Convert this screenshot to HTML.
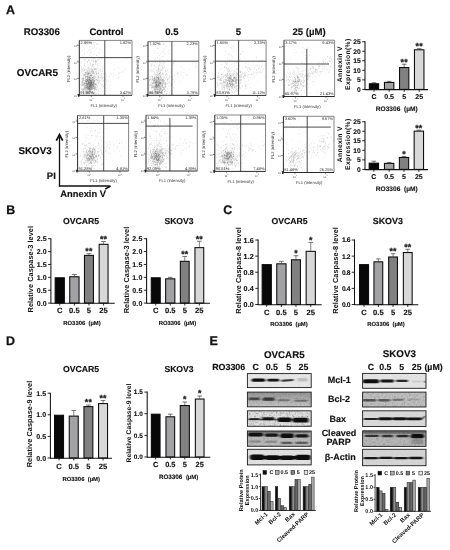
<!DOCTYPE html>
<html lang="en"><head><meta charset="utf-8"><title>Figure</title>
<style>html,body{margin:0;padding:0;background:#fff;}body{width:450px;height:550px;overflow:hidden;}svg{display:block;}</style></head>
<body>
<svg width="450" height="550" viewBox="0 0 450 550" font-family='"Liberation Sans", Arial, sans-serif' text-rendering="geometricPrecision">
<defs><filter id="bl" x="-20%" y="-50%" width="140%" height="200%"><feGaussianBlur stdDeviation="1.15 0.72"/></filter><filter id="nz" x="0" y="0" width="100%" height="100%"><feTurbulence type="fractalNoise" baseFrequency="0.55" numOctaves="2" seed="5"/><feColorMatrix type="matrix" values="2.2 0 0 0 -0.45  2.2 0 0 0 -0.45  2.2 0 0 0 -0.45  0 0 0 0 1"/></filter><linearGradient id="gd1" x1="0" y1="0" x2="0" y2="1"><stop offset="0" stop-color="#000" stop-opacity=".3"/><stop offset="1" stop-color="#000" stop-opacity="0"/></linearGradient></defs>
<rect x="0.00" y="0.00" width="450.00" height="550.00" fill="#ffffff" stroke="none" stroke-width="0.7" />
<text x="6.00" y="13.80" font-size="12.4" text-anchor="start" font-weight="bold" fill="#111" stroke="#111" stroke-width="0.25">A</text>
<text x="6.20" y="214.40" font-size="12.4" text-anchor="start" font-weight="bold" fill="#111" stroke="#111" stroke-width="0.25">B</text>
<text x="223.20" y="214.40" font-size="12.4" text-anchor="start" font-weight="bold" fill="#111" stroke="#111" stroke-width="0.25">C</text>
<text x="5.90" y="345.20" font-size="12.4" text-anchor="start" font-weight="bold" fill="#111" stroke="#111" stroke-width="0.25">D</text>
<text x="209.50" y="345.30" font-size="12.6" text-anchor="start" font-weight="bold" fill="#111" stroke="#111" stroke-width="0.25">E</text>
<text x="23.80" y="34.70" font-size="9.7" text-anchor="start" font-weight="bold" fill="#111"  stroke="#111" stroke-width="0.155">RO3306</text>
<text x="106.50" y="34.70" font-size="9.6" text-anchor="middle" font-weight="bold" fill="#111"  stroke="#111" stroke-width="0.154">Control</text>
<text x="171.80" y="34.70" font-size="9.6" text-anchor="middle" font-weight="bold" fill="#111"  stroke="#111" stroke-width="0.154">0.5</text>
<text x="238.50" y="34.70" font-size="9.6" text-anchor="middle" font-weight="bold" fill="#111"  stroke="#111" stroke-width="0.154">5</text>
<text x="309.00" y="34.70" font-size="9.6" text-anchor="middle" font-weight="bold" fill="#111"  stroke="#111" stroke-width="0.154">25 (µM)</text>
<text x="16.80" y="75.80" font-size="9.9" text-anchor="start" font-weight="bold" fill="#111"  stroke="#111" stroke-width="0.158">OVCAR5</text>
<text x="18.50" y="153.60" font-size="9.8" text-anchor="start" font-weight="bold" fill="#111"  stroke="#111" stroke-width="0.157">SKOV3</text>
<text x="46.80" y="179.00" font-size="9.5" text-anchor="start" font-weight="bold" fill="#111"  stroke="#111" stroke-width="0.152">PI</text>
<text x="60.30" y="197.40" font-size="9.35" text-anchor="start" font-weight="bold" fill="#111"  stroke="#111" stroke-width="0.150">Annexin V</text>
<line x1="59.50" y1="186.60" x2="59.50" y2="136.50" stroke="#111" stroke-width="1.3"/>
<path d="M56.3 140.6 L59.5 134.6 L62.7 140.6" fill="none" stroke="#111" stroke-width="1.75" stroke-linejoin="miter"/>
<line x1="58.85" y1="186.00" x2="109.60" y2="186.00" stroke="#111" stroke-width="1.3"/>
<path d="M105.2 189.2 L110.6 186.0" fill="none" stroke="#111" stroke-width="1.5"/>
<path d="M88.1 86.9h.6M88.2 82.2h.6M85.8 82.8h.6M92.8 86.4h.6M92.5 85.4h.6M90.3 85.0h.6M83.3 88.8h.6M90.7 86.8h.6M83.2 74.2h.6M86.0 81.4h.6M90.0 83.7h.6M90.8 80.4h.6M90.0 86.2h.6M86.8 93.6h.6M90.9 90.7h.6M86.9 79.9h.6M87.8 83.4h.6M91.1 85.4h.6M87.5 78.6h.6M87.2 90.8h.6M86.3 85.4h.6M90.5 75.7h.6M89.2 91.3h.6M82.2 82.2h.6M88.6 79.4h.6M90.7 83.7h.6M84.0 88.6h.6M91.3 89.3h.6M93.9 86.0h.6M89.4 76.7h.6M91.1 80.6h.6M87.5 76.9h.6M85.7 81.0h.6M93.4 72.6h.6M84.0 85.3h.6M93.9 87.2h.6M82.5 69.9h.6M90.2 79.9h.6M85.2 89.5h.6M92.7 84.9h.6M89.8 86.4h.6M94.4 87.5h.6M90.8 87.1h.6M83.7 91.2h.6M92.2 87.0h.6M82.3 80.5h.6M91.9 73.9h.6M88.4 89.7h.6M84.5 93.0h.6M90.9 83.2h.6M90.1 87.6h.6M89.4 90.4h.6M86.8 81.7h.6M92.5 84.2h.6M86.0 89.3h.6M94.0 81.5h.6M84.3 83.2h.6M88.5 82.3h.6M93.8 78.2h.6M93.3 76.9h.6M86.3 87.5h.6M92.8 88.8h.6M90.2 84.8h.6M89.5 87.2h.6M88.4 85.6h.6M90.9 84.0h.6M91.6 87.2h.6M95.8 85.8h.6M87.5 81.9h.6M89.0 89.2h.6M87.9 86.2h.6M95.2 69.6h.6M85.2 85.4h.6M90.4 85.3h.6M87.5 87.7h.6M90.0 81.1h.6M97.3 86.0h.6M87.1 83.4h.6M88.2 83.6h.6M92.4 77.5h.6M88.8 89.3h.6M91.9 92.3h.6M83.2 82.0h.6M87.8 87.5h.6M92.7 69.0h.6M92.7 75.9h.6M91.3 75.6h.6M89.6 90.7h.6M88.5 85.1h.6M91.7 84.8h.6M88.7 92.6h.6M92.6 82.4h.6M98.3 77.6h.6M92.1 82.5h.6M89.5 87.9h.6M89.8 87.6h.6M83.8 75.5h.6M91.1 78.6h.6M85.5 75.8h.6M93.3 88.2h.6M94.0 78.7h.6M89.0 77.6h.6M91.6 92.9h.6M86.0 92.7h.6M92.4 83.0h.6M82.3 91.9h.6M88.7 80.6h.6M90.4 86.3h.6M94.1 78.3h.6M92.9 92.3h.6M93.9 83.0h.6M86.5 89.7h.6M89.4 84.7h.6M93.8 82.5h.6M81.2 81.8h.6M82.7 88.6h.6M90.1 80.6h.6M89.0 88.7h.6M89.3 91.4h.6M88.8 89.8h.6M94.1 93.0h.6M86.7 88.9h.6M82.6 77.9h.6M82.3 90.0h.6M84.8 83.9h.6M88.3 83.8h.6M87.0 85.3h.6M95.1 84.2h.6M90.8 89.6h.6M88.3 76.9h.6M87.1 90.0h.6M83.4 80.7h.6M92.4 88.4h.6M89.0 88.5h.6M89.6 77.4h.6M83.7 80.4h.6M92.1 80.8h.6M85.9 79.7h.6M83.8 83.3h.6M85.0 86.0h.6M81.0 85.8h.6M86.8 73.1h.6M91.5 82.5h.6M81.4 79.1h.6M90.0 81.4h.6M91.7 88.2h.6M91.3 85.8h.6M93.5 87.7h.6M90.5 72.3h.6M92.0 91.3h.6M88.0 81.4h.6M95.6 74.2h.6M85.8 87.9h.6M95.4 83.3h.6M90.9 89.1h.6M85.9 83.5h.6M90.0 88.6h.6M88.9 82.9h.6M85.5 82.0h.6M92.0 84.6h.6M86.1 79.3h.6M98.1 90.4h.6M91.2 69.5h.6M91.1 86.7h.6M94.7 86.4h.6M88.8 86.9h.6M82.4 89.8h.6M90.1 80.1h.6M93.5 94.1h.6M84.2 80.3h.6M90.0 85.0h.6M87.6 78.5h.6M96.2 89.8h.6M84.9 76.5h.6M94.8 89.5h.6M95.2 88.5h.6M86.0 85.5h.6M81.7 79.8h.6M88.8 86.9h.6M86.5 83.3h.6M90.6 86.1h.6M91.2 85.2h.6M87.9 88.4h.6M89.2 79.4h.6M86.9 84.0h.6M88.6 84.9h.6M89.0 85.0h.6M88.5 77.0h.6M90.4 89.9h.6M90.5 82.9h.6M90.5 78.6h.6M82.6 84.3h.6M85.8 88.1h.6M85.3 69.3h.6M85.5 92.8h.6M87.7 76.3h.6M86.4 86.9h.6M90.7 85.0h.6M94.0 88.0h.6M88.9 87.3h.6M94.6 89.4h.6M92.5 77.9h.6M88.5 88.1h.6M88.0 90.0h.6M91.0 89.1h.6M93.2 82.8h.6M87.8 88.9h.6M92.3 84.0h.6M85.0 85.1h.6M90.2 90.3h.6M91.7 84.1h.6M91.9 87.0h.6M89.7 84.3h.6M88.2 87.8h.6M85.4 80.5h.6M89.0 75.8h.6M87.5 72.8h.6M86.7 87.2h.6M90.9 83.7h.6M88.2 76.1h.6M95.2 86.9h.6M92.7 79.1h.6M88.4 73.8h.6M91.7 89.2h.6M82.5 83.7h.6M91.1 74.1h.6M82.8 78.0h.6M86.9 76.1h.6M89.1 85.4h.6M91.2 87.9h.6M94.1 90.5h.6M84.5 81.2h.6M85.4 78.0h.6M88.7 84.0h.6M90.7 75.1h.6M84.8 83.9h.6M88.3 82.3h.6M88.8 79.7h.6M91.4 86.0h.6M88.7 80.2h.6M88.4 68.8h.6M85.7 84.2h.6M83.9 85.1h.6M89.5 76.3h.6M88.1 82.2h.6M90.6 87.4h.6M88.9 79.2h.6M88.5 83.6h.6M91.5 85.6h.6M86.5 76.4h.6M87.7 79.9h.6M85.2 83.4h.6M87.3 84.6h.6M90.8 81.7h.6M96.9 82.2h.6M92.7 84.7h.6M92.8 70.7h.6M86.4 85.4h.6M90.1 91.2h.6M91.6 89.3h.6M90.7 83.1h.6M90.7 78.0h.6M93.0 78.3h.6M88.2 84.1h.6M93.0 84.1h.6M86.3 85.4h.6M91.0 88.0h.6M86.4 93.8h.6M94.7 84.1h.6M89.9 81.6h.6M93.8 80.1h.6M91.3 81.3h.6M86.6 88.0h.6M93.5 83.9h.6M86.7 88.5h.6M88.8 85.7h.6M94.2 90.3h.6M89.0 88.4h.6M86.8 83.7h.6M83.1 94.0h.6M93.6 77.2h.6M83.9 74.9h.6M93.0 81.4h.6M88.8 82.2h.6M88.6 77.9h.6M89.1 75.9h.6M88.8 85.7h.6M90.6 82.7h.6M85.9 84.9h.6M87.4 92.8h.6M91.6 83.4h.6M87.4 80.1h.6M85.8 82.0h.6M90.0 86.9h.6M86.6 84.1h.6M98.5 73.5h.6M87.2 84.9h.6M89.5 86.3h.6M88.2 86.1h.6M89.2 88.3h.6M82.6 79.0h.6M89.0 78.2h.6M85.4 87.5h.6M86.8 87.6h.6M91.5 85.7h.6M90.7 83.4h.6M84.2 83.8h.6M90.5 81.0h.6M88.7 88.2h.6M86.0 87.6h.6M95.3 80.9h.6M89.5 83.2h.6M94.2 85.8h.6M92.1 80.1h.6M88.9 83.9h.6M83.0 92.1h.6M92.1 74.2h.6M91.5 83.3h.6M90.5 86.1h.6M83.9 82.8h.6M94.1 80.8h.6M85.5 76.4h.6M84.8 85.9h.6M94.8 86.4h.6M87.2 80.2h.6M90.8 87.1h.6M85.5 77.4h.6M90.0 85.4h.6M84.6 82.9h.6M87.2 86.6h.6M88.6 83.5h.6M87.8 89.9h.6M93.7 81.9h.6M91.9 79.8h.6M89.2 88.2h.6M94.1 81.9h.6M88.7 85.1h.6M83.9 84.1h.6M86.7 86.1h.6M85.2 72.9h.6M89.1 85.5h.6M87.1 89.0h.6M88.1 80.6h.6M90.6 75.2h.6M86.7 83.9h.6M91.9 83.1h.6M90.0 80.3h.6M90.0 93.3h.6M86.8 84.1h.6M89.6 89.7h.6M84.8 72.2h.6M91.1 88.5h.6M89.7 85.4h.6M92.2 86.1h.6M94.7 77.1h.6M87.7 64.7h.6M91.8 81.9h.6M89.0 82.6h.6M87.3 79.3h.6M86.9 87.6h.6M89.1 84.4h.6M88.4 89.1h.6M90.7 83.2h.6M91.3 83.2h.6M85.1 92.1h.6M90.6 78.6h.6M92.7 85.9h.6M83.7 93.0h.6M90.1 89.0h.6M89.7 83.2h.6M83.7 89.4h.6M89.1 82.4h.6M90.2 84.4h.6M91.3 81.9h.6M88.9 72.0h.6M87.6 87.8h.6M93.5 82.0h.6M88.6 92.9h.6M87.9 88.1h.6M94.7 84.2h.6M93.2 80.0h.6M89.7 83.6h.6M89.4 90.3h.6M97.1 80.3h.6M87.0 86.8h.6M85.4 86.8h.6M90.9 82.4h.6M90.8 75.3h.6M91.6 75.3h.6M86.6 80.9h.6M87.6 88.8h.6M89.3 81.8h.6M90.8 92.9h.6M89.0 86.0h.6M93.2 85.5h.6M96.5 72.9h.6M88.9 86.3h.6M92.3 87.7h.6M88.1 78.1h.6M89.4 89.8h.6M85.3 78.2h.6M88.9 73.2h.6M88.1 81.6h.6M90.5 80.1h.6M86.0 81.8h.6M88.8 80.3h.6M89.0 88.2h.6M93.0 93.5h.6M86.3 81.6h.6M86.5 83.8h.6M90.8 76.4h.6M90.6 83.9h.6M82.8 85.6h.6M93.1 73.5h.6M91.7 85.2h.6M90.6 86.5h.6M93.4 82.7h.6M92.0 81.7h.6M91.5 79.4h.6M88.6 93.7h.6M90.5 83.1h.6M85.1 79.6h.6M89.7 89.3h.6M90.4 86.9h.6M88.9 91.6h.6M87.7 80.9h.6M92.0 84.4h.6M88.1 80.8h.6M88.1 87.5h.6M90.2 77.2h.6M90.4 85.0h.6M85.6 88.3h.6M88.0 82.1h.6M91.7 91.4h.6M86.7 86.5h.6M87.3 90.7h.6M86.8 88.5h.6M96.5 69.8h.6M87.5 86.8h.6M88.7 80.3h.6M96.3 84.4h.6M83.4 88.8h.6M83.1 90.4h.6M87.0 84.8h.6M93.3 84.7h.6M84.3 74.5h.6M93.0 88.1h.6M86.2 88.8h.6M90.7 87.6h.6M81.3 82.3h.6M92.1 88.1h.6M92.0 70.2h.6M89.6 86.8h.6M97.7 78.7h.6M87.9 84.2h.6M92.0 81.5h.6M92.9 79.6h.6M89.9 81.0h.6M89.5 80.1h.6M83.6 90.1h.6M90.0 80.9h.6M89.7 89.5h.6M85.7 83.4h.6M90.8 86.9h.6M87.9 72.2h.6M93.2 85.8h.6M89.0 82.4h.6M89.9 81.6h.6M85.5 79.9h.6M87.0 80.6h.6M85.1 87.6h.6M84.5 87.7h.6M85.6 86.0h.6M93.7 85.1h.6M86.5 84.3h.6M89.5 74.3h.6M86.9 84.9h.6M87.4 84.4h.6M91.5 88.3h.6M92.1 87.3h.6M88.0 83.9h.6M88.1 82.2h.6M88.4 74.3h.6M87.9 83.9h.6M85.7 83.9h.6M90.8 83.1h.6M96.1 69.4h.6M88.3 73.8h.6M80.5 84.7h.6M90.8 82.3h.6M90.9 71.4h.6M91.9 86.1h.6M89.1 80.7h.6M91.2 81.3h.6M89.8 81.1h.6M81.4 83.8h.6M89.7 88.2h.6M86.0 83.8h.6M91.1 84.8h.6M85.9 73.2h.6M91.9 92.6h.6M92.1 88.6h.6M86.9 80.0h.6M92.0 78.9h.6M82.8 78.4h.6M86.7 79.9h.6M89.8 79.8h.6M93.5 83.6h.6M85.3 91.3h.6M87.0 85.2h.6M89.0 82.2h.6M90.1 80.1h.6M82.7 71.6h.6M84.7 79.8h.6M88.9 84.3h.6M90.9 84.7h.6M86.3 80.0h.6M81.8 83.1h.6M90.6 87.0h.6M88.6 83.0h.6M92.2 84.1h.6M91.5 87.3h.6M89.7 91.3h.6M87.1 82.0h.6M86.3 79.5h.6M94.3 93.9h.6M89.1 87.2h.6M93.0 88.5h.6M93.1 76.9h.6M86.8 86.5h.6M93.9 84.6h.6M86.1 82.0h.6M86.8 79.2h.6M94.1 80.5h.6M93.0 85.9h.6M86.9 86.3h.6M94.5 87.5h.6M93.3 84.5h.6M90.8 82.9h.6M90.5 91.3h.6M84.1 83.6h.6M89.8 80.8h.6M88.0 88.4h.6M95.8 87.5h.6M90.1 75.3h.6M95.6 84.4h.6M88.9 77.7h.6M88.8 77.9h.6M89.2 86.6h.6M89.1 85.6h.6M86.1 92.0h.6M86.8 73.8h.6M88.4 79.7h.6M85.6 82.0h.6M90.0 77.4h.6M88.5 92.0h.6M91.3 83.1h.6M89.4 83.3h.6M88.8 88.1h.6M88.7 70.5h.6M88.9 79.0h.6M91.2 80.6h.6M85.4 77.7h.6M84.2 70.6h.6M82.6 86.0h.6M86.8 73.5h.6M84.0 87.5h.6M86.4 81.9h.6M90.1 91.6h.6M95.6 89.8h.6M89.5 85.0h.6M95.1 92.0h.6M87.9 86.6h.6M90.0 84.3h.6M87.3 76.6h.6M87.2 75.4h.6M93.2 87.0h.6M84.9 91.8h.6M92.0 73.3h.6M95.3 88.5h.6M96.0 77.1h.6M90.8 86.4h.6M89.7 85.0h.6M92.6 75.6h.6M84.8 76.2h.6M87.1 80.6h.6M90.2 85.5h.6M89.1 80.2h.6M87.5 89.3h.6M91.6 84.6h.6M87.9 92.7h.6M87.0 87.6h.6M92.9 82.5h.6M91.8 77.8h.6M92.4 85.1h.6M83.6 87.7h.6M86.0 91.2h.6M86.7 83.1h.6M90.0 82.1h.6M89.9 80.9h.6M91.3 84.0h.6M89.7 68.6h.6M92.9 84.2h.6M82.9 84.5h.6M90.6 90.0h.6M85.3 92.7h.6M88.5 87.8h.6M87.8 77.8h.6M92.7 89.1h.6M94.2 88.8h.6M87.1 74.7h.6M86.8 80.2h.6M86.2 87.3h.6M90.1 82.5h.6M89.6 83.2h.6M89.7 88.2h.6M92.3 80.2h.6M83.9 92.0h.6M89.4 90.2h.6M90.7 65.8h.6M87.2 86.4h.6M84.9 66.2h.6M93.9 88.5h.6M91.7 67.1h.6M95.6 87.0h.6M94.1 74.9h.6M92.5 87.0h.6M86.9 61.9h.6M92.6 84.1h.6M90.6 88.0h.6M86.7 78.7h.6M88.5 84.9h.6M100.8 77.1h.6M103.8 94.1h.6M95.6 85.1h.6M101.9 77.8h.6M89.8 69.4h.6M93.6 92.3h.6M93.9 83.5h.6M89.2 81.1h.6M81.3 89.5h.6M87.9 69.0h.6M85.6 71.7h.6M96.0 89.6h.6M81.7 88.3h.6M96.2 74.0h.6M80.9 72.4h.6M86.4 82.8h.6M88.2 60.2h.6M92.0 64.9h.6M96.3 68.0h.6M86.0 71.4h.6M87.0 91.9h.6M96.0 85.2h.6M92.6 64.8h.6M87.1 74.2h.6M84.2 84.3h.6M85.7 72.7h.6M83.8 59.9h.6M94.3 92.2h.6M91.6 70.2h.6M98.4 82.3h.6M96.5 93.6h.6M97.8 75.3h.6M97.3 86.9h.6M80.6 75.6h.6M81.3 78.5h.6M94.2 69.3h.6M92.9 93.5h.6M81.9 89.6h.6M89.1 82.1h.6M89.5 89.0h.6M97.2 80.3h.6M81.7 86.6h.6M87.5 85.5h.6M97.8 75.2h.6M87.0 83.6h.6M98.2 91.5h.6M93.9 66.9h.6M82.4 81.9h.6M84.9 90.3h.6M95.5 63.6h.6M85.2 81.1h.6M87.3 78.0h.6M93.5 71.8h.6M93.5 73.4h.6M87.0 84.6h.6M86.8 82.2h.6M100.8 79.8h.6M89.6 86.5h.6M88.1 89.8h.6M82.2 85.4h.6M87.2 71.9h.6M101.9 71.4h.6M101.8 85.8h.6M99.9 70.2h.6M98.2 93.4h.6M89.7 78.3h.6M106.4 81.2h.6M87.8 73.5h.6M93.4 82.6h.6M88.4 84.0h.6M99.9 69.9h.6M81.7 69.1h.6M83.8 61.9h.6M93.4 61.8h.6M93.7 93.3h.6M85.7 77.0h.6M90.9 84.7h.6M88.3 79.6h.6M87.0 80.6h.6M82.9 80.1h.6M102.9 80.3h.6M82.4 81.9h.6M84.2 63.8h.6M85.7 86.5h.6M93.0 78.6h.6M84.5 69.2h.6M99.2 81.8h.6M84.4 59.4h.6M83.1 78.8h.6M91.9 78.0h.6M88.7 66.4h.6M85.6 87.5h.6M92.2 89.4h.6M83.2 85.2h.6M93.0 72.5h.6M93.6 71.0h.6M85.4 79.3h.6M84.0 65.6h.6M87.8 86.8h.6M87.9 91.6h.6M83.0 67.0h.6M100.5 83.3h.6M96.6 71.6h.6M95.7 82.0h.6M94.7 79.7h.6M98.3 73.3h.6M84.3 65.4h.6M98.0 72.5h.6M83.8 70.6h.6M87.6 67.4h.6M88.6 73.5h.6M86.9 70.4h.6M90.7 75.1h.6M91.2 81.9h.6M92.7 58.7h.6M87.0 71.9h.6M95.5 64.5h.6M85.9 76.7h.6M88.3 88.9h.6M87.6 88.7h.6M81.0 62.2h.6M98.4 83.6h.6M93.7 80.7h.6M93.6 67.9h.6M96.6 74.4h.6M96.9 80.3h.6M97.8 78.2h.6M87.9 81.8h.6M87.8 74.3h.6M91.2 80.9h.6M100.3 79.9h.6M101.6 89.6h.6M91.3 80.8h.6M89.6 72.5h.6M90.1 73.4h.6M101.1 84.6h.6M87.6 61.3h.6M90.2 75.5h.6M83.5 68.7h.6M90.3 78.1h.6M99.8 80.8h.6M91.6 76.0h.6M86.6 93.8h.6M88.2 79.8h.6M84.8 88.7h.6M81.5 84.9h.6M97.6 92.9h.6M84.4 89.9h.6M85.9 72.3h.6M82.0 90.5h.6M101.1 73.8h.6M85.6 76.3h.6M106.7 89.1h.6M87.0 62.4h.6M86.2 90.8h.6M102.6 77.0h.6M86.0 74.6h.6M83.5 89.6h.6M92.4 72.2h.6M95.5 79.6h.6M82.9 85.4h.6M95.9 61.3h.6M102.3 84.2h.6M95.4 61.8h.6M85.9 76.2h.6M97.5 65.6h.6M84.8 60.2h.6M88.9 82.8h.6M94.8 76.6h.6M82.9 70.6h.6M86.2 80.9h.6M92.4 69.3h.6M100.5 88.5h.6M91.2 72.6h.6M96.4 71.9h.6M82.0 81.4h.6M92.1 85.3h.6M94.7 92.9h.6M85.1 88.8h.6M84.1 86.1h.6M91.7 81.8h.6M96.8 79.3h.6M97.7 87.8h.6M91.4 74.1h.6M85.6 74.5h.6M89.2 79.3h.6M109.8 85.6h.6M95.5 71.3h.6M85.9 76.5h.6M91.7 69.6h.6M100.9 74.1h.6M97.5 57.3h.6M90.5 82.1h.6M91.7 85.2h.6M92.3 81.0h.6M92.5 77.6h.6M85.2 74.0h.6M90.1 91.8h.6M87.4 71.2h.6M86.9 81.3h.6M110.0 73.2h.6M90.8 82.1h.6M90.3 88.4h.6M102.0 67.7h.6M91.5 77.0h.6M92.8 64.9h.6M93.9 81.3h.6M91.0 57.0h.6M88.1 72.3h.6M81.4 70.8h.6M95.0 84.7h.6M90.4 84.4h.6M86.6 80.2h.6M90.8 84.8h.6M90.0 78.1h.6M89.6 73.4h.6M104.9 84.4h.6M99.6 64.7h.6M95.0 87.5h.6M102.7 92.0h.6M95.5 68.3h.6M84.9 82.1h.6M93.8 69.8h.6M88.0 75.7h.6M90.9 82.7h.6M88.6 67.7h.6M89.8 89.3h.6M93.4 85.8h.6M93.6 72.2h.6M94.2 89.1h.6M103.4 86.6h.6M88.3 73.8h.6M85.2 80.6h.6M90.3 85.9h.6M105.2 79.2h.6M94.9 84.0h.6M92.3 77.5h.6M89.7 71.7h.6M91.7 79.3h.6M92.6 71.4h.6M90.8 80.0h.6M94.4 69.4h.6M93.2 88.9h.6M94.4 76.0h.6M87.3 77.3h.6M95.2 94.3h.6M89.5 73.4h.6M92.9 81.4h.6M84.6 72.5h.6M89.8 85.9h.6M82.8 69.8h.6M93.7 67.8h.6M91.2 82.9h.6M89.8 69.8h.6M90.1 76.3h.6M92.7 71.5h.6M97.6 63.6h.6M89.4 79.6h.6M96.7 73.7h.6M94.0 74.1h.6M87.9 83.7h.6M84.5 88.8h.6M98.3 79.8h.6M83.2 83.3h.6M97.9 89.9h.6M95.8 62.1h.6M86.1 93.0h.6M82.6 90.3h.6M102.7 86.8h.6M97.7 76.3h.6M82.6 78.5h.6M89.2 79.0h.6M95.0 78.1h.6M91.7 83.5h.6M93.4 80.3h.6M89.2 73.5h.6M99.2 80.9h.6M83.5 74.1h.6M89.6 75.3h.6M97.5 68.4h.6M93.7 80.9h.6M82.9 80.0h.6M89.9 84.3h.6M87.6 82.4h.6M95.6 89.4h.6M90.4 73.8h.6M97.5 59.6h.6M85.3 85.9h.6M94.7 69.7h.6M91.5 71.0h.6M90.9 88.1h.6M95.3 59.7h.6M95.5 62.6h.6M97.9 83.3h.6M105.1 73.7h.6M90.5 89.5h.6M86.4 72.8h.6M88.1 78.8h.6M83.5 84.1h.6M94.0 80.2h.6M101.5 76.4h.6M98.9 74.3h.6M95.4 61.1h.6M91.8 77.8h.6M87.3 73.7h.6M88.3 72.6h.6M86.9 74.5h.6M83.7 78.2h.6M95.6 77.1h.6M87.3 92.4h.6M96.8 88.3h.6M98.0 76.4h.6M89.7 90.1h.6M86.9 78.4h.6M92.9 83.0h.6M88.7 88.9h.6M89.3 86.4h.6M97.4 85.8h.6M95.2 68.5h.6M82.0 73.6h.6M93.6 93.8h.6M82.6 82.4h.6M85.0 72.5h.6M88.7 86.1h.6M91.9 90.7h.6M84.1 88.0h.6M96.5 80.2h.6M93.6 74.1h.6M83.5 75.6h.6M91.8 82.5h.6M95.3 72.1h.6M96.4 83.1h.6M80.7 85.2h.6M94.1 83.8h.6M100.7 75.6h.6M93.8 86.6h.6M84.7 90.9h.6M81.1 67.1h.6M93.9 69.1h.6M89.7 63.8h.6M90.9 68.7h.6M92.7 64.9h.6M93.4 77.0h.6M90.9 78.9h.6M91.3 66.9h.6M84.5 75.2h.6M93.3 60.6h.6M85.6 73.7h.6M83.7 82.6h.6M89.6 71.7h.6M84.1 87.2h.6M86.2 85.1h.6M93.4 61.5h.6M83.5 79.5h.6M92.7 86.9h.6M95.7 89.3h.6M88.1 77.5h.6M95.5 75.4h.6M97.3 64.4h.6M94.7 77.9h.6M92.5 79.7h.6M83.5 75.1h.6M100.3 71.6h.6M82.8 78.2h.6M88.0 70.8h.6M85.1 89.5h.6M87.0 69.1h.6M95.6 84.9h.6M83.8 86.6h.6M97.8 77.1h.6M82.1 84.4h.6M96.4 79.3h.6M93.2 86.8h.6M102.5 77.1h.6M87.4 79.1h.6M98.3 70.5h.6M98.9 53.3h.6M95.7 73.1h.6M93.5 86.1h.6M82.9 78.7h.6M92.1 85.1h.6M84.5 70.1h.6M89.3 77.4h.6M80.8 88.4h.6M87.0 93.2h.6M96.0 79.7h.6M95.2 68.9h.6M88.4 74.0h.6M82.3 79.7h.6M89.6 93.2h.6M84.6 75.1h.6M93.2 83.3h.6M90.7 75.0h.6M93.7 82.9h.6M81.6 68.3h.6M91.4 80.1h.6M91.2 71.2h.6M89.2 70.8h.6M93.0 86.1h.6M101.8 91.6h.6M85.3 75.1h.6M84.4 82.4h.6M103.3 86.2h.6M82.1 84.4h.6M90.5 82.4h.6M102.0 71.6h.6M92.7 72.1h.6M90.8 89.0h.6M119.4 72.8h.6M118.4 67.8h.6M103.0 81.1h.6M101.8 78.5h.6M116.5 75.3h.6M106.2 76.0h.6M97.7 77.3h.6M102.6 80.8h.6M105.9 79.3h.6M108.3 81.0h.6M94.1 88.4h.6M90.8 82.9h.6M123.4 71.2h.6M113.3 76.2h.6M103.7 77.3h.6M99.3 78.8h.6M118.1 77.9h.6M112.9 73.8h.6M116.7 78.9h.6M92.3 80.1h.6M103.1 73.7h.6M114.4 69.2h.6M109.1 76.4h.6M121.2 72.5h.6M92.8 79.4h.6M111.1 74.5h.6M104.6 78.6h.6M118.2 73.4h.6M126.2 58.8h.6M125.3 69.6h.6M89.3 77.8h.6M101.9 78.8h.6M118.4 77.2h.6M104.5 74.1h.6M100.4 77.4h.6M91.6 44.1h.6M90.5 49.1h.6M93.5 58.2h.6M96.4 44.0h.6M89.1 49.9h.6M99.2 77.3h.6M84.2 53.0h.6M88.3 60.5h.6M90.0 42.4h.6M87.4 77.1h.6M92.7 44.2h.6M87.6 77.9h.6M90.7 52.6h.6M90.9 47.0h.6M93.0 80.4h.6M88.4 73.6h.6M99.2 58.8h.6M96.3 73.5h.6M94.1 46.1h.6M88.1 81.8h.6M80.9 71.2h.6M97.8 73.1h.6M95.7 61.2h.6M85.3 44.7h.6M90.2 63.7h.6M86.5 81.0h.6M98.4 44.2h.6M98.6 71.6h.6M93.5 65.1h.6M88.0 82.7h.6M87.6 52.8h.6M86.8 44.9h.6M88.5 50.8h.6M96.4 55.3h.6M97.6 70.3h.6M98.4 52.3h.6M92.3 60.9h.6M98.5 81.3h.6M89.3 79.2h.6M95.7 48.3h.6M87.5 76.3h.6M90.1 65.2h.6M92.2 70.1h.6M88.7 67.3h.6M83.0 77.0h.6M94.2 47.2h.6M90.7 51.0h.6M97.0 44.9h.6M91.3 71.6h.6M95.5 61.0h.6M95.7 61.9h.6M95.1 57.5h.6M93.0 42.8h.6M93.8 83.7h.6M92.0 72.2h.6M89.7 83.2h.6M89.6 62.7h.6M91.0 60.5h.6M94.5 42.7h.6M98.3 80.7h.6M87.3 81.3h.6M86.0 69.5h.6M92.0 48.2h.6M96.1 43.6h.6M93.6 54.7h.6M81.7 50.1h.6M85.2 81.0h.6M84.0 49.4h.6M94.2 73.3h.6M82.0 56.0h.6M96.1 55.7h.6M101.3 57.7h.6M87.0 77.0h.6M90.4 52.4h.6M98.8 68.5h.6M93.8 76.5h.6M88.7 81.7h.6M80.6 63.0h.6M88.8 54.9h.6M92.0 66.6h.6M99.3 49.2h.6M96.0 60.8h.6M94.3 44.1h.6M91.6 60.7h.6M95.2 42.5h.6M100.1 77.4h.6M97.9 60.1h.6M84.5 54.2h.6M88.6 59.9h.6" stroke="#333" stroke-width=".6" stroke-opacity=".34" fill="none"/>
<path d="M79.30 40.40H132.00V95.30" fill="none" stroke="#444" stroke-width=".65"/>
<path d="M79.30 40.40V95.30H132.00" fill="none" stroke="#1e1e1e" stroke-width=".95"/>
<line x1="104.80" y1="40.40" x2="104.80" y2="95.30" stroke="#2c2c2c" stroke-width="0.85"/>
<line x1="79.30" y1="57.60" x2="132.00" y2="57.60" stroke="#2c2c2c" stroke-width="0.85"/>
<line x1="77.50" y1="94.90" x2="79.30" y2="94.90" stroke="#333" stroke-width="0.5"/>
<text x="76.90" y="96.50" font-size="2.6" text-anchor="end" font-weight="normal" fill="#444" >10</text>
<text x="78.10" y="95.10" font-size="1.8" text-anchor="end" font-weight="normal" fill="#444" >0</text>
<line x1="77.50" y1="78.40" x2="79.30" y2="78.40" stroke="#333" stroke-width="0.5"/>
<text x="76.90" y="80.00" font-size="2.6" text-anchor="end" font-weight="normal" fill="#444" >10</text>
<text x="78.10" y="78.60" font-size="1.8" text-anchor="end" font-weight="normal" fill="#444" >1</text>
<line x1="77.50" y1="61.90" x2="79.30" y2="61.90" stroke="#333" stroke-width="0.5"/>
<text x="76.90" y="63.50" font-size="2.6" text-anchor="end" font-weight="normal" fill="#444" >10</text>
<text x="78.10" y="62.10" font-size="1.8" text-anchor="end" font-weight="normal" fill="#444" >2</text>
<line x1="77.50" y1="45.40" x2="79.30" y2="45.40" stroke="#333" stroke-width="0.5"/>
<text x="76.90" y="47.00" font-size="2.6" text-anchor="end" font-weight="normal" fill="#444" >10</text>
<text x="78.10" y="45.60" font-size="1.8" text-anchor="end" font-weight="normal" fill="#444" >3</text>
<line x1="91.42" y1="95.30" x2="91.42" y2="97.10" stroke="#333" stroke-width="0.5"/>
<text x="90.82" y="100.50" font-size="2.6" text-anchor="middle" font-weight="normal" fill="#444" >10</text>
<text x="92.92" y="99.10" font-size="1.8" text-anchor="middle" font-weight="normal" fill="#444" >1</text>
<line x1="123.04" y1="95.30" x2="123.04" y2="97.10" stroke="#333" stroke-width="0.5"/>
<text x="122.44" y="100.50" font-size="2.6" text-anchor="middle" font-weight="normal" fill="#444" >10</text>
<text x="124.54" y="99.10" font-size="1.8" text-anchor="middle" font-weight="normal" fill="#444" >2</text>
<rect x="77.90" y="94.10" width="1.60" height="2.60" fill="#222" stroke="none" stroke-width="0.7" />
<text x="80.60" y="44.40" font-size="4.0" text-anchor="start" font-weight="normal" fill="#333" >2.86%</text>
<text x="131.10" y="44.40" font-size="4.0" text-anchor="end" font-weight="normal" fill="#333" >1.82%</text>
<text x="80.20" y="93.80" font-size="4.0" text-anchor="start" font-weight="normal" fill="#333" >91.90%</text>
<text x="131.10" y="93.80" font-size="4.0" text-anchor="end" font-weight="normal" fill="#333" >3.42%</text>
<text x="103.65" y="106.70" font-size="4.2" text-anchor="middle" font-weight="normal" fill="#333" >FL1 (intensity)</text>
<text transform="translate(69.90 68.85) rotate(-90)" font-size="4.2" text-anchor="middle" font-weight="normal" fill="#333" letter-spacing="0">FL2 (intensity)</text>
<path d="M153.8 81.2h.6M160.8 79.0h.6M151.7 87.4h.6M156.3 82.7h.6M161.2 79.6h.6M156.2 85.3h.6M158.9 81.6h.6M150.2 92.3h.6M156.3 85.3h.6M156.3 81.0h.6M153.1 82.3h.6M162.0 90.9h.6M156.3 81.6h.6M155.1 77.8h.6M163.7 88.2h.6M157.9 81.8h.6M154.0 91.8h.6M160.2 79.2h.6M160.9 78.3h.6M159.7 79.1h.6M156.1 87.3h.6M159.0 90.1h.6M154.6 93.3h.6M162.1 84.4h.6M159.1 80.2h.6M157.0 77.1h.6M157.8 85.6h.6M162.1 89.8h.6M160.3 82.5h.6M156.7 82.6h.6M158.3 73.8h.6M160.2 75.8h.6M155.7 84.6h.6M155.7 93.8h.6M157.2 93.3h.6M161.6 81.7h.6M158.9 91.7h.6M156.3 85.0h.6M155.6 84.8h.6M156.3 85.0h.6M161.0 92.3h.6M158.0 85.6h.6M160.5 82.9h.6M153.8 90.7h.6M154.3 89.7h.6M153.9 89.2h.6M162.7 79.1h.6M162.6 79.9h.6M151.4 88.5h.6M159.9 83.4h.6M156.4 82.4h.6M156.5 74.5h.6M162.8 82.5h.6M155.0 86.7h.6M161.2 88.5h.6M153.5 85.4h.6M158.0 92.5h.6M161.6 87.4h.6M161.7 82.3h.6M162.8 82.1h.6M158.9 89.6h.6M154.3 80.6h.6M151.4 85.4h.6M157.3 82.7h.6M159.2 72.7h.6M157.4 85.0h.6M156.6 88.9h.6M163.6 82.0h.6M154.3 81.1h.6M157.8 87.8h.6M154.5 90.1h.6M154.0 89.1h.6M159.0 87.1h.6M165.0 83.0h.6M156.9 87.2h.6M160.5 77.0h.6M158.5 80.4h.6M159.7 92.1h.6M157.7 83.9h.6M158.1 68.0h.6M160.2 87.6h.6M158.1 82.3h.6M155.0 83.5h.6M161.7 83.9h.6M162.2 70.2h.6M155.9 86.0h.6M157.5 75.3h.6M155.2 91.5h.6M153.0 79.0h.6M153.7 81.4h.6M159.7 87.8h.6M150.5 92.6h.6M155.5 81.2h.6M163.3 84.0h.6M153.2 80.9h.6M155.0 78.9h.6M156.3 89.4h.6M158.7 76.8h.6M167.1 79.0h.6M157.9 84.7h.6M160.1 82.7h.6M157.8 78.5h.6M158.6 80.0h.6M156.2 85.5h.6M158.7 82.9h.6M160.4 83.4h.6M153.0 89.4h.6M156.2 91.3h.6M155.2 87.7h.6M158.6 69.5h.6M152.3 78.3h.6M162.4 74.0h.6M160.7 90.6h.6M159.2 88.3h.6M155.8 84.4h.6M158.3 86.8h.6M159.9 83.3h.6M155.1 81.4h.6M158.9 75.3h.6M153.2 82.2h.6M155.6 83.0h.6M156.6 88.8h.6M150.7 82.8h.6M159.1 87.2h.6M161.6 90.4h.6M153.9 88.0h.6M156.3 80.0h.6M162.8 81.0h.6M154.5 82.2h.6M154.6 90.1h.6M158.8 92.3h.6M158.9 81.1h.6M161.1 80.8h.6M155.9 83.6h.6M157.6 91.2h.6M155.4 86.5h.6M157.4 77.5h.6M153.7 83.3h.6M158.9 86.3h.6M159.2 84.8h.6M155.9 86.9h.6M154.0 77.0h.6M156.3 76.5h.6M155.7 80.3h.6M155.6 84.2h.6M154.7 82.1h.6M151.6 85.3h.6M154.4 86.8h.6M158.3 70.9h.6M156.2 85.0h.6M157.9 76.1h.6M158.3 85.3h.6M154.1 88.7h.6M157.3 84.6h.6M155.9 87.6h.6M157.8 90.9h.6M159.1 81.0h.6M156.7 89.6h.6M156.2 86.6h.6M159.3 83.5h.6M149.4 85.2h.6M158.2 85.3h.6M154.9 91.3h.6M157.0 81.0h.6M155.0 86.5h.6M153.7 78.9h.6M164.5 91.8h.6M161.2 92.2h.6M159.6 75.0h.6M161.7 91.5h.6M159.2 73.5h.6M161.8 92.2h.6M155.8 85.2h.6M160.2 84.0h.6M161.3 85.0h.6M159.9 85.0h.6M152.3 78.9h.6M168.5 86.1h.6M162.1 90.9h.6M163.5 87.6h.6M155.4 84.6h.6M150.8 83.4h.6M160.7 72.3h.6M158.2 89.1h.6M162.1 79.3h.6M155.2 73.9h.6M153.9 87.5h.6M164.7 78.1h.6M162.3 86.9h.6M158.0 90.0h.6M162.3 87.4h.6M158.8 83.5h.6M156.1 77.6h.6M164.3 82.0h.6M150.2 86.0h.6M157.4 85.5h.6M163.9 83.9h.6M156.6 80.3h.6M157.4 82.0h.6M158.9 79.7h.6M164.3 89.4h.6M160.4 88.5h.6M160.4 88.3h.6M162.4 90.2h.6M162.2 81.7h.6M157.5 80.4h.6M160.9 89.2h.6M155.9 87.8h.6M166.7 91.5h.6M153.6 84.0h.6M159.7 84.3h.6M158.9 91.2h.6M158.7 78.3h.6M160.0 83.9h.6M157.9 81.3h.6M152.7 77.5h.6M156.3 78.5h.6M153.4 80.4h.6M159.4 70.9h.6M162.2 80.2h.6M159.8 81.8h.6M158.6 85.1h.6M157.5 74.2h.6M152.3 84.3h.6M162.4 81.4h.6M159.4 85.4h.6M159.2 90.1h.6M152.2 86.1h.6M156.9 82.7h.6M154.5 80.1h.6M153.9 78.3h.6M166.3 94.1h.6M157.5 88.7h.6M154.1 68.8h.6M151.1 85.3h.6M162.5 84.3h.6M154.0 83.1h.6M154.0 76.6h.6M156.7 82.2h.6M154.7 79.5h.6M154.2 85.8h.6M162.4 83.3h.6M165.3 75.4h.6M158.5 78.0h.6M156.9 85.1h.6M159.5 90.9h.6M155.6 77.5h.6M156.8 86.2h.6M155.0 89.6h.6M163.4 76.5h.6M158.8 90.2h.6M150.8 85.7h.6M156.7 76.5h.6M162.1 85.7h.6M155.8 87.0h.6M159.8 88.8h.6M159.5 86.8h.6M153.4 82.1h.6M158.0 68.9h.6M165.0 82.4h.6M153.8 74.2h.6M158.4 84.7h.6M155.5 82.1h.6M154.4 80.3h.6M157.2 80.9h.6M159.9 83.7h.6M158.0 86.8h.6M162.0 87.9h.6M158.3 83.6h.6M154.7 82.6h.6M159.9 85.8h.6M156.1 77.0h.6M152.1 86.3h.6M161.1 86.6h.6M152.7 83.3h.6M158.3 79.3h.6M158.7 83.4h.6M154.6 77.5h.6M160.3 86.5h.6M154.4 78.8h.6M160.6 87.9h.6M156.4 93.5h.6M156.5 78.5h.6M161.3 83.4h.6M158.7 84.7h.6M154.0 77.8h.6M156.8 92.4h.6M154.0 92.2h.6M158.3 78.2h.6M158.4 87.7h.6M154.3 72.5h.6M158.7 78.2h.6M159.0 73.7h.6M157.0 79.9h.6M152.3 83.1h.6M158.1 81.4h.6M153.4 85.7h.6M151.4 87.5h.6M159.2 94.0h.6M160.6 86.5h.6M158.4 84.7h.6M152.9 92.7h.6M159.3 82.9h.6M153.5 92.9h.6M159.4 77.8h.6M157.4 86.8h.6M156.0 81.0h.6M157.9 83.8h.6M160.3 82.8h.6M160.0 89.2h.6M153.9 78.5h.6M157.2 89.2h.6M158.5 91.5h.6M152.7 87.3h.6M155.3 85.1h.6M158.6 79.0h.6M156.7 77.9h.6M158.4 79.7h.6M155.8 85.7h.6M155.2 91.0h.6M155.3 89.3h.6M158.5 78.7h.6M156.7 79.8h.6M156.2 83.0h.6M163.8 82.1h.6M163.0 87.0h.6M152.9 71.5h.6M159.9 73.3h.6M160.0 90.3h.6M158.9 83.3h.6M156.6 86.0h.6M156.4 81.5h.6M156.2 91.1h.6M155.3 86.6h.6M153.5 80.5h.6M152.7 83.4h.6M159.9 86.2h.6M155.8 87.9h.6M156.3 86.6h.6M158.5 87.5h.6M160.2 83.9h.6M165.3 83.2h.6M155.6 92.9h.6M159.3 83.4h.6M160.0 80.1h.6M155.9 81.4h.6M156.7 88.9h.6M155.8 86.3h.6M155.8 89.5h.6M158.1 78.5h.6M161.0 85.7h.6M162.0 89.9h.6M159.7 83.7h.6M153.7 83.3h.6M155.9 85.9h.6M151.9 91.1h.6M155.9 83.1h.6M160.7 84.5h.6M153.3 86.8h.6M156.8 73.0h.6M158.2 78.6h.6M154.9 87.2h.6M158.5 82.9h.6M165.0 86.8h.6M155.4 85.8h.6M157.1 72.2h.6M152.0 76.7h.6M164.7 83.5h.6M156.5 81.3h.6M160.9 84.7h.6M163.4 88.9h.6M163.2 83.8h.6M158.8 82.1h.6M156.9 74.8h.6M155.5 79.2h.6M155.2 91.3h.6M158.4 91.4h.6M160.5 89.6h.6M161.0 81.1h.6M160.3 82.7h.6M155.7 91.2h.6M165.0 79.0h.6M163.5 89.1h.6M154.6 86.0h.6M158.8 86.6h.6M156.3 77.3h.6M157.6 89.3h.6M160.2 88.2h.6M161.3 79.0h.6M157.4 86.4h.6M161.0 85.4h.6M159.3 85.2h.6M164.8 72.3h.6M158.3 74.3h.6M158.0 76.5h.6M155.1 85.8h.6M163.4 87.1h.6M159.8 90.2h.6M158.2 79.7h.6M157.2 86.4h.6M156.5 80.8h.6M156.3 76.1h.6M153.9 84.0h.6M156.2 84.7h.6M162.4 86.2h.6M157.4 77.9h.6M153.8 86.6h.6M154.5 86.9h.6M153.8 85.2h.6M157.2 90.1h.6M156.1 82.4h.6M158.4 84.8h.6M163.4 83.1h.6M155.6 82.7h.6M159.1 85.8h.6M159.9 76.8h.6M157.4 77.8h.6M158.0 86.8h.6M149.8 84.6h.6M152.4 87.1h.6M162.3 90.3h.6M152.3 92.2h.6M160.6 82.5h.6M159.2 93.0h.6M156.4 84.4h.6M155.6 91.0h.6M150.0 92.4h.6M154.1 89.7h.6M151.9 79.3h.6M155.4 89.1h.6M151.9 87.9h.6M155.3 91.4h.6M156.4 87.2h.6M156.3 84.4h.6M164.4 84.9h.6M159.9 80.4h.6M158.2 71.8h.6M157.9 80.9h.6M152.3 76.6h.6M161.5 86.9h.6M155.1 82.4h.6M158.4 78.2h.6M151.9 80.3h.6M161.6 89.8h.6M152.0 91.2h.6M157.6 87.3h.6M157.7 86.8h.6M154.0 79.4h.6M155.1 82.4h.6M159.6 77.7h.6M163.0 81.0h.6M155.5 88.4h.6M159.0 82.6h.6M153.8 78.9h.6M152.0 90.9h.6M162.3 83.2h.6M164.0 89.0h.6M157.3 83.3h.6M173.2 63.9h.6M149.7 70.9h.6M164.0 91.3h.6M156.8 86.4h.6M158.7 82.8h.6M155.4 79.7h.6M159.0 90.7h.6M173.7 62.8h.6M162.5 80.0h.6M165.4 90.1h.6M164.1 87.7h.6M152.7 63.8h.6M170.0 91.5h.6M152.7 92.3h.6M163.4 56.7h.6M164.9 70.6h.6M166.7 73.5h.6M154.1 65.3h.6M157.6 89.7h.6M154.6 62.3h.6M163.5 74.9h.6M151.0 64.4h.6M162.7 92.3h.6M152.0 80.0h.6M157.2 77.6h.6M154.8 88.1h.6M166.2 77.3h.6M158.0 67.3h.6M166.1 75.0h.6M154.7 80.6h.6M153.3 70.1h.6M157.0 94.1h.6M157.6 85.0h.6M149.3 61.5h.6M171.0 76.2h.6M163.0 63.6h.6M153.2 82.5h.6M152.9 87.6h.6M165.3 84.2h.6M156.2 79.6h.6M154.8 78.8h.6M161.1 77.1h.6M155.4 83.3h.6M164.4 86.1h.6M157.4 75.4h.6M165.6 85.9h.6M162.3 72.3h.6M163.2 87.6h.6M157.8 86.2h.6M173.3 62.1h.6M163.0 68.8h.6M150.0 77.8h.6M162.6 80.5h.6M151.3 66.3h.6M155.3 80.1h.6M153.5 65.7h.6M170.6 72.0h.6M158.0 74.8h.6M155.1 80.4h.6M157.0 85.9h.6M151.2 65.8h.6M171.9 79.3h.6M164.1 91.3h.6M162.7 80.3h.6M165.5 86.5h.6M162.8 64.2h.6M151.2 81.5h.6M154.9 74.6h.6M164.7 83.1h.6M153.0 87.8h.6M171.7 68.3h.6M157.4 69.7h.6M163.6 89.3h.6M161.8 60.7h.6M158.8 73.6h.6M151.2 69.4h.6M164.1 77.2h.6M172.1 84.5h.6M167.3 80.3h.6M150.3 79.2h.6M166.8 76.1h.6M150.0 79.4h.6M161.5 65.4h.6M151.3 79.0h.6M163.7 80.7h.6M162.0 68.0h.6M152.9 78.8h.6M156.5 84.6h.6M153.8 93.9h.6M159.2 85.1h.6M163.2 90.0h.6M161.7 63.2h.6M162.2 85.4h.6M162.1 73.8h.6M154.5 73.8h.6M166.7 83.5h.6M170.9 84.8h.6M171.6 84.4h.6M161.3 91.5h.6M160.4 76.8h.6M160.1 69.2h.6M151.0 71.4h.6M155.5 66.9h.6M158.3 82.9h.6M158.7 88.6h.6M157.5 83.8h.6M158.8 74.8h.6M159.5 65.7h.6M162.0 77.2h.6M151.7 76.5h.6M162.7 73.4h.6M162.2 85.5h.6M169.5 69.5h.6M158.3 85.0h.6M169.1 82.5h.6M164.1 65.8h.6M154.1 77.3h.6M160.1 77.6h.6M149.5 79.2h.6M165.4 87.2h.6M167.3 88.4h.6M158.7 85.9h.6M160.2 67.0h.6M170.6 83.6h.6M151.9 83.8h.6M160.9 89.7h.6M168.8 50.4h.6M152.6 61.9h.6M160.9 83.3h.6M161.4 69.2h.6M155.8 81.9h.6M161.0 74.1h.6M158.1 78.9h.6M152.3 87.2h.6M159.8 82.9h.6M167.8 79.0h.6M159.6 88.4h.6M159.5 89.3h.6M153.6 87.9h.6M161.6 65.5h.6M159.9 82.0h.6M163.9 88.0h.6M155.3 90.5h.6M164.6 84.6h.6M162.3 67.4h.6M161.5 69.9h.6M150.9 76.6h.6M159.9 79.5h.6M156.8 70.2h.6M160.3 72.7h.6M149.4 80.9h.6M168.9 76.0h.6M151.8 93.6h.6M170.6 77.1h.6M157.6 82.1h.6M179.1 81.3h.6M165.8 84.4h.6M150.6 84.3h.6M157.2 83.0h.6M159.5 81.4h.6M174.8 82.8h.6M169.0 92.7h.6M154.9 86.7h.6M156.4 81.1h.6M160.1 80.2h.6M157.2 86.9h.6M170.4 86.2h.6M166.0 93.6h.6M159.2 62.8h.6M154.6 66.3h.6M158.9 65.4h.6M152.1 82.9h.6M160.1 72.2h.6M157.4 79.0h.6M159.5 79.9h.6M157.5 88.6h.6M159.9 76.1h.6M155.2 75.7h.6M160.4 92.3h.6M157.7 77.4h.6M161.4 77.6h.6M156.4 74.4h.6M163.3 80.4h.6M155.1 58.6h.6M158.2 84.3h.6M160.5 75.3h.6M150.4 69.2h.6M158.0 68.7h.6M164.2 66.9h.6M152.2 79.5h.6M157.3 71.9h.6M164.9 90.1h.6M173.8 65.6h.6M162.8 79.9h.6M164.8 74.9h.6M163.9 88.8h.6M163.1 94.3h.6M153.5 80.0h.6M166.1 87.1h.6M169.3 83.2h.6M166.8 74.6h.6M167.8 71.8h.6M165.3 85.7h.6M158.1 66.0h.6M157.1 57.4h.6M155.1 61.8h.6M167.3 70.5h.6M161.5 75.0h.6M173.5 87.6h.6M159.5 73.6h.6M165.6 74.2h.6M149.3 79.6h.6M160.8 81.9h.6M196.1 63.3h.6M180.8 66.5h.6M169.0 78.6h.6M159.2 82.5h.6M165.4 71.2h.6M185.5 69.8h.6M172.3 82.5h.6M177.3 73.9h.6M183.2 77.4h.6M177.5 77.1h.6M188.9 69.6h.6M195.0 67.5h.6M156.2 87.1h.6M172.5 77.5h.6M180.7 72.1h.6M164.9 85.3h.6M183.7 68.9h.6M160.7 89.8h.6M165.4 84.4h.6M185.6 74.5h.6M174.2 75.3h.6M166.8 81.4h.6M176.9 73.0h.6M172.5 79.8h.6M177.0 72.3h.6M181.4 75.2h.6M183.6 72.6h.6M157.7 81.7h.6M178.1 74.1h.6M162.9 78.8h.6M169.3 77.0h.6M162.4 79.6h.6M195.7 65.5h.6M168.3 78.7h.6M186.8 75.2h.6M162.4 85.7h.6M168.0 82.2h.6M173.9 81.7h.6M193.8 61.1h.6M163.4 79.0h.6M162.0 51.8h.6M157.7 48.3h.6M155.8 83.8h.6M156.9 43.8h.6M160.9 70.2h.6M159.2 62.7h.6M160.4 73.8h.6M156.4 63.9h.6M159.5 68.3h.6M158.6 76.4h.6M157.9 82.3h.6M159.8 58.5h.6M149.2 80.5h.6M162.2 68.0h.6M164.3 80.5h.6M164.0 44.9h.6M162.5 61.4h.6M162.9 74.2h.6M163.4 67.4h.6M165.9 71.3h.6M158.3 43.9h.6M164.5 63.0h.6M159.2 64.4h.6M166.9 84.2h.6M158.4 68.9h.6M162.8 51.7h.6M171.2 84.5h.6M156.5 82.9h.6M161.6 56.6h.6M156.1 70.9h.6M163.4 44.3h.6M158.1 77.4h.6M162.9 43.4h.6M157.0 62.1h.6M157.7 66.5h.6M159.8 53.3h.6M157.5 48.4h.6M163.7 49.0h.6M159.7 64.9h.6M150.0 45.7h.6M154.6 53.0h.6M164.3 62.0h.6M167.1 60.2h.6M167.0 78.8h.6M155.0 82.7h.6M158.9 60.2h.6M174.1 45.5h.6M162.8 44.1h.6M159.1 55.3h.6M156.9 79.2h.6M175.1 60.7h.6M149.5 76.6h.6M158.4 70.3h.6M157.6 53.4h.6M160.3 70.4h.6M151.6 80.3h.6M155.2 83.0h.6M161.3 80.3h.6M162.6 66.8h.6M164.2 53.9h.6M168.5 53.1h.6M155.8 71.2h.6M165.7 46.4h.6M160.1 62.8h.6M152.5 71.0h.6M160.7 62.9h.6M159.7 71.3h.6" stroke="#333" stroke-width=".6" stroke-opacity=".34" fill="none"/>
<path d="M148.00 41.40H198.80V95.30" fill="none" stroke="#444" stroke-width=".65"/>
<path d="M148.00 41.40V95.30H198.80" fill="none" stroke="#1e1e1e" stroke-width=".95"/>
<line x1="171.90" y1="41.40" x2="171.90" y2="95.30" stroke="#2c2c2c" stroke-width="0.85"/>
<line x1="148.00" y1="61.20" x2="198.80" y2="61.20" stroke="#2c2c2c" stroke-width="0.85"/>
<line x1="146.20" y1="94.90" x2="148.00" y2="94.90" stroke="#333" stroke-width="0.5"/>
<text x="145.60" y="96.50" font-size="2.6" text-anchor="end" font-weight="normal" fill="#444" >10</text>
<text x="146.80" y="95.10" font-size="1.8" text-anchor="end" font-weight="normal" fill="#444" >0</text>
<line x1="146.20" y1="78.40" x2="148.00" y2="78.40" stroke="#333" stroke-width="0.5"/>
<text x="145.60" y="80.00" font-size="2.6" text-anchor="end" font-weight="normal" fill="#444" >10</text>
<text x="146.80" y="78.60" font-size="1.8" text-anchor="end" font-weight="normal" fill="#444" >1</text>
<line x1="146.20" y1="61.90" x2="148.00" y2="61.90" stroke="#333" stroke-width="0.5"/>
<text x="145.60" y="63.50" font-size="2.6" text-anchor="end" font-weight="normal" fill="#444" >10</text>
<text x="146.80" y="62.10" font-size="1.8" text-anchor="end" font-weight="normal" fill="#444" >2</text>
<line x1="146.20" y1="45.40" x2="148.00" y2="45.40" stroke="#333" stroke-width="0.5"/>
<text x="145.60" y="47.00" font-size="2.6" text-anchor="end" font-weight="normal" fill="#444" >10</text>
<text x="146.80" y="45.60" font-size="1.8" text-anchor="end" font-weight="normal" fill="#444" >3</text>
<line x1="159.68" y1="95.30" x2="159.68" y2="97.10" stroke="#333" stroke-width="0.5"/>
<text x="159.08" y="100.50" font-size="2.6" text-anchor="middle" font-weight="normal" fill="#444" >10</text>
<text x="161.18" y="99.10" font-size="1.8" text-anchor="middle" font-weight="normal" fill="#444" >1</text>
<line x1="190.16" y1="95.30" x2="190.16" y2="97.10" stroke="#333" stroke-width="0.5"/>
<text x="189.56" y="100.50" font-size="2.6" text-anchor="middle" font-weight="normal" fill="#444" >10</text>
<text x="191.66" y="99.10" font-size="1.8" text-anchor="middle" font-weight="normal" fill="#444" >2</text>
<rect x="146.60" y="94.10" width="1.60" height="2.60" fill="#222" stroke="none" stroke-width="0.7" />
<text x="149.30" y="45.40" font-size="4.0" text-anchor="start" font-weight="normal" fill="#333" >7.02%</text>
<text x="197.90" y="45.40" font-size="4.0" text-anchor="end" font-weight="normal" fill="#333" >2.23%</text>
<text x="148.90" y="93.80" font-size="4.0" text-anchor="start" font-weight="normal" fill="#333" >86.96%</text>
<text x="197.90" y="93.80" font-size="4.0" text-anchor="end" font-weight="normal" fill="#333" >3.79%</text>
<text x="171.40" y="106.70" font-size="4.2" text-anchor="middle" font-weight="normal" fill="#333" >FL1 (intensity)</text>
<text transform="translate(138.60 69.35) rotate(-90)" font-size="4.2" text-anchor="middle" font-weight="normal" fill="#333" letter-spacing="0">FL2 (intensity)</text>
<path d="M227.4 75.3h.6M235.5 93.0h.6M230.4 78.6h.6M216.7 87.1h.6M231.0 86.7h.6M241.2 79.5h.6M230.5 89.8h.6M224.2 87.5h.6M229.8 79.5h.6M230.2 85.3h.6M229.3 83.3h.6M233.3 85.7h.6M227.5 82.9h.6M217.9 76.3h.6M224.9 79.9h.6M227.8 77.1h.6M232.4 86.9h.6M237.9 82.8h.6M232.4 85.9h.6M238.8 80.1h.6M233.6 76.1h.6M223.7 76.4h.6M233.1 81.3h.6M230.0 78.0h.6M229.1 90.9h.6M220.7 76.5h.6M234.8 77.5h.6M229.8 82.8h.6M220.7 80.3h.6M229.2 83.8h.6M233.0 82.1h.6M229.3 81.6h.6M230.1 85.7h.6M225.5 68.2h.6M232.2 82.3h.6M243.1 76.9h.6M232.5 85.5h.6M224.6 81.4h.6M223.9 84.7h.6M229.4 83.6h.6M232.4 83.4h.6M236.1 85.6h.6M228.1 78.5h.6M231.8 74.5h.6M226.0 86.7h.6M234.4 92.2h.6M227.8 81.4h.6M234.4 88.1h.6M222.8 87.0h.6M230.8 90.5h.6M230.3 80.0h.6M226.4 80.4h.6M226.8 73.6h.6M230.5 78.6h.6M236.4 85.9h.6M226.7 81.0h.6M232.1 87.9h.6M235.7 86.3h.6M229.7 85.7h.6M223.4 84.7h.6M229.3 80.8h.6M228.9 78.7h.6M227.5 88.6h.6M226.7 75.8h.6M232.6 80.1h.6M226.4 88.6h.6M229.3 84.8h.6M230.9 90.2h.6M233.6 75.3h.6M239.1 79.8h.6M227.7 85.9h.6M229.2 80.4h.6M227.6 80.7h.6M235.9 83.7h.6M237.0 91.0h.6M234.0 78.3h.6M230.4 84.3h.6M222.7 81.8h.6M223.7 87.8h.6M220.0 80.5h.6M231.2 83.1h.6M224.6 85.6h.6M229.4 89.1h.6M230.4 86.1h.6M220.8 83.1h.6M230.2 77.4h.6M217.4 85.6h.6M236.6 79.3h.6M234.4 85.2h.6M226.5 79.1h.6M244.8 85.1h.6M232.0 80.6h.6M221.9 83.4h.6M228.8 83.7h.6M229.5 73.8h.6M227.3 82.8h.6M227.5 83.3h.6M231.3 81.6h.6M227.2 90.0h.6M231.3 83.7h.6M232.5 83.2h.6M219.1 80.2h.6M231.2 84.6h.6M230.1 77.0h.6M228.0 84.1h.6M232.7 84.5h.6M228.8 71.9h.6M234.7 78.9h.6M236.8 80.2h.6M228.0 87.2h.6M227.6 74.4h.6M232.0 84.3h.6M232.1 81.4h.6M231.5 78.0h.6M229.6 85.7h.6M236.0 89.6h.6M228.0 84.7h.6M229.3 77.6h.6M231.7 86.6h.6M234.4 73.4h.6M228.8 81.7h.6M230.1 75.5h.6M240.6 75.0h.6M224.4 90.3h.6M231.3 78.6h.6M225.9 85.5h.6M226.2 85.7h.6M232.6 84.2h.6M234.4 79.3h.6M221.8 74.4h.6M229.6 78.4h.6M238.3 77.8h.6M238.5 81.5h.6M229.8 73.2h.6M229.3 89.0h.6M221.7 88.3h.6M234.2 86.4h.6M224.1 89.6h.6M223.4 89.6h.6M236.1 73.9h.6M238.0 90.7h.6M229.2 74.8h.6M228.5 80.8h.6M234.3 77.6h.6M224.6 83.2h.6M231.5 73.8h.6M232.2 79.6h.6M227.2 85.1h.6M233.5 84.5h.6M239.4 83.4h.6M229.8 83.8h.6M237.9 85.3h.6M231.5 87.1h.6M221.3 87.0h.6M234.1 80.8h.6M221.5 74.5h.6M217.7 83.9h.6M229.0 77.9h.6M234.6 77.5h.6M235.4 85.9h.6M232.7 76.9h.6M223.7 82.5h.6M235.6 77.2h.6M230.9 86.4h.6M220.3 91.2h.6M228.5 79.7h.6M230.8 81.3h.6M224.5 79.2h.6M228.3 77.0h.6M235.2 85.2h.6M233.7 74.3h.6M227.0 84.7h.6M229.2 73.4h.6M231.7 91.8h.6M235.5 81.8h.6M223.1 87.1h.6M232.9 80.6h.6M227.9 86.1h.6M229.1 78.9h.6M223.2 80.4h.6M228.0 79.7h.6M253.8 76.2h.6M220.3 78.8h.6M234.5 91.6h.6M220.5 79.4h.6M233.1 78.7h.6M232.9 80.5h.6M236.0 82.8h.6M239.2 75.9h.6M235.9 80.4h.6M236.0 79.5h.6M234.4 87.3h.6M231.4 77.2h.6M226.0 79.8h.6M228.5 86.9h.6M223.2 81.6h.6M230.0 82.3h.6M224.7 88.4h.6M229.5 78.5h.6M229.3 87.8h.6M232.9 87.8h.6M232.6 80.2h.6M221.8 78.1h.6M229.5 74.4h.6M228.4 78.3h.6M236.2 72.7h.6M242.2 85.7h.6M227.3 82.7h.6M238.6 85.6h.6M228.1 79.6h.6M221.8 83.7h.6M234.6 81.9h.6M229.9 78.4h.6M230.5 84.7h.6M222.9 85.6h.6M228.4 84.7h.6M230.0 84.0h.6M231.2 85.9h.6M225.9 81.9h.6M223.5 82.7h.6M235.9 81.1h.6M235.4 80.2h.6M231.9 88.1h.6M231.6 84.3h.6M237.3 85.3h.6M235.1 81.0h.6M225.9 86.0h.6M224.4 87.9h.6M227.0 83.7h.6M234.3 77.3h.6M240.4 82.4h.6M228.8 77.6h.6M220.9 74.1h.6M224.6 85.0h.6M227.4 87.8h.6M224.7 75.3h.6M232.5 81.2h.6M222.2 89.0h.6M231.4 75.8h.6M227.2 78.1h.6M236.2 79.9h.6M226.6 83.8h.6M238.4 88.8h.6M229.9 80.9h.6M226.7 86.9h.6M224.2 82.1h.6M233.6 79.3h.6M216.9 79.8h.6M225.4 77.8h.6M226.8 86.1h.6M221.9 76.7h.6M229.1 86.6h.6M225.5 85.0h.6M235.5 78.9h.6M228.7 86.3h.6M230.9 79.4h.6M229.1 81.1h.6M230.2 83.6h.6M230.6 79.5h.6M229.8 83.6h.6M228.7 89.8h.6M227.2 71.6h.6M236.2 80.0h.6M231.6 81.0h.6M234.8 79.7h.6M232.8 89.5h.6M233.0 78.3h.6M239.0 87.4h.6M229.7 75.5h.6M231.0 81.8h.6M232.2 82.9h.6M238.2 83.0h.6M227.6 80.3h.6M231.4 84.6h.6M223.0 77.5h.6M234.7 81.1h.6M235.4 81.3h.6M226.2 84.3h.6M238.3 81.8h.6M231.1 84.7h.6M232.5 85.6h.6M229.3 80.3h.6M221.2 80.6h.6M235.4 83.1h.6M231.4 75.9h.6M218.5 85.0h.6M225.4 79.4h.6M218.8 89.0h.6M237.4 73.8h.6M226.6 81.0h.6M232.0 86.2h.6M229.3 81.6h.6M232.7 74.0h.6M228.9 82.0h.6M231.2 77.3h.6M226.0 76.5h.6M228.7 77.1h.6M243.0 79.0h.6M236.5 79.1h.6M227.3 86.3h.6M228.1 92.3h.6M232.1 73.8h.6M236.9 68.8h.6M227.6 78.1h.6M229.7 78.3h.6M227.0 80.2h.6M233.6 77.7h.6M227.5 92.7h.6M240.7 87.5h.6M229.6 79.3h.6M230.0 75.8h.6M235.7 78.5h.6M217.8 86.9h.6M237.8 86.3h.6M233.1 84.3h.6M238.1 88.4h.6M221.1 84.8h.6M229.1 89.8h.6M228.0 80.3h.6M220.5 82.3h.6M231.3 88.8h.6M228.6 86.5h.6M241.2 76.5h.6M235.4 81.9h.6M220.3 78.2h.6M229.8 76.7h.6M233.2 78.3h.6M235.5 80.3h.6M236.3 87.4h.6M234.7 87.7h.6M245.3 86.7h.6M220.6 80.0h.6M234.9 87.0h.6M226.5 84.5h.6M230.1 80.9h.6M227.1 82.3h.6M236.5 73.8h.6M235.6 83.2h.6M220.7 83.5h.6M228.8 77.6h.6M232.8 80.7h.6M236.2 88.7h.6M232.1 84.1h.6M224.4 82.0h.6M236.2 91.5h.6M219.8 83.4h.6M229.5 92.6h.6M231.7 92.3h.6M218.2 73.7h.6M230.5 75.3h.6M218.7 80.1h.6M227.1 82.8h.6M238.2 77.5h.6M225.7 74.8h.6M230.2 87.3h.6M235.8 71.0h.6M232.4 80.7h.6M226.6 76.4h.6M226.7 83.6h.6M233.6 86.1h.6M225.1 82.2h.6M224.7 86.5h.6M230.1 75.6h.6M235.6 90.5h.6M219.9 91.0h.6M232.6 81.7h.6M216.8 75.8h.6M224.2 86.0h.6M229.0 83.1h.6M230.3 84.4h.6M227.8 88.6h.6M216.9 77.5h.6M227.4 77.8h.6M237.0 79.9h.6M218.8 79.4h.6M226.9 78.0h.6M225.8 79.5h.6M233.6 81.3h.6M231.5 81.7h.6M236.6 82.4h.6M231.3 87.5h.6M237.4 88.2h.6M225.4 75.6h.6M245.1 75.4h.6M225.6 75.2h.6M231.3 82.0h.6M226.7 87.7h.6M235.3 82.3h.6M235.6 78.3h.6M229.9 81.3h.6M230.5 84.9h.6M230.8 80.1h.6M233.5 80.4h.6M234.4 78.1h.6M223.0 93.2h.6M222.3 86.2h.6M249.3 83.8h.6M236.1 77.0h.6M230.8 71.0h.6M237.1 83.7h.6M217.1 60.3h.6M264.8 76.5h.6M219.9 69.2h.6M240.1 88.6h.6M221.5 75.1h.6M237.6 73.8h.6M234.9 81.2h.6M239.4 86.3h.6M233.0 72.9h.6M217.1 77.3h.6M220.8 74.4h.6M229.2 77.1h.6M241.4 80.6h.6M232.5 91.2h.6M232.0 92.7h.6M231.3 81.1h.6M220.6 78.6h.6M221.7 89.4h.6M233.7 89.5h.6M236.9 69.8h.6M225.7 74.4h.6M235.0 78.9h.6M228.7 80.6h.6M224.4 70.6h.6M226.4 86.6h.6M238.3 75.1h.6M236.1 83.3h.6M220.5 93.5h.6M227.9 69.2h.6M232.6 79.6h.6M245.8 88.5h.6M227.3 73.7h.6M228.4 75.5h.6M221.4 77.2h.6M245.0 85.6h.6M228.4 68.0h.6M238.8 88.1h.6M216.7 82.4h.6M250.3 87.1h.6M238.6 77.6h.6M225.3 80.7h.6M244.8 84.0h.6M240.6 77.2h.6M229.4 89.6h.6M232.8 85.6h.6M226.7 69.5h.6M233.3 80.1h.6M235.3 75.7h.6M218.7 77.4h.6M236.5 88.9h.6M235.8 69.0h.6M238.7 84.8h.6M242.3 86.4h.6M226.5 67.4h.6M234.2 77.1h.6M226.9 63.2h.6M238.1 82.2h.6M244.3 81.1h.6M229.3 70.1h.6M227.6 70.2h.6M229.0 71.1h.6M242.3 76.3h.6M235.7 77.6h.6M227.8 61.4h.6M227.0 73.9h.6M242.7 68.2h.6M238.8 82.8h.6M230.6 76.9h.6M240.6 79.5h.6M256.2 58.1h.6M221.3 93.7h.6M235.8 61.6h.6M224.6 75.3h.6M218.9 76.4h.6M225.6 84.2h.6M216.9 76.8h.6M232.5 84.0h.6M218.4 77.3h.6M217.3 83.4h.6M236.2 86.7h.6M228.1 91.3h.6M225.7 63.9h.6M223.0 76.8h.6M242.4 73.1h.6M224.8 82.3h.6M217.4 84.9h.6M236.1 69.0h.6M230.1 71.9h.6M221.4 79.8h.6M227.5 84.7h.6M231.5 64.2h.6M233.1 83.2h.6M234.3 65.9h.6M224.2 67.1h.6M228.0 71.4h.6M240.3 80.4h.6M257.6 81.7h.6M249.8 74.4h.6M232.3 84.8h.6M245.7 86.7h.6M230.0 68.1h.6M225.3 82.2h.6M247.4 67.8h.6M238.7 71.0h.6M222.9 80.9h.6M237.7 76.7h.6M235.7 83.0h.6M249.4 70.0h.6M220.8 91.4h.6M239.7 72.0h.6M237.5 90.6h.6M227.2 80.4h.6M240.4 72.5h.6M219.6 84.1h.6M230.9 79.1h.6M223.0 82.6h.6M241.2 78.0h.6M231.7 70.2h.6M224.6 67.2h.6M231.8 79.0h.6M224.3 67.5h.6M229.1 82.7h.6M245.3 63.4h.6M232.5 88.3h.6M222.6 74.2h.6M240.2 79.1h.6M222.1 68.8h.6M225.6 77.2h.6M237.7 80.5h.6M245.3 73.0h.6M262.1 71.8h.6M237.4 74.3h.6M233.6 74.1h.6M241.5 71.5h.6M264.7 65.6h.6M235.6 71.9h.6M254.9 65.3h.6M258.7 68.9h.6M246.1 72.2h.6M232.1 80.0h.6M230.9 82.8h.6M240.7 75.8h.6M240.4 71.0h.6M263.5 68.4h.6M243.6 77.3h.6M241.0 74.4h.6M240.0 71.3h.6M248.3 80.3h.6M247.7 77.6h.6M247.8 74.2h.6M256.2 69.8h.6M258.9 67.7h.6M234.6 73.0h.6M244.7 74.2h.6M250.7 69.1h.6M244.3 72.9h.6M243.9 75.3h.6M249.7 69.0h.6M240.5 82.0h.6M253.6 74.1h.6M234.6 76.9h.6M246.9 76.0h.6M231.6 79.0h.6M234.3 83.7h.6M245.5 66.6h.6M250.9 74.6h.6M252.7 64.0h.6M236.0 77.2h.6M256.5 65.3h.6M258.8 71.8h.6M261.0 61.6h.6M260.7 72.8h.6M255.5 72.2h.6M248.8 67.7h.6M250.6 69.3h.6M259.0 66.4h.6M244.3 75.1h.6M253.2 71.3h.6M240.4 83.7h.6M247.1 69.8h.6M262.1 59.5h.6M245.6 81.2h.6M244.9 66.0h.6M235.3 74.2h.6M254.4 68.0h.6M259.9 70.9h.6M257.7 72.5h.6M245.4 76.1h.6M258.3 68.2h.6M253.5 72.8h.6M257.4 65.4h.6M235.9 81.9h.6M249.6 71.8h.6M240.0 75.9h.6M248.9 69.2h.6M251.1 73.8h.6M233.7 84.6h.6M244.7 75.5h.6M238.9 76.8h.6M256.6 74.2h.6M246.2 67.7h.6M236.1 75.5h.6M259.6 60.6h.6M252.8 69.0h.6M261.4 66.5h.6M243.7 73.1h.6M241.4 73.9h.6M238.3 82.7h.6M234.2 78.0h.6M240.3 72.6h.6M232.7 80.2h.6M232.4 75.8h.6M250.5 77.6h.6M241.8 72.4h.6M248.5 67.6h.6M251.8 74.3h.6M256.1 72.7h.6M259.9 72.4h.6M261.0 66.9h.6M234.0 81.2h.6M247.9 75.1h.6M243.2 77.2h.6M256.4 70.0h.6M229.5 83.2h.6M255.9 56.3h.6M244.1 78.4h.6M248.4 71.6h.6M231.2 79.9h.6M235.7 62.6h.6M223.6 72.8h.6M236.0 75.3h.6M227.0 58.4h.6M233.3 77.7h.6M221.5 64.5h.6M239.7 60.6h.6M226.5 64.4h.6M229.5 76.6h.6M240.0 77.3h.6M236.6 81.1h.6M245.0 67.4h.6M233.5 75.8h.6M227.8 54.2h.6M233.4 70.6h.6M231.7 67.8h.6M226.5 68.4h.6M231.5 59.8h.6M230.9 55.2h.6M225.8 47.4h.6M227.8 68.9h.6M228.9 54.4h.6M247.9 64.0h.6M234.1 71.3h.6M228.4 45.0h.6M234.4 71.0h.6M231.7 56.9h.6M236.3 62.2h.6M240.6 58.8h.6M240.3 54.2h.6M240.1 80.7h.6M225.4 51.4h.6M238.9 80.8h.6M226.9 75.4h.6M244.1 57.9h.6M232.7 46.6h.6M225.3 44.0h.6M238.2 59.8h.6M233.1 48.4h.6M225.3 62.9h.6M242.1 51.8h.6M223.9 43.6h.6M229.0 59.9h.6M239.1 65.6h.6M228.7 70.5h.6M251.3 46.6h.6M240.4 54.3h.6M232.1 57.2h.6M230.8 47.3h.6M230.9 48.3h.6M232.8 51.1h.6M235.9 50.0h.6M234.4 62.9h.6" stroke="#333" stroke-width=".6" stroke-opacity=".34" fill="none"/>
<path d="M215.30 40.30H266.10V95.40" fill="none" stroke="#444" stroke-width=".65"/>
<path d="M215.30 40.30V95.40H266.10" fill="none" stroke="#1e1e1e" stroke-width=".95"/>
<line x1="238.60" y1="40.30" x2="238.60" y2="95.40" stroke="#2c2c2c" stroke-width="0.85"/>
<line x1="215.30" y1="61.20" x2="266.10" y2="61.20" stroke="#2c2c2c" stroke-width="0.85"/>
<line x1="213.50" y1="95.00" x2="215.30" y2="95.00" stroke="#333" stroke-width="0.5"/>
<text x="212.90" y="96.60" font-size="2.6" text-anchor="end" font-weight="normal" fill="#444" >10</text>
<text x="214.10" y="95.20" font-size="1.8" text-anchor="end" font-weight="normal" fill="#444" >0</text>
<line x1="213.50" y1="78.50" x2="215.30" y2="78.50" stroke="#333" stroke-width="0.5"/>
<text x="212.90" y="80.10" font-size="2.6" text-anchor="end" font-weight="normal" fill="#444" >10</text>
<text x="214.10" y="78.70" font-size="1.8" text-anchor="end" font-weight="normal" fill="#444" >1</text>
<line x1="213.50" y1="62.00" x2="215.30" y2="62.00" stroke="#333" stroke-width="0.5"/>
<text x="212.90" y="63.60" font-size="2.6" text-anchor="end" font-weight="normal" fill="#444" >10</text>
<text x="214.10" y="62.20" font-size="1.8" text-anchor="end" font-weight="normal" fill="#444" >2</text>
<line x1="213.50" y1="45.50" x2="215.30" y2="45.50" stroke="#333" stroke-width="0.5"/>
<text x="212.90" y="47.10" font-size="2.6" text-anchor="end" font-weight="normal" fill="#444" >10</text>
<text x="214.10" y="45.70" font-size="1.8" text-anchor="end" font-weight="normal" fill="#444" >3</text>
<line x1="226.98" y1="95.40" x2="226.98" y2="97.20" stroke="#333" stroke-width="0.5"/>
<text x="226.38" y="100.60" font-size="2.6" text-anchor="middle" font-weight="normal" fill="#444" >10</text>
<text x="228.48" y="99.20" font-size="1.8" text-anchor="middle" font-weight="normal" fill="#444" >1</text>
<line x1="257.46" y1="95.40" x2="257.46" y2="97.20" stroke="#333" stroke-width="0.5"/>
<text x="256.86" y="100.60" font-size="2.6" text-anchor="middle" font-weight="normal" fill="#444" >10</text>
<text x="258.96" y="99.20" font-size="1.8" text-anchor="middle" font-weight="normal" fill="#444" >2</text>
<rect x="213.90" y="94.20" width="1.60" height="2.60" fill="#222" stroke="none" stroke-width="0.7" />
<text x="216.60" y="44.30" font-size="4.0" text-anchor="start" font-weight="normal" fill="#333" >1.65%</text>
<text x="265.20" y="44.30" font-size="4.0" text-anchor="end" font-weight="normal" fill="#333" >3.33%</text>
<text x="216.20" y="93.90" font-size="4.0" text-anchor="start" font-weight="normal" fill="#333" >83.91%</text>
<text x="265.20" y="93.90" font-size="4.0" text-anchor="end" font-weight="normal" fill="#333" >11.12%</text>
<text x="238.70" y="106.80" font-size="4.2" text-anchor="middle" font-weight="normal" fill="#333" >FL1 (intensity)</text>
<text transform="translate(205.90 68.85) rotate(-90)" font-size="4.2" text-anchor="middle" font-weight="normal" fill="#333" letter-spacing="0">FL2 (intensity)</text>
<path d="M301.3 90.3h.6M293.1 85.3h.6M296.5 92.7h.6M302.9 85.8h.6M304.7 90.1h.6M291.0 87.0h.6M297.3 81.8h.6M302.2 86.4h.6M290.0 79.5h.6M295.1 89.0h.6M297.8 88.2h.6M294.8 89.7h.6M294.9 87.2h.6M294.8 81.9h.6M297.6 78.2h.6M296.3 85.9h.6M290.8 83.2h.6M295.2 78.9h.6M288.1 88.8h.6M306.4 74.4h.6M299.2 82.2h.6M298.4 77.4h.6M291.2 76.5h.6M294.3 82.8h.6M297.8 81.2h.6M295.7 90.1h.6M297.7 88.5h.6M295.6 81.4h.6M294.9 81.6h.6M289.7 84.6h.6M295.5 82.2h.6M300.0 94.9h.6M292.4 86.7h.6M291.2 88.8h.6M295.6 76.6h.6M291.3 87.1h.6M293.2 83.2h.6M306.8 79.6h.6M298.4 68.7h.6M287.8 85.5h.6M296.4 91.4h.6M293.7 72.4h.6M300.5 75.0h.6M295.1 91.9h.6M292.2 84.1h.6M290.7 89.8h.6M300.7 75.8h.6M294.7 80.9h.6M299.2 88.7h.6M296.9 87.7h.6M298.0 85.2h.6M295.4 80.2h.6M298.3 80.0h.6M298.2 80.2h.6M295.5 88.3h.6M300.7 83.9h.6M295.5 84.0h.6M298.8 79.9h.6M307.2 83.5h.6M296.5 87.1h.6M298.0 83.8h.6M294.5 77.4h.6M292.7 83.4h.6M286.8 93.9h.6M297.7 81.9h.6M296.5 82.7h.6M294.1 75.0h.6M294.1 77.8h.6M297.0 80.9h.6M292.6 82.6h.6M293.7 85.4h.6M294.5 77.5h.6M297.1 76.9h.6M287.9 77.2h.6M298.2 77.8h.6M291.4 93.3h.6M294.6 85.1h.6M292.6 90.0h.6M301.8 80.6h.6M290.6 73.9h.6M296.8 78.4h.6M288.8 85.4h.6M295.1 85.6h.6M290.2 77.5h.6M296.1 90.8h.6M297.8 81.9h.6M299.4 87.7h.6M290.6 93.6h.6M300.8 83.4h.6M297.7 77.0h.6M301.4 94.9h.6M296.8 85.2h.6M295.2 83.8h.6M291.5 84.1h.6M300.4 82.1h.6M300.5 76.7h.6M293.2 81.7h.6M294.3 88.8h.6M291.0 87.7h.6M292.1 83.4h.6M297.2 87.6h.6M297.9 83.7h.6M300.3 85.2h.6M299.5 77.1h.6M304.2 81.6h.6M291.0 80.3h.6M300.3 83.9h.6M295.6 90.2h.6M301.0 85.9h.6M292.4 87.4h.6M294.3 84.8h.6M295.1 74.9h.6M294.2 82.1h.6M288.8 77.8h.6M303.4 82.8h.6M304.7 86.3h.6M294.2 80.2h.6M303.2 79.2h.6M298.6 81.3h.6M292.2 81.3h.6M293.9 91.3h.6M293.1 80.6h.6M286.3 80.6h.6M287.1 79.2h.6M300.8 84.5h.6M289.3 81.0h.6M302.0 82.2h.6M289.8 84.4h.6M289.3 81.9h.6M296.7 83.2h.6M292.1 92.4h.6M303.2 86.6h.6M302.2 84.8h.6M297.0 80.1h.6M293.7 85.8h.6M294.5 77.8h.6M292.9 80.9h.6M286.6 77.3h.6M298.0 71.9h.6M296.1 89.3h.6M292.9 86.4h.6M296.9 80.7h.6M288.9 80.5h.6M296.8 83.1h.6M295.3 89.0h.6M298.4 82.4h.6M298.4 79.4h.6M286.4 80.2h.6M299.6 85.2h.6M297.3 85.6h.6M293.7 90.5h.6M294.0 82.3h.6M297.7 78.1h.6M301.1 90.5h.6M297.3 80.5h.6M303.5 80.3h.6M296.0 83.7h.6M301.5 76.9h.6M302.1 88.2h.6M296.9 76.8h.6M302.3 71.4h.6M292.1 91.5h.6M299.4 81.5h.6M293.3 76.8h.6M299.3 78.4h.6M295.5 87.1h.6M293.7 82.8h.6M301.9 75.7h.6M296.3 90.9h.6M295.0 81.3h.6M297.3 75.4h.6M295.3 85.5h.6M294.5 91.6h.6M288.1 85.3h.6M297.1 85.4h.6M290.7 91.5h.6M296.9 85.1h.6M296.0 81.4h.6M295.1 81.8h.6M296.1 90.6h.6M299.2 80.0h.6M294.9 83.9h.6M294.2 86.5h.6M297.7 76.1h.6M297.2 77.7h.6M295.3 81.1h.6M293.3 86.1h.6M294.6 91.2h.6M296.9 87.7h.6M294.2 92.9h.6M292.8 79.3h.6M288.8 90.9h.6M300.5 81.6h.6M288.0 79.6h.6M295.9 87.2h.6M305.4 84.8h.6M298.1 74.3h.6M289.4 79.9h.6M306.9 64.4h.6M294.4 81.9h.6M288.5 68.9h.6M308.4 73.4h.6M293.9 88.2h.6M295.4 87.6h.6M313.4 68.6h.6M309.6 93.1h.6M286.7 66.2h.6M313.5 81.5h.6M300.9 71.8h.6M300.3 74.0h.6M297.6 69.8h.6M292.8 81.9h.6M301.7 66.4h.6M317.1 91.0h.6M299.0 86.8h.6M288.1 84.5h.6M313.0 66.5h.6M292.2 73.2h.6M300.0 80.9h.6M286.5 77.7h.6M290.8 82.9h.6M293.0 81.5h.6M307.9 74.9h.6M289.0 76.7h.6M297.5 86.1h.6M288.4 79.4h.6M308.2 77.6h.6M298.2 81.6h.6M301.7 85.3h.6M301.1 62.2h.6M298.7 93.2h.6M287.8 82.6h.6M295.1 78.5h.6M308.8 83.9h.6M294.4 71.6h.6M311.0 71.6h.6M296.5 81.9h.6M286.0 75.1h.6M297.9 81.4h.6M295.3 79.2h.6M296.5 67.6h.6M295.8 87.7h.6M298.1 84.2h.6M303.9 92.6h.6M288.8 91.1h.6M287.5 72.3h.6M289.1 85.5h.6M292.7 70.1h.6M322.5 69.4h.6M307.0 75.8h.6M317.9 66.5h.6M321.8 68.4h.6M320.6 71.8h.6M311.2 68.6h.6M328.5 63.5h.6M295.0 81.1h.6M323.2 67.1h.6M319.4 62.5h.6M320.9 71.9h.6M306.1 76.7h.6M305.0 70.1h.6M315.2 69.5h.6M322.2 71.3h.6M318.6 65.7h.6M308.8 75.8h.6M310.3 68.6h.6M304.3 75.9h.6M324.4 66.5h.6M304.9 75.5h.6M329.8 61.4h.6M322.1 60.5h.6M315.2 72.8h.6M295.7 85.7h.6M299.3 80.6h.6M299.2 79.5h.6M299.2 81.0h.6M308.3 79.2h.6M303.4 81.9h.6M315.8 69.7h.6M317.5 63.6h.6M315.6 70.3h.6M315.0 69.4h.6M306.2 75.4h.6M307.4 76.3h.6M297.6 79.3h.6M318.5 66.4h.6M314.8 68.1h.6M311.7 72.5h.6M304.8 76.4h.6M309.6 76.7h.6M319.4 75.6h.6M296.8 74.7h.6M303.7 85.4h.6M317.6 69.4h.6M315.4 71.5h.6M331.3 59.4h.6M318.8 68.6h.6M327.2 57.0h.6M325.5 73.7h.6M302.7 73.8h.6M308.5 70.7h.6M330.7 67.5h.6M313.3 68.7h.6M324.0 68.4h.6M296.5 82.4h.6M325.2 59.4h.6M299.2 74.5h.6M326.4 68.9h.6M309.0 67.6h.6M315.5 76.8h.6M309.8 75.9h.6M330.3 57.9h.6M307.2 75.2h.6M320.7 71.4h.6M332.4 61.5h.6M301.0 81.1h.6M332.1 56.1h.6M297.5 77.5h.6M317.9 74.0h.6M329.4 69.8h.6M313.0 74.7h.6M312.1 67.1h.6M323.7 62.1h.6M330.4 61.3h.6M309.6 75.8h.6M320.3 73.8h.6M319.0 66.5h.6M323.0 62.3h.6M324.0 70.2h.6M319.2 66.0h.6M313.3 67.5h.6M331.6 62.5h.6M300.9 73.4h.6M321.2 62.7h.6M321.9 66.3h.6M317.5 64.6h.6M322.2 64.1h.6M310.5 73.7h.6M315.7 71.8h.6M307.6 79.1h.6M306.1 80.8h.6M308.4 74.1h.6M311.6 73.8h.6M329.5 61.6h.6M314.3 72.1h.6M328.8 60.0h.6M305.8 69.3h.6M313.1 72.7h.6M329.0 58.5h.6M294.4 73.3h.6M320.7 66.4h.6M299.5 79.6h.6M323.4 60.3h.6M331.6 60.2h.6M298.6 77.7h.6M312.1 73.2h.6M302.8 82.7h.6M316.6 72.3h.6M327.5 69.4h.6M317.7 70.8h.6M308.9 72.9h.6M309.7 68.4h.6M312.3 74.1h.6M319.1 71.8h.6M322.7 65.1h.6M305.4 74.2h.6M325.8 67.0h.6M315.5 70.3h.6M306.8 79.3h.6M306.1 77.9h.6M309.6 72.9h.6M327.0 62.4h.6M328.4 72.3h.6M315.4 66.3h.6M312.6 81.3h.6M310.1 69.3h.6M317.3 71.9h.6M308.8 69.5h.6M295.4 79.4h.6M299.9 83.4h.6M322.9 62.7h.6M306.7 78.9h.6M312.2 67.1h.6M325.4 62.5h.6M303.9 80.1h.6M301.9 74.4h.6M316.4 69.6h.6M330.2 57.2h.6M301.4 81.2h.6M329.8 67.0h.6M313.2 71.3h.6M303.3 86.3h.6M327.0 56.3h.6M308.4 76.7h.6M312.3 77.3h.6M303.8 49.0h.6M296.8 68.2h.6M294.4 49.6h.6M292.0 78.3h.6M302.3 52.2h.6M301.8 63.4h.6M290.2 72.2h.6M300.3 79.1h.6M297.0 76.5h.6M299.4 43.0h.6M297.4 67.1h.6M302.6 74.5h.6M303.1 77.3h.6M303.3 70.7h.6M307.3 75.0h.6M305.8 59.1h.6M304.8 55.4h.6M307.6 47.7h.6M302.6 47.4h.6M305.1 58.1h.6M290.5 58.9h.6M296.2 75.2h.6M304.4 80.7h.6M302.3 77.9h.6M309.5 64.3h.6M293.3 74.7h.6M295.8 52.7h.6M297.5 46.2h.6" stroke="#333" stroke-width=".6" stroke-opacity=".34" fill="none"/>
<path d="M284.00 40.20H334.60V96.50" fill="none" stroke="#444" stroke-width=".65"/>
<path d="M284.00 40.20V96.50H334.60" fill="none" stroke="#1e1e1e" stroke-width=".95"/>
<line x1="306.80" y1="48.80" x2="306.80" y2="96.50" stroke="#2c2c2c" stroke-width="0.85"/>
<line x1="284.00" y1="64.00" x2="329.00" y2="64.00" stroke="#2c2c2c" stroke-width="0.85"/>
<line x1="282.20" y1="96.10" x2="284.00" y2="96.10" stroke="#333" stroke-width="0.5"/>
<text x="281.60" y="97.70" font-size="2.6" text-anchor="end" font-weight="normal" fill="#444" >10</text>
<text x="282.80" y="96.30" font-size="1.8" text-anchor="end" font-weight="normal" fill="#444" >0</text>
<line x1="282.20" y1="79.60" x2="284.00" y2="79.60" stroke="#333" stroke-width="0.5"/>
<text x="281.60" y="81.20" font-size="2.6" text-anchor="end" font-weight="normal" fill="#444" >10</text>
<text x="282.80" y="79.80" font-size="1.8" text-anchor="end" font-weight="normal" fill="#444" >1</text>
<line x1="282.20" y1="63.10" x2="284.00" y2="63.10" stroke="#333" stroke-width="0.5"/>
<text x="281.60" y="64.70" font-size="2.6" text-anchor="end" font-weight="normal" fill="#444" >10</text>
<text x="282.80" y="63.30" font-size="1.8" text-anchor="end" font-weight="normal" fill="#444" >2</text>
<line x1="282.20" y1="46.60" x2="284.00" y2="46.60" stroke="#333" stroke-width="0.5"/>
<text x="281.60" y="48.20" font-size="2.6" text-anchor="end" font-weight="normal" fill="#444" >10</text>
<text x="282.80" y="46.80" font-size="1.8" text-anchor="end" font-weight="normal" fill="#444" >3</text>
<line x1="295.64" y1="96.50" x2="295.64" y2="98.30" stroke="#333" stroke-width="0.5"/>
<text x="295.04" y="101.70" font-size="2.6" text-anchor="middle" font-weight="normal" fill="#444" >10</text>
<text x="297.14" y="100.30" font-size="1.8" text-anchor="middle" font-weight="normal" fill="#444" >1</text>
<line x1="326.00" y1="96.50" x2="326.00" y2="98.30" stroke="#333" stroke-width="0.5"/>
<text x="325.40" y="101.70" font-size="2.6" text-anchor="middle" font-weight="normal" fill="#444" >10</text>
<text x="327.50" y="100.30" font-size="1.8" text-anchor="middle" font-weight="normal" fill="#444" >2</text>
<rect x="282.60" y="95.30" width="1.60" height="2.60" fill="#222" stroke="none" stroke-width="0.7" />
<text x="285.30" y="44.20" font-size="4.0" text-anchor="start" font-weight="normal" fill="#333" >3.17%</text>
<text x="333.70" y="44.20" font-size="4.0" text-anchor="end" font-weight="normal" fill="#333" >9.43%</text>
<text x="284.90" y="95.00" font-size="4.0" text-anchor="start" font-weight="normal" fill="#333" >65.97%</text>
<text x="333.70" y="95.00" font-size="4.0" text-anchor="end" font-weight="normal" fill="#333" >21.43%</text>
<text x="307.30" y="107.90" font-size="4.2" text-anchor="middle" font-weight="normal" fill="#333" >FL1 (intensity)</text>
<text transform="translate(274.60 69.35) rotate(-90)" font-size="4.2" text-anchor="middle" font-weight="normal" fill="#333" letter-spacing="0">FL2 (intensity)</text>
<path d="M92.7 154.1h.6M86.9 160.1h.6M94.9 161.3h.6M92.3 149.1h.6M92.7 154.3h.6M94.1 163.2h.6M89.3 152.8h.6M89.4 159.2h.6M92.4 152.6h.6M91.7 153.1h.6M88.7 162.0h.6M90.3 147.5h.6M87.2 162.6h.6M84.8 162.2h.6M90.8 151.2h.6M88.7 159.8h.6M95.2 151.5h.6M90.0 158.8h.6M93.6 168.2h.6M96.7 159.0h.6M86.1 155.9h.6M87.0 155.8h.6M89.1 156.3h.6M91.9 156.0h.6M93.9 162.3h.6M86.5 150.5h.6M87.6 147.1h.6M91.0 157.2h.6M91.0 165.0h.6M93.0 161.6h.6M90.8 154.3h.6M83.1 155.3h.6M90.4 152.4h.6M87.7 157.5h.6M96.4 155.0h.6M89.2 153.5h.6M90.0 151.7h.6M91.5 152.8h.6M94.4 152.3h.6M86.2 158.8h.6M92.0 151.7h.6M90.9 156.9h.6M94.9 152.6h.6M83.7 157.6h.6M92.4 160.4h.6M89.0 148.7h.6M82.7 167.6h.6M89.9 155.9h.6M91.5 158.3h.6M87.7 155.3h.6M90.2 162.0h.6M97.3 161.7h.6M92.9 152.0h.6M87.7 158.4h.6M87.9 154.4h.6M99.1 155.2h.6M89.5 148.5h.6M92.1 158.1h.6M89.5 159.0h.6M81.5 163.3h.6M95.0 147.0h.6M90.9 160.2h.6M93.3 157.5h.6M94.5 159.0h.6M88.9 163.5h.6M86.1 154.7h.6M88.7 164.1h.6M88.4 150.2h.6M86.7 157.9h.6M90.3 158.3h.6M85.8 158.3h.6M93.2 165.4h.6M95.5 150.8h.6M92.1 152.1h.6M91.8 160.3h.6M89.7 143.7h.6M90.8 157.3h.6M88.5 160.4h.6M89.1 155.7h.6M92.3 153.5h.6M93.1 154.8h.6M89.8 159.7h.6M95.1 155.7h.6M91.1 155.5h.6M85.0 155.0h.6M98.7 155.9h.6M93.2 159.7h.6M94.8 157.0h.6M93.1 156.1h.6M98.9 158.8h.6M90.1 162.9h.6M87.6 161.6h.6M98.3 152.5h.6M92.4 154.5h.6M90.8 156.2h.6M83.2 162.5h.6M90.4 161.4h.6M88.3 155.3h.6M89.2 150.5h.6M97.0 162.8h.6M95.4 160.1h.6M89.4 159.1h.6M101.3 164.6h.6M91.7 152.1h.6M93.1 145.3h.6M94.4 154.5h.6M89.8 162.5h.6M96.1 156.1h.6M87.2 149.3h.6M86.7 160.2h.6M91.9 154.5h.6M91.0 156.2h.6M86.0 155.6h.6M95.3 165.3h.6M88.4 158.1h.6M86.5 160.2h.6M90.3 157.2h.6M95.1 161.0h.6M92.3 159.6h.6M93.0 148.4h.6M92.1 155.1h.6M96.4 157.3h.6M87.8 154.4h.6M94.2 157.6h.6M90.9 163.1h.6M92.9 156.6h.6M95.3 160.2h.6M92.4 159.0h.6M81.0 162.0h.6M89.1 160.6h.6M88.4 157.4h.6M86.1 161.1h.6M87.7 164.3h.6M91.1 159.0h.6M87.8 153.4h.6M91.9 155.9h.6M90.4 150.2h.6M89.2 158.8h.6M86.0 152.0h.6M86.6 157.9h.6M88.6 151.2h.6M88.5 158.4h.6M86.2 158.3h.6M99.5 148.0h.6M87.6 155.6h.6M91.3 163.4h.6M90.3 153.5h.6M85.7 140.8h.6M84.1 163.9h.6M85.8 159.6h.6M92.1 154.7h.6M84.8 167.9h.6M93.2 158.6h.6M84.8 158.1h.6M85.0 149.2h.6M90.4 156.8h.6M91.4 157.5h.6M89.8 157.4h.6M85.6 155.9h.6M92.5 165.7h.6M82.9 163.0h.6M87.4 162.0h.6M87.9 156.1h.6M90.6 156.6h.6M90.5 161.0h.6M93.5 153.3h.6M93.4 157.9h.6M85.6 151.7h.6M95.2 162.1h.6M87.2 160.6h.6M87.2 159.3h.6M98.3 156.4h.6M95.5 153.3h.6M89.9 154.6h.6M96.9 158.9h.6M88.2 151.3h.6M89.4 160.3h.6M94.3 154.3h.6M93.7 157.5h.6M89.7 158.4h.6M98.0 155.6h.6M90.6 156.6h.6M89.0 158.1h.6M89.5 148.7h.6M92.0 149.1h.6M90.9 157.5h.6M96.1 161.9h.6M92.5 152.1h.6M91.2 166.0h.6M92.8 159.8h.6M100.5 157.2h.6M85.3 161.0h.6M92.0 151.2h.6M96.5 156.3h.6M98.6 151.8h.6M95.6 160.8h.6M91.0 161.0h.6M84.8 168.5h.6M94.0 158.8h.6M98.9 168.5h.6M85.1 157.2h.6M84.6 156.0h.6M88.6 161.1h.6M90.3 149.8h.6M92.8 154.4h.6M93.8 150.9h.6M87.3 154.9h.6M89.2 156.2h.6M93.0 159.3h.6M91.3 158.0h.6M89.3 149.7h.6M88.7 154.9h.6M89.4 148.5h.6M88.7 154.8h.6M87.3 155.2h.6M90.3 159.6h.6M93.8 152.1h.6M92.5 155.8h.6M90.1 162.5h.6M93.3 158.4h.6M86.6 155.7h.6M94.4 153.8h.6M87.5 152.4h.6M91.2 152.7h.6M100.3 157.0h.6M91.0 154.7h.6M92.4 159.1h.6M89.5 155.0h.6M94.6 157.7h.6M93.2 157.1h.6M88.7 159.1h.6M93.2 157.1h.6M90.6 161.1h.6M87.7 159.2h.6M90.2 157.8h.6M93.5 150.6h.6M90.2 157.0h.6M91.3 166.8h.6M88.2 157.8h.6M93.6 148.2h.6M93.5 160.8h.6M88.9 156.1h.6M88.4 162.8h.6M88.2 151.3h.6M88.0 153.9h.6M91.1 157.3h.6M94.2 149.2h.6M91.7 156.0h.6M90.8 154.2h.6M89.2 159.5h.6M94.6 150.4h.6M92.2 153.1h.6M93.0 155.6h.6M85.8 153.9h.6M90.9 161.5h.6M95.5 161.8h.6M91.3 159.3h.6M89.6 163.5h.6M87.7 152.7h.6M94.0 150.9h.6M91.6 162.5h.6M91.8 160.0h.6M91.3 158.5h.6M86.2 164.8h.6M89.7 155.4h.6M91.4 163.0h.6M89.7 156.8h.6M94.3 160.3h.6M89.3 155.9h.6M90.9 153.6h.6M86.9 154.0h.6M86.0 166.4h.6M87.6 159.9h.6M84.0 154.8h.6M96.5 156.4h.6M85.1 155.2h.6M84.8 148.1h.6M96.3 155.6h.6M91.5 162.8h.6M88.1 158.2h.6M91.0 153.8h.6M89.5 151.8h.6M85.6 160.2h.6M88.8 143.3h.6M96.8 156.9h.6M90.0 163.8h.6M82.2 157.3h.6M87.4 158.4h.6M94.4 157.8h.6M87.6 156.2h.6M93.7 160.2h.6M92.4 158.2h.6M87.5 158.5h.6M86.2 157.0h.6M89.1 158.6h.6M95.0 157.7h.6M93.3 156.3h.6M88.7 160.2h.6M90.3 151.6h.6M90.6 156.5h.6M95.0 156.4h.6M87.4 158.3h.6M79.0 165.9h.6M83.9 156.3h.6M101.3 149.9h.6M81.7 144.3h.6M91.1 154.3h.6M99.9 150.0h.6M89.9 151.1h.6M91.8 144.9h.6M88.6 147.5h.6M97.6 148.8h.6M89.7 168.9h.6M92.9 158.6h.6M95.4 156.1h.6M92.7 149.5h.6M82.0 159.5h.6M89.3 139.0h.6M102.3 163.5h.6M84.4 163.7h.6M86.9 153.3h.6M96.6 159.9h.6M95.8 153.9h.6M98.1 145.3h.6M94.5 149.1h.6M84.6 153.6h.6M96.1 156.3h.6M101.4 146.6h.6M82.9 151.9h.6M102.6 137.6h.6M90.2 151.1h.6M94.8 149.1h.6M92.2 156.7h.6M83.2 151.7h.6M84.7 154.7h.6M98.7 162.1h.6M86.4 150.9h.6M99.9 136.5h.6M109.0 141.9h.6M98.0 155.8h.6M87.1 154.4h.6M91.4 135.5h.6M97.1 159.6h.6M105.6 149.2h.6M89.0 153.6h.6M84.3 155.1h.6M92.9 147.6h.6M101.1 153.3h.6M101.2 159.8h.6M94.3 168.3h.6M92.3 154.9h.6M94.3 154.1h.6M85.5 162.3h.6M99.8 154.5h.6M89.1 151.6h.6M85.7 148.4h.6M86.1 165.5h.6M90.8 148.8h.6M93.7 154.1h.6M91.2 163.6h.6M109.2 148.4h.6M94.3 149.5h.6M94.9 139.7h.6M89.3 150.2h.6M92.7 156.5h.6M84.8 145.5h.6M92.6 151.6h.6M109.8 153.8h.6M91.6 158.6h.6M94.2 149.7h.6M95.8 136.4h.6M83.6 148.4h.6M101.1 152.9h.6M83.4 143.7h.6M88.7 152.1h.6M93.7 163.7h.6M94.8 154.3h.6M91.9 166.5h.6M86.0 150.4h.6M100.5 150.2h.6M92.6 162.6h.6M95.9 146.6h.6M84.0 156.6h.6M101.5 151.6h.6M95.7 161.9h.6M88.7 160.5h.6M91.7 151.0h.6M86.2 152.2h.6M82.0 144.0h.6M82.8 154.8h.6M90.8 158.3h.6M83.8 151.9h.6M93.9 165.6h.6M85.8 152.5h.6M91.7 167.4h.6M104.8 141.8h.6M92.0 155.5h.6M91.0 151.2h.6M98.2 143.2h.6M88.3 159.7h.6M90.4 148.3h.6M84.3 162.8h.6M88.3 143.1h.6M95.7 155.8h.6M91.9 154.5h.6M86.5 144.6h.6M99.5 147.9h.6M98.5 148.2h.6M86.6 151.8h.6M91.6 152.5h.6M89.3 156.6h.6M86.3 146.0h.6M92.2 149.2h.6M102.1 154.8h.6M84.1 146.0h.6M90.2 152.5h.6M79.9 156.9h.6M90.4 151.1h.6M102.2 164.4h.6M88.2 151.2h.6M87.9 135.4h.6M98.3 144.1h.6M93.0 149.4h.6M80.2 155.7h.6M90.0 156.2h.6M98.9 143.4h.6M94.4 152.6h.6M116.1 146.6h.6M124.5 147.2h.6M98.3 155.2h.6M113.4 150.9h.6M119.1 143.3h.6M97.5 151.7h.6M121.5 143.6h.6M120.5 155.9h.6M114.4 145.8h.6M101.8 146.1h.6M108.3 153.3h.6M116.8 148.3h.6M108.9 147.8h.6M105.0 151.5h.6M117.8 146.9h.6M113.4 144.2h.6M92.2 150.7h.6M107.5 145.1h.6M98.7 151.5h.6M106.3 147.5h.6M109.5 144.4h.6M105.7 150.1h.6M115.5 153.9h.6M121.0 142.0h.6M119.4 151.2h.6M110.5 143.1h.6M104.4 147.9h.6M119.1 143.1h.6M106.4 151.2h.6M119.7 140.1h.6M82.4 120.2h.6M90.3 131.6h.6M90.8 137.1h.6M87.1 127.6h.6M94.9 130.9h.6M101.7 154.5h.6M105.6 128.4h.6M84.9 137.8h.6M97.7 120.4h.6M96.7 137.3h.6M102.6 131.8h.6M91.0 128.3h.6M95.2 150.9h.6M92.7 151.3h.6M106.0 143.0h.6M99.3 132.8h.6M86.7 138.3h.6M97.0 151.8h.6M97.4 117.7h.6M90.5 148.2h.6M88.6 120.3h.6M87.0 120.4h.6M97.8 136.1h.6M90.3 155.9h.6M96.2 119.8h.6M101.0 139.6h.6M93.3 147.5h.6M90.2 155.8h.6M98.1 154.9h.6M84.7 145.8h.6M83.5 149.3h.6M90.4 142.3h.6M91.8 130.8h.6M90.4 130.3h.6M99.7 128.9h.6M85.9 156.8h.6M95.4 130.4h.6M94.2 120.5h.6M98.5 132.8h.6M91.9 151.3h.6M85.8 134.8h.6M91.9 135.6h.6" stroke="#333" stroke-width=".6" stroke-opacity=".34" fill="none"/>
<path d="M77.60 115.40H128.60V171.00" fill="none" stroke="#444" stroke-width=".65"/>
<path d="M77.60 115.40V171.00H128.60" fill="none" stroke="#1e1e1e" stroke-width=".95"/>
<line x1="103.70" y1="115.40" x2="103.70" y2="171.00" stroke="#2c2c2c" stroke-width="0.85"/>
<line x1="77.60" y1="123.40" x2="128.60" y2="123.40" stroke="#2c2c2c" stroke-width="0.85"/>
<line x1="75.80" y1="170.60" x2="77.60" y2="170.60" stroke="#333" stroke-width="0.5"/>
<text x="75.20" y="172.20" font-size="2.6" text-anchor="end" font-weight="normal" fill="#444" >10</text>
<text x="76.40" y="170.80" font-size="1.8" text-anchor="end" font-weight="normal" fill="#444" >0</text>
<line x1="75.80" y1="154.10" x2="77.60" y2="154.10" stroke="#333" stroke-width="0.5"/>
<text x="75.20" y="155.70" font-size="2.6" text-anchor="end" font-weight="normal" fill="#444" >10</text>
<text x="76.40" y="154.30" font-size="1.8" text-anchor="end" font-weight="normal" fill="#444" >1</text>
<line x1="75.80" y1="137.60" x2="77.60" y2="137.60" stroke="#333" stroke-width="0.5"/>
<text x="75.20" y="139.20" font-size="2.6" text-anchor="end" font-weight="normal" fill="#444" >10</text>
<text x="76.40" y="137.80" font-size="1.8" text-anchor="end" font-weight="normal" fill="#444" >2</text>
<line x1="75.80" y1="121.10" x2="77.60" y2="121.10" stroke="#333" stroke-width="0.5"/>
<text x="75.20" y="122.70" font-size="2.6" text-anchor="end" font-weight="normal" fill="#444" >10</text>
<text x="76.40" y="121.30" font-size="1.8" text-anchor="end" font-weight="normal" fill="#444" >3</text>
<line x1="89.33" y1="171.00" x2="89.33" y2="172.80" stroke="#333" stroke-width="0.5"/>
<text x="88.73" y="176.20" font-size="2.6" text-anchor="middle" font-weight="normal" fill="#444" >10</text>
<text x="90.83" y="174.80" font-size="1.8" text-anchor="middle" font-weight="normal" fill="#444" >1</text>
<line x1="119.93" y1="171.00" x2="119.93" y2="172.80" stroke="#333" stroke-width="0.5"/>
<text x="119.33" y="176.20" font-size="2.6" text-anchor="middle" font-weight="normal" fill="#444" >10</text>
<text x="121.43" y="174.80" font-size="1.8" text-anchor="middle" font-weight="normal" fill="#444" >2</text>
<rect x="76.20" y="169.80" width="1.60" height="2.60" fill="#222" stroke="none" stroke-width="0.7" />
<text x="78.90" y="119.40" font-size="4.0" text-anchor="start" font-weight="normal" fill="#333" >2.61%</text>
<text x="127.70" y="119.40" font-size="4.0" text-anchor="end" font-weight="normal" fill="#333" >1.30%</text>
<text x="78.50" y="169.50" font-size="4.0" text-anchor="start" font-weight="normal" fill="#333" >91.28%</text>
<text x="127.70" y="169.50" font-size="4.0" text-anchor="end" font-weight="normal" fill="#333" >4.81%</text>
<text x="103.60" y="182.40" font-size="4.2" text-anchor="middle" font-weight="normal" fill="#333" >FL1 (intensity)</text>
<text transform="translate(68.20 144.20) rotate(-90)" font-size="4.2" text-anchor="middle" font-weight="normal" fill="#333" letter-spacing="0">FL2 (intensity)</text>
<path d="M159.9 156.5h.6M152.8 156.7h.6M158.3 159.5h.6M150.4 157.2h.6M155.8 158.2h.6M158.8 156.5h.6M157.8 156.6h.6M155.8 155.4h.6M156.7 162.3h.6M157.1 152.6h.6M153.7 159.8h.6M154.0 157.0h.6M159.3 156.6h.6M160.1 161.8h.6M153.5 163.4h.6M162.4 159.2h.6M151.4 165.4h.6M155.8 162.2h.6M155.1 162.7h.6M155.9 164.2h.6M152.1 161.3h.6M155.9 162.4h.6M151.5 154.9h.6M154.7 153.5h.6M158.5 158.7h.6M158.4 159.8h.6M159.2 163.7h.6M152.6 166.0h.6M157.3 160.9h.6M157.8 159.8h.6M155.0 152.0h.6M156.9 165.9h.6M155.2 153.2h.6M152.8 153.3h.6M155.5 158.2h.6M151.1 165.9h.6M153.3 162.2h.6M162.4 161.7h.6M159.4 154.2h.6M153.9 161.5h.6M157.0 160.7h.6M160.9 162.6h.6M147.8 156.8h.6M164.3 155.3h.6M163.6 154.5h.6M158.9 157.9h.6M164.4 156.1h.6M153.2 153.2h.6M153.4 159.4h.6M159.8 162.1h.6M156.7 159.8h.6M160.3 153.1h.6M159.2 154.8h.6M154.4 155.8h.6M158.2 154.7h.6M154.2 152.8h.6M156.3 159.2h.6M152.5 158.0h.6M158.0 154.7h.6M158.2 161.1h.6M157.9 154.3h.6M156.4 156.6h.6M162.1 161.1h.6M155.2 157.5h.6M148.3 159.3h.6M153.3 161.2h.6M153.1 160.1h.6M164.4 160.1h.6M154.0 155.5h.6M156.5 160.4h.6M163.5 153.9h.6M153.4 161.8h.6M154.7 156.5h.6M162.9 159.1h.6M159.5 162.6h.6M157.8 157.6h.6M159.8 163.2h.6M148.4 148.3h.6M154.6 152.8h.6M166.3 158.5h.6M149.7 158.1h.6M163.8 159.8h.6M154.4 158.0h.6M155.8 158.5h.6M154.7 155.9h.6M156.3 154.8h.6M155.1 151.6h.6M154.8 146.5h.6M155.4 164.2h.6M150.7 163.4h.6M159.9 150.5h.6M154.7 155.4h.6M165.2 150.9h.6M160.2 156.2h.6M159.4 151.3h.6M160.6 150.5h.6M153.4 158.8h.6M158.5 151.1h.6M149.7 155.2h.6M157.6 157.6h.6M155.4 158.0h.6M157.9 155.8h.6M158.9 155.3h.6M161.1 163.2h.6M155.3 153.3h.6M153.1 154.2h.6M161.2 155.8h.6M153.0 156.2h.6M152.2 161.2h.6M161.3 162.1h.6M162.6 154.1h.6M153.7 156.4h.6M158.3 158.7h.6M149.6 155.2h.6M158.6 155.3h.6M157.0 149.2h.6M149.7 158.6h.6M158.3 161.3h.6M151.1 156.8h.6M154.0 158.7h.6M159.5 154.1h.6M154.7 159.1h.6M151.2 158.3h.6M153.5 162.7h.6M156.4 157.5h.6M160.0 156.6h.6M148.0 154.2h.6M157.4 159.1h.6M157.6 160.0h.6M159.7 153.0h.6M159.8 158.5h.6M154.7 157.3h.6M154.2 166.9h.6M154.5 158.6h.6M155.5 156.2h.6M151.7 156.7h.6M161.0 160.6h.6M154.8 164.6h.6M150.9 150.8h.6M155.2 155.7h.6M159.3 164.1h.6M157.5 156.0h.6M154.4 159.4h.6M149.6 159.4h.6M151.3 154.7h.6M157.3 153.8h.6M154.4 154.5h.6M152.5 158.4h.6M155.9 155.1h.6M158.2 155.2h.6M154.2 165.8h.6M160.5 157.1h.6M158.0 157.1h.6M159.4 156.6h.6M163.1 159.2h.6M160.3 164.0h.6M158.9 157.6h.6M156.0 159.0h.6M153.6 158.3h.6M156.7 152.2h.6M164.0 155.6h.6M160.9 166.5h.6M160.8 153.9h.6M154.8 157.0h.6M155.9 160.4h.6M158.7 163.5h.6M154.1 164.5h.6M150.8 153.7h.6M163.1 162.2h.6M151.8 157.2h.6M157.4 164.6h.6M152.1 161.6h.6M155.2 156.2h.6M155.1 164.8h.6M162.2 158.2h.6M151.4 155.4h.6M155.0 162.1h.6M150.9 158.6h.6M161.0 159.9h.6M156.7 163.6h.6M156.9 160.6h.6M157.9 167.2h.6M152.0 164.7h.6M156.7 153.9h.6M156.5 157.3h.6M161.8 154.8h.6M160.4 161.1h.6M151.5 157.7h.6M155.0 167.3h.6M156.0 156.3h.6M160.2 148.8h.6M155.0 164.3h.6M161.9 150.2h.6M163.4 161.2h.6M157.1 165.8h.6M155.4 152.8h.6M162.4 152.7h.6M166.3 157.1h.6M151.6 154.2h.6M155.2 153.4h.6M152.6 157.5h.6M157.6 161.0h.6M161.0 150.1h.6M155.2 150.9h.6M152.2 157.1h.6M156.8 157.0h.6M147.8 161.7h.6M158.1 162.5h.6M159.5 159.2h.6M157.4 156.4h.6M159.0 149.7h.6M158.9 154.9h.6M160.2 155.7h.6M148.4 161.0h.6M151.6 155.6h.6M157.3 157.8h.6M156.8 159.7h.6M158.3 154.4h.6M162.4 155.7h.6M159.1 164.3h.6M155.1 162.6h.6M163.2 161.5h.6M158.1 151.6h.6M155.8 153.6h.6M159.3 160.4h.6M156.7 151.6h.6M158.8 160.1h.6M156.4 157.6h.6M160.9 158.9h.6M162.2 164.7h.6M161.2 163.0h.6M157.9 153.7h.6M154.3 154.4h.6M159.8 157.0h.6M160.1 156.4h.6M154.2 159.4h.6M152.6 149.7h.6M156.1 154.8h.6M162.9 157.1h.6M149.8 157.1h.6M160.9 161.4h.6M158.4 149.7h.6M156.4 156.0h.6M154.1 158.0h.6M154.1 154.6h.6M152.6 159.1h.6M150.4 152.4h.6M156.4 161.1h.6M157.7 159.6h.6M161.9 149.1h.6M159.5 160.6h.6M163.1 152.3h.6M168.5 155.6h.6M156.5 159.1h.6M157.0 162.9h.6M159.8 157.8h.6M151.5 158.7h.6M158.1 159.4h.6M156.2 159.3h.6M158.2 159.0h.6M159.3 148.5h.6M163.4 159.7h.6M160.0 151.9h.6M154.9 165.6h.6M158.0 158.2h.6M159.5 156.6h.6M162.3 153.6h.6M158.6 158.1h.6M155.7 155.4h.6M154.2 151.6h.6M157.5 162.7h.6M158.8 166.6h.6M153.1 152.3h.6M156.1 156.4h.6M161.9 152.3h.6M152.1 156.9h.6M150.8 157.9h.6M154.1 156.7h.6M154.4 157.2h.6M161.5 157.7h.6M161.1 152.2h.6M158.1 162.8h.6M152.8 154.5h.6M152.7 158.9h.6M154.1 148.7h.6M150.6 156.7h.6M156.2 155.4h.6M156.8 161.5h.6M154.4 161.7h.6M156.6 153.1h.6M154.4 147.6h.6M159.8 163.0h.6M160.5 156.4h.6M161.8 151.7h.6M156.1 159.8h.6M158.3 153.0h.6M154.6 161.6h.6M155.9 147.8h.6M162.5 153.6h.6M158.6 161.4h.6M159.5 157.6h.6M155.8 159.9h.6M155.1 157.9h.6M154.8 153.6h.6M157.1 164.5h.6M156.6 158.4h.6M160.3 151.0h.6M159.2 154.8h.6M156.5 164.6h.6M162.8 167.0h.6M154.3 152.7h.6M159.9 158.7h.6M147.8 163.5h.6M160.0 162.4h.6M165.7 163.3h.6M156.9 149.1h.6M157.0 154.6h.6M157.1 158.8h.6M155.6 156.9h.6M157.9 160.1h.6M162.7 153.6h.6M154.8 169.4h.6M158.1 159.6h.6M152.1 163.2h.6M162.3 162.2h.6M150.6 155.2h.6M156.4 158.7h.6M161.8 161.8h.6M150.7 157.2h.6M157.9 161.0h.6M158.7 166.2h.6M156.4 154.9h.6M156.8 156.2h.6M154.2 158.2h.6M157.5 150.2h.6M156.0 154.7h.6M162.1 159.3h.6M156.8 156.9h.6M161.2 149.2h.6M154.1 161.8h.6M152.1 149.0h.6M154.4 153.0h.6M157.5 152.2h.6M161.6 158.7h.6M154.1 159.6h.6M154.9 159.5h.6M154.7 164.6h.6M160.1 154.2h.6M158.1 155.5h.6M150.9 156.7h.6M157.7 153.0h.6M161.6 167.7h.6M152.8 153.3h.6M156.0 159.4h.6M153.6 155.5h.6M161.2 153.2h.6M157.2 151.5h.6M157.0 155.0h.6M161.9 157.4h.6M155.0 155.8h.6M161.9 161.4h.6M156.2 150.8h.6M156.9 162.8h.6M157.6 151.0h.6M158.3 156.4h.6M157.1 156.8h.6M153.8 153.5h.6M160.4 159.7h.6M153.3 149.5h.6M160.9 160.1h.6M157.5 155.3h.6M163.8 150.7h.6M155.6 160.1h.6M158.6 160.1h.6M151.9 161.0h.6M161.4 155.2h.6M160.7 156.1h.6M157.0 157.4h.6M156.3 158.0h.6M161.5 163.7h.6M159.3 160.1h.6M152.5 156.6h.6M158.8 157.9h.6M155.3 153.3h.6M160.5 160.4h.6M159.2 158.4h.6M161.2 160.1h.6M163.2 155.5h.6M160.5 161.2h.6M150.6 167.4h.6M155.7 151.5h.6M156.8 162.4h.6M153.4 156.8h.6M155.5 156.7h.6M147.4 164.0h.6M153.5 160.7h.6M157.2 149.1h.6M156.7 153.0h.6M156.4 154.5h.6M156.5 156.9h.6M157.8 160.2h.6M153.4 163.5h.6M164.5 158.7h.6M164.6 163.6h.6M161.8 155.5h.6M161.7 148.3h.6M150.1 160.4h.6M163.3 159.2h.6M153.2 151.1h.6M157.9 159.0h.6M152.0 156.6h.6M156.1 154.8h.6M148.1 152.5h.6M156.9 166.0h.6M162.4 155.8h.6M153.4 159.3h.6M155.1 158.0h.6M163.6 155.9h.6M165.5 167.9h.6M149.2 165.2h.6M167.3 145.5h.6M153.5 154.9h.6M152.9 150.3h.6M159.5 151.0h.6M154.3 147.6h.6M150.8 157.7h.6M180.7 150.3h.6M147.5 168.4h.6M166.8 150.4h.6M154.2 151.0h.6M160.5 144.3h.6M159.7 135.4h.6M150.8 144.6h.6M154.9 151.7h.6M156.1 153.7h.6M155.7 155.9h.6M156.2 154.1h.6M154.5 149.5h.6M160.5 163.9h.6M159.5 152.4h.6M156.5 142.9h.6M151.2 153.7h.6M165.0 153.5h.6M152.2 152.0h.6M164.9 152.7h.6M165.8 141.2h.6M160.8 144.3h.6M162.2 156.8h.6M166.6 153.7h.6M165.0 149.6h.6M155.2 153.1h.6M158.7 143.5h.6M165.6 166.9h.6M162.9 154.4h.6M162.1 157.7h.6M160.1 146.2h.6M159.7 152.3h.6M159.0 159.7h.6M160.4 150.0h.6M151.7 138.5h.6M171.1 150.7h.6M166.2 155.8h.6M159.2 156.9h.6M159.0 165.7h.6M155.2 151.1h.6M157.9 155.8h.6M169.0 147.1h.6M163.2 152.3h.6M158.4 158.1h.6M152.0 145.4h.6M152.5 151.7h.6M150.1 136.4h.6M166.2 155.8h.6M166.0 163.0h.6M149.9 135.7h.6M150.2 148.0h.6M171.0 150.7h.6M156.8 156.1h.6M160.7 151.7h.6M173.0 144.6h.6M149.5 136.8h.6M149.4 144.9h.6M154.4 149.9h.6M168.7 159.1h.6M155.0 154.2h.6M153.4 150.8h.6M157.4 168.9h.6M149.9 144.2h.6M161.6 145.4h.6M151.4 155.5h.6M150.9 163.6h.6M162.9 148.6h.6M157.3 147.7h.6M169.2 153.6h.6M159.5 146.1h.6M169.7 152.6h.6M153.4 164.9h.6M160.6 149.4h.6M164.9 148.6h.6M157.5 160.5h.6M150.0 151.3h.6M157.8 155.6h.6M150.9 143.9h.6M156.1 145.6h.6M159.3 151.9h.6M159.4 154.1h.6M150.4 149.8h.6M159.7 162.5h.6M160.4 153.0h.6M172.7 149.2h.6M167.8 157.8h.6M149.8 152.5h.6M163.9 143.6h.6M168.4 148.7h.6M161.5 151.0h.6M161.2 146.8h.6M169.4 146.4h.6M170.0 150.2h.6M151.9 159.0h.6M159.0 150.4h.6M149.7 150.5h.6M157.2 146.0h.6M149.5 145.1h.6M150.7 161.0h.6M164.0 148.7h.6M150.5 151.5h.6M161.4 147.7h.6M156.9 160.6h.6M156.2 149.3h.6M166.7 151.8h.6M157.6 145.0h.6M165.3 154.3h.6M155.7 151.5h.6M167.8 151.7h.6M156.9 153.5h.6M158.6 160.1h.6M155.9 149.1h.6M152.9 153.6h.6M148.6 148.3h.6M156.4 150.7h.6M154.0 145.5h.6M159.4 134.6h.6M150.3 165.2h.6M159.8 164.2h.6M171.6 153.5h.6M151.2 155.9h.6M151.7 153.1h.6M159.9 164.9h.6M156.9 151.1h.6M157.3 159.4h.6M152.5 149.4h.6M177.4 145.8h.6M162.0 157.0h.6M162.1 160.5h.6M156.3 164.4h.6M160.5 151.0h.6M161.9 153.6h.6M157.1 156.9h.6M152.4 156.1h.6M155.9 132.8h.6M165.8 151.9h.6M156.2 149.7h.6M147.3 142.6h.6M161.4 150.2h.6M166.1 167.6h.6M154.6 140.5h.6M167.4 157.5h.6M169.9 154.8h.6M160.2 146.4h.6M169.9 153.2h.6M168.3 152.9h.6M154.3 158.2h.6M165.5 134.0h.6M155.2 157.1h.6M165.9 152.8h.6M152.8 155.4h.6M155.3 131.0h.6M152.5 157.8h.6M164.5 133.3h.6M158.9 140.8h.6M165.9 137.5h.6M166.8 150.2h.6M157.9 153.6h.6M152.0 151.8h.6M180.7 153.1h.6M152.7 170.0h.6M165.1 153.7h.6M160.7 141.6h.6M154.7 145.0h.6M169.6 161.0h.6M159.1 144.1h.6M150.5 153.3h.6M147.1 154.2h.6M157.9 146.0h.6M183.2 149.6h.6M179.8 145.5h.6M184.5 148.0h.6M174.9 149.5h.6M180.4 148.0h.6M180.1 138.5h.6M184.0 140.1h.6M179.8 155.3h.6M189.3 141.8h.6M174.8 148.8h.6M168.8 152.1h.6M188.9 146.3h.6M166.5 150.2h.6M176.2 145.5h.6M169.5 148.7h.6M182.2 145.8h.6M193.1 143.4h.6M185.7 143.4h.6M190.7 142.6h.6M188.9 147.0h.6M186.2 148.0h.6M171.5 154.3h.6M182.8 143.5h.6M171.4 144.3h.6M171.6 150.8h.6M171.7 148.3h.6M174.8 148.0h.6M154.8 161.2h.6M163.7 152.9h.6M169.3 148.9h.6M185.6 142.4h.6M161.5 152.6h.6M178.9 143.7h.6M155.5 153.8h.6M156.0 153.3h.6M159.3 142.3h.6M159.5 133.8h.6M150.0 122.5h.6M155.0 151.2h.6M158.3 118.7h.6M164.2 121.5h.6M159.2 155.1h.6M167.2 124.1h.6M158.6 143.0h.6M165.5 131.5h.6M158.4 119.0h.6M157.0 140.6h.6M159.5 119.1h.6M156.9 144.2h.6M172.4 145.0h.6M165.4 123.7h.6M158.3 120.7h.6M161.1 131.4h.6M169.3 147.6h.6M151.0 142.9h.6M153.9 143.6h.6M156.4 137.2h.6M151.0 129.3h.6M166.8 133.6h.6M153.4 131.1h.6M156.7 131.5h.6M162.3 149.0h.6M162.6 128.6h.6M166.2 140.5h.6M160.4 136.8h.6M157.1 124.8h.6M154.6 126.1h.6M152.9 126.5h.6M158.3 153.2h.6M165.0 152.4h.6M161.5 135.6h.6M154.3 125.3h.6M163.6 133.1h.6M163.8 129.3h.6M170.8 136.8h.6M168.6 137.9h.6M162.9 149.5h.6M158.3 127.8h.6M150.4 127.3h.6M158.5 155.0h.6M158.9 146.2h.6M154.4 120.3h.6M160.2 139.5h.6M160.4 121.2h.6M157.1 144.8h.6M149.7 133.8h.6M162.0 156.8h.6M163.6 138.8h.6M156.3 140.9h.6" stroke="#333" stroke-width=".6" stroke-opacity=".34" fill="none"/>
<path d="M146.00 115.20H197.30V171.00" fill="none" stroke="#444" stroke-width=".65"/>
<path d="M146.00 115.20V171.00H197.30" fill="none" stroke="#1e1e1e" stroke-width=".95"/>
<line x1="169.90" y1="118.00" x2="169.90" y2="171.00" stroke="#2c2c2c" stroke-width="0.85"/>
<line x1="146.00" y1="126.10" x2="192.60" y2="126.10" stroke="#2c2c2c" stroke-width="0.85"/>
<line x1="144.20" y1="170.60" x2="146.00" y2="170.60" stroke="#333" stroke-width="0.5"/>
<text x="143.60" y="172.20" font-size="2.6" text-anchor="end" font-weight="normal" fill="#444" >10</text>
<text x="144.80" y="170.80" font-size="1.8" text-anchor="end" font-weight="normal" fill="#444" >0</text>
<line x1="144.20" y1="154.10" x2="146.00" y2="154.10" stroke="#333" stroke-width="0.5"/>
<text x="143.60" y="155.70" font-size="2.6" text-anchor="end" font-weight="normal" fill="#444" >10</text>
<text x="144.80" y="154.30" font-size="1.8" text-anchor="end" font-weight="normal" fill="#444" >1</text>
<line x1="144.20" y1="137.60" x2="146.00" y2="137.60" stroke="#333" stroke-width="0.5"/>
<text x="143.60" y="139.20" font-size="2.6" text-anchor="end" font-weight="normal" fill="#444" >10</text>
<text x="144.80" y="137.80" font-size="1.8" text-anchor="end" font-weight="normal" fill="#444" >2</text>
<line x1="144.20" y1="121.10" x2="146.00" y2="121.10" stroke="#333" stroke-width="0.5"/>
<text x="143.60" y="122.70" font-size="2.6" text-anchor="end" font-weight="normal" fill="#444" >10</text>
<text x="144.80" y="121.30" font-size="1.8" text-anchor="end" font-weight="normal" fill="#444" >3</text>
<line x1="157.80" y1="171.00" x2="157.80" y2="172.80" stroke="#333" stroke-width="0.5"/>
<text x="157.20" y="176.20" font-size="2.6" text-anchor="middle" font-weight="normal" fill="#444" >10</text>
<text x="159.30" y="174.80" font-size="1.8" text-anchor="middle" font-weight="normal" fill="#444" >1</text>
<line x1="188.58" y1="171.00" x2="188.58" y2="172.80" stroke="#333" stroke-width="0.5"/>
<text x="187.98" y="176.20" font-size="2.6" text-anchor="middle" font-weight="normal" fill="#444" >10</text>
<text x="190.08" y="174.80" font-size="1.8" text-anchor="middle" font-weight="normal" fill="#444" >2</text>
<rect x="144.60" y="169.80" width="1.60" height="2.60" fill="#222" stroke="none" stroke-width="0.7" />
<text x="147.30" y="119.20" font-size="4.0" text-anchor="start" font-weight="normal" fill="#333" >1.64%</text>
<text x="196.40" y="119.20" font-size="4.0" text-anchor="end" font-weight="normal" fill="#333" >1.38%</text>
<text x="146.90" y="169.50" font-size="4.0" text-anchor="start" font-weight="normal" fill="#333" >92.09%</text>
<text x="196.40" y="169.50" font-size="4.0" text-anchor="end" font-weight="normal" fill="#333" >4.89%</text>
<text x="172.15" y="182.40" font-size="4.2" text-anchor="middle" font-weight="normal" fill="#333" >FL1 (intensity)</text>
<text transform="translate(136.60 144.10) rotate(-90)" font-size="4.2" text-anchor="middle" font-weight="normal" fill="#333" letter-spacing="0">FL2 (intensity)</text>
<path d="M219.9 160.5h.6M225.3 150.2h.6M227.5 163.2h.6M222.0 156.4h.6M235.6 158.8h.6M225.1 158.8h.6M231.0 153.6h.6M227.2 150.8h.6M220.6 151.2h.6M231.3 159.4h.6M230.8 163.4h.6M227.8 159.0h.6M229.4 160.1h.6M222.9 156.8h.6M226.9 158.2h.6M224.3 157.4h.6M228.9 158.8h.6M230.2 161.6h.6M230.1 162.3h.6M231.3 164.1h.6M230.4 155.3h.6M237.9 163.0h.6M233.1 161.2h.6M227.8 153.0h.6M229.5 156.4h.6M225.8 148.6h.6M234.4 152.8h.6M222.7 160.0h.6M230.1 154.5h.6M227.6 159.1h.6M228.3 160.3h.6M231.0 156.4h.6M220.4 167.5h.6M225.9 153.6h.6M230.9 160.6h.6M224.9 168.4h.6M217.2 163.6h.6M227.4 159.4h.6M229.0 157.0h.6M229.0 152.2h.6M225.8 166.2h.6M216.2 163.4h.6M217.7 154.2h.6M231.5 156.2h.6M225.0 151.4h.6M227.1 157.2h.6M224.8 151.1h.6M228.3 159.8h.6M232.6 160.3h.6M234.3 163.3h.6M227.1 153.4h.6M229.5 162.2h.6M220.8 152.5h.6M230.6 155.6h.6M234.0 159.0h.6M225.2 152.1h.6M230.2 150.4h.6M221.8 152.2h.6M235.1 165.5h.6M226.6 156.3h.6M230.7 163.5h.6M224.0 167.7h.6M226.7 163.0h.6M217.2 157.8h.6M224.5 166.8h.6M226.6 152.4h.6M236.2 155.0h.6M227.6 152.5h.6M230.6 158.8h.6M226.3 156.2h.6M225.1 154.8h.6M221.4 163.3h.6M231.5 151.9h.6M222.5 159.8h.6M237.6 157.1h.6M226.2 156.9h.6M228.7 157.2h.6M232.4 162.3h.6M230.0 164.9h.6M226.6 155.6h.6M240.7 149.5h.6M220.7 147.6h.6M229.2 153.3h.6M232.3 148.7h.6M227.0 156.3h.6M222.8 162.9h.6M225.8 160.0h.6M225.3 158.7h.6M225.6 158.3h.6M227.2 155.0h.6M229.5 157.2h.6M223.3 153.4h.6M229.6 163.9h.6M221.8 156.1h.6M229.6 162.6h.6M230.7 152.8h.6M227.8 162.0h.6M228.7 157.0h.6M222.4 158.7h.6M227.3 158.1h.6M234.2 163.2h.6M224.1 159.0h.6M226.2 158.4h.6M234.8 162.0h.6M227.8 155.1h.6M226.9 159.6h.6M225.4 162.9h.6M227.7 152.8h.6M236.6 145.2h.6M226.4 157.5h.6M232.0 162.9h.6M234.0 164.9h.6M229.0 158.5h.6M232.1 157.9h.6M222.0 156.0h.6M230.5 160.7h.6M222.7 163.3h.6M229.0 151.4h.6M229.7 162.4h.6M230.0 156.6h.6M224.1 162.9h.6M228.6 158.0h.6M225.8 153.4h.6M219.3 156.5h.6M232.5 161.4h.6M224.6 164.7h.6M226.6 153.6h.6M231.9 164.1h.6M225.9 152.6h.6M227.3 147.3h.6M227.8 164.7h.6M228.8 154.8h.6M230.7 155.8h.6M233.2 156.4h.6M236.6 156.4h.6M228.4 153.9h.6M221.9 159.5h.6M229.1 153.7h.6M230.1 156.2h.6M225.2 157.7h.6M229.3 161.2h.6M233.1 159.7h.6M224.4 155.0h.6M229.2 152.7h.6M226.8 156.3h.6M227.2 158.8h.6M232.2 165.2h.6M231.5 162.5h.6M222.9 162.6h.6M233.3 152.0h.6M238.8 155.5h.6M217.1 165.8h.6M227.9 154.5h.6M225.1 162.7h.6M228.7 156.3h.6M232.7 153.9h.6M223.8 155.5h.6M224.3 161.0h.6M226.6 153.4h.6M225.6 149.2h.6M228.3 158.4h.6M230.3 157.0h.6M229.4 153.9h.6M227.7 158.7h.6M222.2 160.6h.6M228.2 158.2h.6M225.5 166.8h.6M227.6 154.6h.6M223.8 160.6h.6M226.7 154.5h.6M224.4 162.1h.6M228.0 162.6h.6M227.5 152.8h.6M231.4 159.4h.6M224.7 156.6h.6M223.3 161.7h.6M225.8 160.1h.6M228.7 156.9h.6M229.2 156.9h.6M222.4 156.2h.6M222.4 161.3h.6M230.5 155.4h.6M230.3 159.1h.6M231.9 153.9h.6M227.7 153.6h.6M224.6 164.0h.6M218.7 154.0h.6M229.7 161.4h.6M224.1 149.1h.6M220.0 159.6h.6M232.5 162.0h.6M224.4 163.9h.6M226.8 160.7h.6M226.8 165.0h.6M225.3 148.6h.6M226.2 158.8h.6M228.8 154.8h.6M226.6 153.0h.6M226.6 158.4h.6M228.7 165.2h.6M218.8 160.3h.6M229.5 152.9h.6M227.9 158.0h.6M223.2 161.2h.6M236.0 161.0h.6M231.0 162.7h.6M227.0 162.3h.6M224.0 158.8h.6M230.7 163.7h.6M226.3 156.7h.6M229.7 157.6h.6M228.2 161.5h.6M224.2 161.8h.6M229.3 156.8h.6M222.1 155.2h.6M227.4 162.1h.6M219.0 161.1h.6M228.4 153.0h.6M231.4 159.7h.6M229.5 153.7h.6M222.7 162.0h.6M233.8 159.6h.6M226.8 156.0h.6M220.1 162.3h.6M227.2 163.4h.6M224.4 162.6h.6M224.5 160.6h.6M233.6 154.9h.6M231.6 158.0h.6M223.5 158.9h.6M230.4 154.9h.6M226.4 155.5h.6M224.2 157.1h.6M231.2 155.8h.6M233.0 156.3h.6M224.6 162.7h.6M233.7 155.2h.6M230.2 152.9h.6M225.8 156.4h.6M230.7 152.5h.6M225.4 155.0h.6M228.0 152.6h.6M221.8 170.3h.6M228.5 151.4h.6M231.2 152.3h.6M219.4 165.3h.6M233.0 154.3h.6M222.8 160.1h.6M236.5 160.6h.6M230.5 152.8h.6M219.8 159.7h.6M232.0 158.6h.6M227.6 164.0h.6M223.9 162.8h.6M231.2 155.3h.6M228.1 158.5h.6M230.1 153.7h.6M226.6 158.4h.6M227.7 158.1h.6M228.7 157.2h.6M225.4 162.5h.6M224.8 156.6h.6M223.8 153.0h.6M229.5 157.8h.6M227.0 160.0h.6M226.8 161.0h.6M235.4 159.5h.6M226.4 165.2h.6M230.7 150.8h.6M233.4 158.9h.6M231.3 153.0h.6M223.9 155.2h.6M230.0 153.1h.6M224.5 162.1h.6M224.8 158.5h.6M223.7 150.6h.6M227.2 157.5h.6M221.4 162.2h.6M231.1 161.8h.6M225.4 153.0h.6M227.2 158.7h.6M226.8 155.5h.6M223.3 154.8h.6M227.2 155.9h.6M234.8 156.8h.6M229.6 156.0h.6M226.8 153.8h.6M225.5 151.5h.6M218.6 163.8h.6M223.0 159.9h.6M227.1 155.5h.6M230.7 155.6h.6M229.5 156.4h.6M231.8 162.1h.6M227.9 162.7h.6M229.8 164.7h.6M227.1 151.3h.6M228.5 159.0h.6M226.0 157.1h.6M226.4 152.6h.6M235.0 154.7h.6M223.0 151.2h.6M224.0 157.8h.6M234.0 160.6h.6M224.5 152.6h.6M222.8 157.6h.6M231.3 155.9h.6M234.5 166.3h.6M228.3 148.7h.6M232.3 157.6h.6M230.5 162.2h.6M223.3 158.3h.6M228.4 154.7h.6M230.6 157.4h.6M225.9 166.1h.6M228.3 165.0h.6M226.9 162.5h.6M224.3 158.6h.6M232.2 148.6h.6M229.9 156.8h.6M232.3 158.8h.6M227.3 152.5h.6M240.2 154.8h.6M226.2 154.9h.6M226.3 158.9h.6M221.8 162.5h.6M226.5 160.6h.6M218.5 155.7h.6M226.3 156.3h.6M224.7 159.3h.6M229.3 153.8h.6M219.1 161.1h.6M226.2 162.6h.6M231.3 157.5h.6M221.4 156.4h.6M224.5 163.3h.6M220.3 161.9h.6M221.0 155.5h.6M221.5 155.0h.6M225.7 159.6h.6M225.0 161.0h.6M235.1 158.7h.6M222.6 157.2h.6M227.1 156.4h.6M232.5 163.0h.6M236.2 160.2h.6M216.1 157.4h.6M230.5 154.5h.6M225.0 161.9h.6M228.2 153.1h.6M225.1 144.7h.6M227.6 152.7h.6M227.3 152.9h.6M223.6 155.8h.6M239.5 152.9h.6M222.5 155.7h.6M232.1 161.4h.6M230.6 156.6h.6M228.1 154.7h.6M226.8 154.5h.6M221.3 153.7h.6M235.9 159.7h.6M224.3 157.5h.6M225.6 163.2h.6M227.4 155.2h.6M230.5 159.4h.6M224.6 154.7h.6M228.2 150.9h.6M223.6 162.3h.6M231.3 162.8h.6M225.7 155.4h.6M226.4 155.9h.6M233.1 157.0h.6M233.4 154.9h.6M229.2 165.0h.6M224.4 155.2h.6M225.0 151.0h.6M226.3 155.2h.6M237.0 155.9h.6M218.4 162.0h.6M231.6 157.8h.6M228.8 161.1h.6M225.1 158.2h.6M228.2 165.1h.6M233.6 158.7h.6M221.8 161.8h.6M227.3 163.0h.6M227.8 158.8h.6M230.4 154.8h.6M224.7 167.9h.6M223.8 162.0h.6M230.5 161.5h.6M233.4 152.2h.6M231.6 149.1h.6M227.8 159.4h.6M232.0 162.7h.6M223.5 156.8h.6M226.9 155.0h.6M224.0 155.1h.6M238.4 163.4h.6M235.1 165.8h.6M229.7 145.5h.6M223.7 155.0h.6M237.4 162.4h.6M221.7 160.5h.6M224.7 157.8h.6M236.5 164.3h.6M224.7 155.3h.6M232.5 150.4h.6M229.7 157.8h.6M247.8 156.8h.6M224.5 140.0h.6M221.2 157.3h.6M234.5 156.7h.6M233.8 149.1h.6M242.0 145.2h.6M233.1 151.5h.6M226.7 158.7h.6M239.3 154.7h.6M223.6 151.9h.6M228.4 164.1h.6M235.9 165.1h.6M235.2 147.9h.6M236.5 160.6h.6M228.0 156.9h.6M226.4 144.2h.6M228.3 159.1h.6M226.1 137.0h.6M222.5 161.5h.6M230.8 161.7h.6M222.9 150.4h.6M220.8 147.8h.6M233.1 154.5h.6M225.0 155.7h.6M218.4 150.6h.6M216.8 142.5h.6M217.9 145.4h.6M241.8 163.6h.6M239.2 149.2h.6M234.1 145.1h.6M224.6 155.3h.6M216.0 154.9h.6M234.0 138.3h.6M228.0 154.5h.6M219.8 157.7h.6M230.0 148.1h.6M242.3 155.4h.6M235.0 167.1h.6M225.0 151.9h.6M233.5 155.0h.6M218.7 147.2h.6M229.9 155.7h.6M221.5 151.9h.6M222.4 158.1h.6M234.2 149.4h.6M225.2 144.5h.6M225.2 169.6h.6M228.9 159.8h.6M233.7 164.4h.6M226.3 146.8h.6M237.4 160.3h.6M223.6 161.6h.6M228.9 153.2h.6M243.9 157.4h.6M231.5 151.1h.6M230.6 161.3h.6M232.7 147.9h.6M232.6 152.6h.6M231.5 152.1h.6M225.8 137.2h.6M216.7 168.5h.6M234.6 150.1h.6M231.6 136.9h.6M231.0 160.8h.6M230.5 143.8h.6M236.8 149.6h.6M224.3 155.0h.6M226.5 168.6h.6M227.8 169.4h.6M232.6 144.3h.6M229.0 153.9h.6M240.7 163.0h.6M249.8 148.6h.6M221.7 156.1h.6M242.1 146.0h.6M226.1 148.0h.6M233.3 156.5h.6M228.6 158.4h.6M222.5 150.7h.6M232.8 168.5h.6M228.7 153.9h.6M227.7 157.4h.6M252.4 150.6h.6M248.5 148.5h.6M262.8 145.6h.6M262.7 145.1h.6M243.6 153.5h.6M236.3 159.0h.6M251.3 149.8h.6M223.0 162.9h.6M228.5 155.4h.6M255.0 151.3h.6M264.3 144.7h.6M238.8 147.6h.6M251.1 145.1h.6M252.2 150.3h.6M231.1 155.2h.6M239.0 156.8h.6M248.3 150.8h.6M245.3 152.8h.6M252.6 146.4h.6M243.1 154.8h.6M232.3 157.2h.6M243.0 150.8h.6M250.4 149.2h.6M246.2 145.9h.6M231.5 154.7h.6M252.9 149.7h.6M231.5 157.0h.6M239.8 153.2h.6M239.8 154.0h.6M258.2 146.8h.6M232.4 156.6h.6M234.5 147.9h.6M232.2 163.9h.6M248.7 150.4h.6M231.9 161.9h.6M225.2 156.6h.6M227.1 161.7h.6M250.0 143.6h.6M242.6 155.9h.6M249.3 149.0h.6M247.8 145.8h.6M244.6 146.3h.6M260.2 149.2h.6M262.4 140.9h.6M229.1 134.1h.6M234.8 134.5h.6M225.7 136.7h.6M232.8 140.5h.6M238.9 146.1h.6M236.8 125.0h.6M230.6 136.3h.6M232.6 144.7h.6M222.6 141.8h.6M235.5 118.8h.6M238.5 154.9h.6M233.4 145.9h.6M225.5 122.4h.6M232.4 143.5h.6M231.2 120.5h.6M223.6 128.4h.6M227.4 133.4h.6M218.9 153.4h.6M229.4 125.4h.6M231.6 153.5h.6M229.8 128.7h.6M227.7 133.2h.6M229.0 154.8h.6M230.8 138.8h.6M230.4 140.4h.6M232.4 155.2h.6M227.9 152.8h.6M216.9 144.3h.6M236.3 140.9h.6M232.7 134.1h.6M231.1 152.5h.6M233.2 144.4h.6M228.2 152.8h.6M238.2 122.9h.6M227.1 154.1h.6M226.9 149.8h.6M237.2 137.8h.6M228.4 130.2h.6M220.2 156.8h.6M244.6 157.8h.6M237.4 144.1h.6M226.2 154.2h.6M216.3 149.7h.6M237.2 128.6h.6M223.8 123.7h.6M238.9 127.5h.6M231.8 154.2h.6M233.7 157.9h.6M234.2 147.6h.6M223.1 145.2h.6M222.6 122.2h.6M233.7 126.9h.6M226.9 144.0h.6M236.1 126.9h.6M231.7 149.1h.6M244.9 155.2h.6" stroke="#333" stroke-width=".6" stroke-opacity=".34" fill="none"/>
<path d="M214.80 115.00H265.50V171.40" fill="none" stroke="#444" stroke-width=".65"/>
<path d="M214.80 115.00V171.40H265.50" fill="none" stroke="#1e1e1e" stroke-width=".95"/>
<line x1="240.70" y1="115.00" x2="240.70" y2="171.40" stroke="#2c2c2c" stroke-width="0.85"/>
<line x1="214.80" y1="124.00" x2="265.50" y2="124.00" stroke="#2c2c2c" stroke-width="0.85"/>
<line x1="213.00" y1="171.00" x2="214.80" y2="171.00" stroke="#333" stroke-width="0.5"/>
<text x="212.40" y="172.60" font-size="2.6" text-anchor="end" font-weight="normal" fill="#444" >10</text>
<text x="213.60" y="171.20" font-size="1.8" text-anchor="end" font-weight="normal" fill="#444" >0</text>
<line x1="213.00" y1="154.50" x2="214.80" y2="154.50" stroke="#333" stroke-width="0.5"/>
<text x="212.40" y="156.10" font-size="2.6" text-anchor="end" font-weight="normal" fill="#444" >10</text>
<text x="213.60" y="154.70" font-size="1.8" text-anchor="end" font-weight="normal" fill="#444" >1</text>
<line x1="213.00" y1="138.00" x2="214.80" y2="138.00" stroke="#333" stroke-width="0.5"/>
<text x="212.40" y="139.60" font-size="2.6" text-anchor="end" font-weight="normal" fill="#444" >10</text>
<text x="213.60" y="138.20" font-size="1.8" text-anchor="end" font-weight="normal" fill="#444" >2</text>
<line x1="213.00" y1="121.50" x2="214.80" y2="121.50" stroke="#333" stroke-width="0.5"/>
<text x="212.40" y="123.10" font-size="2.6" text-anchor="end" font-weight="normal" fill="#444" >10</text>
<text x="213.60" y="121.70" font-size="1.8" text-anchor="end" font-weight="normal" fill="#444" >3</text>
<line x1="226.46" y1="171.40" x2="226.46" y2="173.20" stroke="#333" stroke-width="0.5"/>
<text x="225.86" y="176.60" font-size="2.6" text-anchor="middle" font-weight="normal" fill="#444" >10</text>
<text x="227.96" y="175.20" font-size="1.8" text-anchor="middle" font-weight="normal" fill="#444" >1</text>
<line x1="256.88" y1="171.40" x2="256.88" y2="173.20" stroke="#333" stroke-width="0.5"/>
<text x="256.28" y="176.60" font-size="2.6" text-anchor="middle" font-weight="normal" fill="#444" >10</text>
<text x="258.38" y="175.20" font-size="1.8" text-anchor="middle" font-weight="normal" fill="#444" >2</text>
<rect x="213.40" y="170.20" width="1.60" height="2.60" fill="#222" stroke="none" stroke-width="0.7" />
<text x="216.10" y="119.00" font-size="4.0" text-anchor="start" font-weight="normal" fill="#333" >1.05%</text>
<text x="264.60" y="119.00" font-size="4.0" text-anchor="end" font-weight="normal" fill="#333" >0.96%</text>
<text x="215.70" y="169.90" font-size="4.0" text-anchor="start" font-weight="normal" fill="#333" >90.51%</text>
<text x="264.60" y="169.90" font-size="4.0" text-anchor="end" font-weight="normal" fill="#333" >7.48%</text>
<text x="240.65" y="182.80" font-size="4.2" text-anchor="middle" font-weight="normal" fill="#333" >FL1 (intensity)</text>
<text transform="translate(205.40 144.20) rotate(-90)" font-size="4.2" text-anchor="middle" font-weight="normal" fill="#333" letter-spacing="0">FL2 (intensity)</text>
<path d="M294.5 155.8h.6M286.1 159.1h.6M295.0 155.7h.6M288.4 159.1h.6M297.1 158.7h.6M293.7 152.3h.6M288.8 160.3h.6M290.2 157.8h.6M299.9 162.0h.6M294.6 154.1h.6M295.0 150.7h.6M291.3 151.4h.6M295.2 158.2h.6M298.3 156.9h.6M295.2 151.7h.6M298.5 161.7h.6M299.8 162.1h.6M291.8 162.0h.6M292.9 166.1h.6M291.8 155.8h.6M293.8 155.8h.6M295.8 153.1h.6M294.6 152.7h.6M300.4 157.9h.6M288.5 159.8h.6M290.9 157.1h.6M291.4 165.6h.6M298.5 148.6h.6M292.1 153.9h.6M288.8 162.5h.6M288.0 150.4h.6M293.9 154.4h.6M293.8 159.8h.6M294.8 154.1h.6M292.9 159.4h.6M285.0 158.8h.6M292.8 165.3h.6M294.3 152.3h.6M291.4 156.7h.6M291.5 153.5h.6M298.9 157.5h.6M288.4 165.7h.6M291.3 155.8h.6M292.6 156.5h.6M297.3 166.6h.6M286.6 160.2h.6M295.0 163.1h.6M294.6 166.0h.6M290.6 156.1h.6M291.8 160.4h.6M295.6 164.7h.6M293.2 160.3h.6M290.5 161.5h.6M298.1 158.2h.6M284.8 164.9h.6M293.2 153.9h.6M291.6 160.3h.6M296.7 162.4h.6M292.7 157.0h.6M291.4 158.9h.6M290.9 156.2h.6M290.3 152.2h.6M290.6 160.8h.6M296.5 159.9h.6M288.5 153.2h.6M301.4 167.3h.6M297.4 156.4h.6M287.9 157.0h.6M292.1 162.0h.6M293.1 153.7h.6M289.0 160.6h.6M297.5 161.7h.6M293.3 160.9h.6M287.5 157.5h.6M289.1 157.7h.6M291.9 154.7h.6M296.9 158.2h.6M299.4 158.8h.6M292.6 154.6h.6M290.9 160.8h.6M294.3 165.9h.6M296.2 155.9h.6M289.7 156.7h.6M298.6 163.5h.6M301.7 153.6h.6M293.8 160.5h.6M294.7 156.6h.6M293.0 156.1h.6M293.6 157.2h.6M301.2 162.9h.6M289.4 158.1h.6M301.2 157.2h.6M295.0 165.0h.6M290.5 161.6h.6M292.8 161.3h.6M292.9 161.7h.6M297.2 166.4h.6M290.1 162.2h.6M296.4 152.6h.6M299.8 167.1h.6M301.3 155.2h.6M290.2 165.4h.6M293.3 157.7h.6M289.3 163.0h.6M296.0 150.8h.6M297.8 158.0h.6M294.2 158.3h.6M294.5 156.8h.6M289.5 158.5h.6M299.4 161.1h.6M294.7 155.6h.6M294.2 165.7h.6M293.2 158.4h.6M290.5 167.9h.6M293.4 161.9h.6M285.7 161.2h.6M295.5 154.6h.6M293.5 157.6h.6M302.6 156.7h.6M292.6 151.1h.6M310.6 157.7h.6M296.5 156.2h.6M298.3 155.5h.6M293.2 163.2h.6M291.9 149.1h.6M288.4 153.4h.6M292.1 152.3h.6M295.4 153.9h.6M300.3 151.7h.6M290.6 152.5h.6M289.6 155.9h.6M286.7 144.4h.6M307.6 138.0h.6M285.8 156.5h.6M291.6 158.7h.6M307.9 158.1h.6M290.7 162.6h.6M294.3 165.3h.6M288.6 154.1h.6M294.8 154.2h.6M309.7 163.0h.6M302.5 157.6h.6M294.5 152.3h.6M300.4 152.0h.6M303.8 152.2h.6M286.2 149.0h.6M303.5 158.5h.6M323.9 138.1h.6M322.7 148.0h.6M320.3 149.6h.6M297.5 154.4h.6M306.7 152.7h.6M318.8 141.3h.6M329.2 143.7h.6M302.0 151.0h.6M328.0 144.5h.6M327.0 137.7h.6M310.2 148.1h.6M322.6 151.4h.6M303.9 152.4h.6M299.7 164.7h.6M323.2 149.7h.6M317.4 152.6h.6M315.7 155.3h.6M321.7 148.6h.6M318.8 147.3h.6M316.9 147.1h.6M296.7 153.7h.6M301.9 156.8h.6M323.0 147.7h.6M314.1 146.9h.6M300.6 154.5h.6M313.1 147.7h.6M314.5 143.5h.6M322.7 138.9h.6M300.8 149.8h.6M324.7 145.8h.6M324.4 146.8h.6M323.3 139.1h.6M295.6 153.9h.6M304.1 154.1h.6M327.8 133.3h.6M322.0 148.7h.6M332.8 140.5h.6M303.1 157.2h.6M324.4 149.3h.6M313.0 150.8h.6M313.3 151.3h.6M297.7 159.0h.6M292.8 155.9h.6M320.7 150.5h.6M299.2 156.4h.6M316.8 150.4h.6M302.0 153.9h.6M321.5 141.4h.6M314.4 152.8h.6M325.0 147.9h.6M299.5 155.0h.6M311.2 143.3h.6M312.0 152.5h.6M323.3 140.0h.6M318.0 136.8h.6M328.3 134.2h.6M301.1 160.7h.6M320.9 141.8h.6M311.1 155.9h.6M297.6 155.5h.6M308.8 145.3h.6M324.8 149.2h.6M324.9 141.9h.6M323.4 141.7h.6M319.7 146.1h.6M323.4 141.6h.6M298.6 155.9h.6M324.2 145.9h.6M304.2 150.5h.6M325.0 143.3h.6M316.0 155.6h.6M293.1 159.5h.6M298.3 168.4h.6M320.2 146.2h.6M330.6 137.0h.6M311.8 146.6h.6M320.0 146.0h.6M327.2 137.8h.6M324.8 146.3h.6M319.5 146.3h.6M321.6 135.5h.6M304.3 144.8h.6M324.7 135.2h.6M317.0 145.1h.6M322.9 146.5h.6M296.1 159.7h.6M327.6 148.6h.6M299.2 162.2h.6M298.6 153.6h.6M327.2 146.4h.6M308.9 151.5h.6M327.6 147.0h.6M323.5 142.7h.6M297.7 152.9h.6M307.6 149.9h.6M313.7 153.1h.6M297.8 157.8h.6M302.8 151.1h.6M328.6 147.3h.6M319.5 140.3h.6M304.9 147.2h.6M316.2 149.1h.6M308.9 151.8h.6M306.2 151.8h.6M324.3 140.3h.6M300.9 153.3h.6M325.0 153.1h.6M328.1 147.9h.6M323.7 152.2h.6M317.3 145.8h.6M304.6 152.6h.6M307.5 155.8h.6M302.1 150.7h.6M330.9 138.4h.6M299.9 158.8h.6M311.6 149.7h.6M318.6 152.1h.6M302.6 154.8h.6M326.2 144.7h.6M304.9 147.6h.6M322.4 142.0h.6M317.5 148.3h.6M317.6 153.2h.6M299.9 155.3h.6M303.1 149.8h.6M300.9 160.3h.6M322.1 136.2h.6M321.1 138.3h.6M290.2 124.8h.6M292.3 127.8h.6M299.8 134.0h.6M298.7 130.1h.6M285.4 129.1h.6M292.1 154.3h.6M299.2 142.0h.6M293.2 126.2h.6M301.4 126.5h.6M298.9 118.6h.6M309.0 153.1h.6M299.0 153.0h.6M298.3 152.8h.6M297.7 133.4h.6M291.1 139.6h.6M305.6 131.5h.6" stroke="#333" stroke-width=".6" stroke-opacity=".34" fill="none"/>
<path d="M283.40 116.30H334.00V172.50" fill="none" stroke="#444" stroke-width=".65"/>
<path d="M283.40 116.30V172.50H334.00" fill="none" stroke="#1e1e1e" stroke-width=".95"/>
<line x1="307.20" y1="116.30" x2="307.20" y2="172.50" stroke="#2c2c2c" stroke-width="0.85"/>
<line x1="283.40" y1="127.10" x2="330.80" y2="127.10" stroke="#2c2c2c" stroke-width="0.85"/>
<line x1="281.60" y1="172.10" x2="283.40" y2="172.10" stroke="#333" stroke-width="0.5"/>
<text x="281.00" y="173.70" font-size="2.6" text-anchor="end" font-weight="normal" fill="#444" >10</text>
<text x="282.20" y="172.30" font-size="1.8" text-anchor="end" font-weight="normal" fill="#444" >0</text>
<line x1="281.60" y1="155.60" x2="283.40" y2="155.60" stroke="#333" stroke-width="0.5"/>
<text x="281.00" y="157.20" font-size="2.6" text-anchor="end" font-weight="normal" fill="#444" >10</text>
<text x="282.20" y="155.80" font-size="1.8" text-anchor="end" font-weight="normal" fill="#444" >1</text>
<line x1="281.60" y1="139.10" x2="283.40" y2="139.10" stroke="#333" stroke-width="0.5"/>
<text x="281.00" y="140.70" font-size="2.6" text-anchor="end" font-weight="normal" fill="#444" >10</text>
<text x="282.20" y="139.30" font-size="1.8" text-anchor="end" font-weight="normal" fill="#444" >2</text>
<line x1="281.60" y1="122.60" x2="283.40" y2="122.60" stroke="#333" stroke-width="0.5"/>
<text x="281.00" y="124.20" font-size="2.6" text-anchor="end" font-weight="normal" fill="#444" >10</text>
<text x="282.20" y="122.80" font-size="1.8" text-anchor="end" font-weight="normal" fill="#444" >3</text>
<line x1="295.04" y1="172.50" x2="295.04" y2="174.30" stroke="#333" stroke-width="0.5"/>
<text x="294.44" y="177.70" font-size="2.6" text-anchor="middle" font-weight="normal" fill="#444" >10</text>
<text x="296.54" y="176.30" font-size="1.8" text-anchor="middle" font-weight="normal" fill="#444" >1</text>
<line x1="325.40" y1="172.50" x2="325.40" y2="174.30" stroke="#333" stroke-width="0.5"/>
<text x="324.80" y="177.70" font-size="2.6" text-anchor="middle" font-weight="normal" fill="#444" >10</text>
<text x="326.90" y="176.30" font-size="1.8" text-anchor="middle" font-weight="normal" fill="#444" >2</text>
<rect x="282.00" y="171.30" width="1.60" height="2.60" fill="#222" stroke="none" stroke-width="0.7" />
<text x="284.70" y="120.30" font-size="4.0" text-anchor="start" font-weight="normal" fill="#333" >3.60%</text>
<text x="333.10" y="120.30" font-size="4.0" text-anchor="end" font-weight="normal" fill="#333" >8.67%</text>
<text x="284.30" y="171.00" font-size="4.0" text-anchor="start" font-weight="normal" fill="#333" >61.48%</text>
<text x="333.10" y="171.00" font-size="4.0" text-anchor="end" font-weight="normal" fill="#333" >26.25%</text>
<text x="309.20" y="183.90" font-size="4.2" text-anchor="middle" font-weight="normal" fill="#333" >FL1 (intensity)</text>
<text transform="translate(274.00 145.40) rotate(-90)" font-size="4.2" text-anchor="middle" font-weight="normal" fill="#333" letter-spacing="0">FL2 (intensity)</text>
<line x1="374.00" y1="83.29" x2="374.00" y2="82.72" stroke="#4a4a4a" stroke-width="0.7"/>
<line x1="371.70" y1="82.72" x2="376.30" y2="82.72" stroke="#4a4a4a" stroke-width="0.75"/>
<rect x="369.35" y="83.74" width="9.30" height="5.66" fill="#080808" stroke="#0a0a0a" stroke-width="1.05" />
<line x1="389.15" y1="81.96" x2="389.15" y2="81.39" stroke="#4a4a4a" stroke-width="0.7"/>
<line x1="386.85" y1="81.39" x2="391.45" y2="81.39" stroke="#4a4a4a" stroke-width="0.75"/>
<rect x="384.45" y="82.41" width="9.40" height="6.99" fill="#a2a2a5" stroke="#0a0a0a" stroke-width="1.05" />
<line x1="404.20" y1="67.08" x2="404.20" y2="64.21" stroke="#4a4a4a" stroke-width="0.7"/>
<line x1="401.90" y1="64.21" x2="406.50" y2="64.21" stroke="#4a4a4a" stroke-width="0.75"/>
<rect x="399.55" y="67.53" width="9.30" height="21.87" fill="#818181" stroke="#0a0a0a" stroke-width="1.05" />
<text x="404.20" y="64.61" font-size="8.8" text-anchor="middle" font-weight="bold" fill="#161616" letter-spacing="0.2" stroke="#161616" stroke-width="0.25">**</text>
<line x1="419.20" y1="49.33" x2="419.20" y2="48.66" stroke="#4a4a4a" stroke-width="0.7"/>
<line x1="416.90" y1="48.66" x2="421.50" y2="48.66" stroke="#4a4a4a" stroke-width="0.75"/>
<rect x="414.45" y="49.78" width="9.50" height="39.62" fill="#d8d8d8" stroke="#0a0a0a" stroke-width="1.05" />
<text x="419.20" y="49.06" font-size="8.8" text-anchor="middle" font-weight="bold" fill="#161616" letter-spacing="0.2" stroke="#161616" stroke-width="0.25">**</text>
<line x1="365.00" y1="41.20" x2="365.00" y2="89.90" stroke="#111" stroke-width="1.05"/>
<line x1="364.80" y1="89.60" x2="428.00" y2="89.60" stroke="#111" stroke-width="1.1"/>
<line x1="362.20" y1="41.70" x2="365.00" y2="41.70" stroke="#111" stroke-width="0.9"/>
<text x="360.80" y="44.11" font-size="6.7" text-anchor="end" font-weight="bold" fill="#111" letter-spacing="0.1" stroke="#111" stroke-width="0.107">25</text>
<line x1="362.20" y1="51.24" x2="365.00" y2="51.24" stroke="#111" stroke-width="0.9"/>
<text x="360.80" y="53.65" font-size="6.7" text-anchor="end" font-weight="bold" fill="#111" letter-spacing="0.1" stroke="#111" stroke-width="0.107">20</text>
<line x1="362.20" y1="60.78" x2="365.00" y2="60.78" stroke="#111" stroke-width="0.9"/>
<text x="360.80" y="63.19" font-size="6.7" text-anchor="end" font-weight="bold" fill="#111" letter-spacing="0.1" stroke="#111" stroke-width="0.107">15</text>
<line x1="362.20" y1="70.32" x2="365.00" y2="70.32" stroke="#111" stroke-width="0.9"/>
<text x="360.80" y="72.73" font-size="6.7" text-anchor="end" font-weight="bold" fill="#111" letter-spacing="0.1" stroke="#111" stroke-width="0.107">10</text>
<line x1="362.20" y1="79.86" x2="365.00" y2="79.86" stroke="#111" stroke-width="0.9"/>
<text x="360.80" y="82.27" font-size="6.7" text-anchor="end" font-weight="bold" fill="#111" letter-spacing="0.1" stroke="#111" stroke-width="0.107">5</text>
<line x1="362.20" y1="89.40" x2="365.00" y2="89.40" stroke="#111" stroke-width="0.9"/>
<text x="360.80" y="91.81" font-size="6.7" text-anchor="end" font-weight="bold" fill="#111" letter-spacing="0.1" stroke="#111" stroke-width="0.107">0</text>
<line x1="374.00" y1="89.40" x2="374.00" y2="91.80" stroke="#111" stroke-width="0.9"/>
<text x="374.00" y="99.42" font-size="7.0" text-anchor="middle" font-weight="bold" fill="#111"  stroke="#111" stroke-width="0.112">C</text>
<line x1="389.15" y1="89.40" x2="389.15" y2="91.80" stroke="#111" stroke-width="0.9"/>
<text x="389.15" y="99.42" font-size="7.0" text-anchor="middle" font-weight="bold" fill="#111"  stroke="#111" stroke-width="0.112">0.5</text>
<line x1="404.20" y1="89.40" x2="404.20" y2="91.80" stroke="#111" stroke-width="0.9"/>
<text x="404.20" y="99.42" font-size="7.0" text-anchor="middle" font-weight="bold" fill="#111"  stroke="#111" stroke-width="0.112">5</text>
<line x1="419.20" y1="89.40" x2="419.20" y2="91.80" stroke="#111" stroke-width="0.9"/>
<text x="419.20" y="99.42" font-size="7.0" text-anchor="middle" font-weight="bold" fill="#111"  stroke="#111" stroke-width="0.112">25</text>
<text x="396.70" y="110.98" font-size="6.6" text-anchor="middle" font-weight="bold" fill="#111" stroke="#111" stroke-width="0.12">RO3306  <tspan font-size="6.60">(µM)</tspan></text>
<text transform="translate(342.00 64.20) rotate(-90)" font-size="6.75" text-anchor="middle" font-weight="bold" fill="#111" letter-spacing="0.36">Annexin V</text>
<text transform="translate(349.60 64.20) rotate(-90)" font-size="6.75" text-anchor="middle" font-weight="bold" fill="#111" letter-spacing="0.36">Expression(%)</text>
<line x1="373.85" y1="162.72" x2="373.85" y2="161.20" stroke="#4a4a4a" stroke-width="0.7"/>
<line x1="371.55" y1="161.20" x2="376.15" y2="161.20" stroke="#4a4a4a" stroke-width="0.75"/>
<rect x="369.15" y="163.17" width="9.40" height="6.23" fill="#080808" stroke="#0a0a0a" stroke-width="1.05" />
<line x1="389.15" y1="162.91" x2="389.15" y2="162.44" stroke="#4a4a4a" stroke-width="0.7"/>
<line x1="386.85" y1="162.44" x2="391.45" y2="162.44" stroke="#4a4a4a" stroke-width="0.75"/>
<rect x="384.45" y="163.36" width="9.40" height="6.04" fill="#a2a2a5" stroke="#0a0a0a" stroke-width="1.05" />
<line x1="404.00" y1="157.00" x2="404.00" y2="156.43" stroke="#4a4a4a" stroke-width="0.7"/>
<line x1="401.70" y1="156.43" x2="406.30" y2="156.43" stroke="#4a4a4a" stroke-width="0.75"/>
<rect x="399.35" y="157.45" width="9.30" height="11.95" fill="#818181" stroke="#0a0a0a" stroke-width="1.05" />
<text x="404.00" y="156.83" font-size="8.8" text-anchor="middle" font-weight="bold" fill="#161616" letter-spacing="0.2" stroke="#161616" stroke-width="0.25">*</text>
<line x1="418.85" y1="130.67" x2="418.85" y2="130.10" stroke="#4a4a4a" stroke-width="0.7"/>
<line x1="416.55" y1="130.10" x2="421.15" y2="130.10" stroke="#4a4a4a" stroke-width="0.75"/>
<rect x="414.15" y="131.12" width="9.40" height="38.28" fill="#d8d8d8" stroke="#0a0a0a" stroke-width="1.05" />
<text x="418.85" y="130.50" font-size="8.8" text-anchor="middle" font-weight="bold" fill="#161616" letter-spacing="0.2" stroke="#161616" stroke-width="0.25">**</text>
<line x1="365.00" y1="121.20" x2="365.00" y2="169.90" stroke="#111" stroke-width="1.05"/>
<line x1="364.80" y1="169.60" x2="428.00" y2="169.60" stroke="#111" stroke-width="1.1"/>
<line x1="362.20" y1="121.70" x2="365.00" y2="121.70" stroke="#111" stroke-width="0.9"/>
<text x="360.80" y="124.11" font-size="6.7" text-anchor="end" font-weight="bold" fill="#111" letter-spacing="0.1" stroke="#111" stroke-width="0.107">25</text>
<line x1="362.20" y1="131.24" x2="365.00" y2="131.24" stroke="#111" stroke-width="0.9"/>
<text x="360.80" y="133.65" font-size="6.7" text-anchor="end" font-weight="bold" fill="#111" letter-spacing="0.1" stroke="#111" stroke-width="0.107">20</text>
<line x1="362.20" y1="140.78" x2="365.00" y2="140.78" stroke="#111" stroke-width="0.9"/>
<text x="360.80" y="143.19" font-size="6.7" text-anchor="end" font-weight="bold" fill="#111" letter-spacing="0.1" stroke="#111" stroke-width="0.107">15</text>
<line x1="362.20" y1="150.32" x2="365.00" y2="150.32" stroke="#111" stroke-width="0.9"/>
<text x="360.80" y="152.73" font-size="6.7" text-anchor="end" font-weight="bold" fill="#111" letter-spacing="0.1" stroke="#111" stroke-width="0.107">10</text>
<line x1="362.20" y1="159.86" x2="365.00" y2="159.86" stroke="#111" stroke-width="0.9"/>
<text x="360.80" y="162.27" font-size="6.7" text-anchor="end" font-weight="bold" fill="#111" letter-spacing="0.1" stroke="#111" stroke-width="0.107">5</text>
<line x1="362.20" y1="169.40" x2="365.00" y2="169.40" stroke="#111" stroke-width="0.9"/>
<text x="360.80" y="171.81" font-size="6.7" text-anchor="end" font-weight="bold" fill="#111" letter-spacing="0.1" stroke="#111" stroke-width="0.107">0</text>
<line x1="373.85" y1="169.40" x2="373.85" y2="171.80" stroke="#111" stroke-width="0.9"/>
<text x="373.85" y="179.42" font-size="7.0" text-anchor="middle" font-weight="bold" fill="#111"  stroke="#111" stroke-width="0.112">C</text>
<line x1="389.15" y1="169.40" x2="389.15" y2="171.80" stroke="#111" stroke-width="0.9"/>
<text x="389.15" y="179.42" font-size="7.0" text-anchor="middle" font-weight="bold" fill="#111"  stroke="#111" stroke-width="0.112">0.5</text>
<line x1="404.00" y1="169.40" x2="404.00" y2="171.80" stroke="#111" stroke-width="0.9"/>
<text x="404.00" y="179.42" font-size="7.0" text-anchor="middle" font-weight="bold" fill="#111"  stroke="#111" stroke-width="0.112">5</text>
<line x1="418.85" y1="169.40" x2="418.85" y2="171.80" stroke="#111" stroke-width="0.9"/>
<text x="418.85" y="179.42" font-size="7.0" text-anchor="middle" font-weight="bold" fill="#111"  stroke="#111" stroke-width="0.112">25</text>
<text x="396.70" y="190.98" font-size="6.6" text-anchor="middle" font-weight="bold" fill="#111" stroke="#111" stroke-width="0.12">RO3306  <tspan font-size="6.60">(µM)</tspan></text>
<text transform="translate(342.00 144.20) rotate(-90)" font-size="6.75" text-anchor="middle" font-weight="bold" fill="#111" letter-spacing="0.36">Annexin V</text>
<text transform="translate(349.60 144.20) rotate(-90)" font-size="6.75" text-anchor="middle" font-weight="bold" fill="#111" letter-spacing="0.36">Expression(%)</text>
<text x="81.10" y="224.30" font-size="8.7" text-anchor="middle" font-weight="bold" fill="#111"  stroke="#111" stroke-width="0.139">OVCAR5</text>
<rect x="55.15" y="277.79" width="9.20" height="25.31" fill="#080808" stroke="#0a0a0a" stroke-width="1.05" />
<line x1="74.40" y1="276.31" x2="74.40" y2="274.51" stroke="#4a4a4a" stroke-width="0.7"/>
<line x1="72.10" y1="274.51" x2="76.70" y2="274.51" stroke="#4a4a4a" stroke-width="0.75"/>
<rect x="69.75" y="276.76" width="9.30" height="26.34" fill="#a2a2a5" stroke="#0a0a0a" stroke-width="1.05" />
<line x1="88.95" y1="254.93" x2="88.95" y2="253.64" stroke="#4a4a4a" stroke-width="0.7"/>
<line x1="86.65" y1="253.64" x2="91.25" y2="253.64" stroke="#4a4a4a" stroke-width="0.75"/>
<rect x="84.45" y="255.38" width="9.00" height="47.72" fill="#818181" stroke="#0a0a0a" stroke-width="1.05" />
<text x="88.95" y="254.04" font-size="8.8" text-anchor="middle" font-weight="bold" fill="#161616" letter-spacing="0.2" stroke="#161616" stroke-width="0.25">**</text>
<line x1="103.60" y1="243.85" x2="103.60" y2="241.53" stroke="#4a4a4a" stroke-width="0.7"/>
<line x1="101.30" y1="241.53" x2="105.90" y2="241.53" stroke="#4a4a4a" stroke-width="0.75"/>
<rect x="99.15" y="244.30" width="8.90" height="58.80" fill="#d8d8d8" stroke="#0a0a0a" stroke-width="1.05" />
<text x="103.60" y="241.93" font-size="8.8" text-anchor="middle" font-weight="bold" fill="#161616" letter-spacing="0.2" stroke="#161616" stroke-width="0.25">**</text>
<line x1="50.90" y1="238.20" x2="50.90" y2="303.60" stroke="#111" stroke-width="1.05"/>
<line x1="50.70" y1="303.30" x2="114.70" y2="303.30" stroke="#111" stroke-width="1.1"/>
<line x1="48.10" y1="238.70" x2="50.90" y2="238.70" stroke="#111" stroke-width="0.9"/>
<text x="46.70" y="241.22" font-size="7.0" text-anchor="end" font-weight="bold" fill="#111" letter-spacing="0.1" stroke="#111" stroke-width="0.112">2.5</text>
<line x1="48.10" y1="251.58" x2="50.90" y2="251.58" stroke="#111" stroke-width="0.9"/>
<text x="46.70" y="254.10" font-size="7.0" text-anchor="end" font-weight="bold" fill="#111" letter-spacing="0.1" stroke="#111" stroke-width="0.112">2.0</text>
<line x1="48.10" y1="264.46" x2="50.90" y2="264.46" stroke="#111" stroke-width="0.9"/>
<text x="46.70" y="266.98" font-size="7.0" text-anchor="end" font-weight="bold" fill="#111" letter-spacing="0.1" stroke="#111" stroke-width="0.112">1.5</text>
<line x1="48.10" y1="277.34" x2="50.90" y2="277.34" stroke="#111" stroke-width="0.9"/>
<text x="46.70" y="279.86" font-size="7.0" text-anchor="end" font-weight="bold" fill="#111" letter-spacing="0.1" stroke="#111" stroke-width="0.112">1.0</text>
<line x1="48.10" y1="290.22" x2="50.90" y2="290.22" stroke="#111" stroke-width="0.9"/>
<text x="46.70" y="292.74" font-size="7.0" text-anchor="end" font-weight="bold" fill="#111" letter-spacing="0.1" stroke="#111" stroke-width="0.112">0.5</text>
<line x1="48.10" y1="303.10" x2="50.90" y2="303.10" stroke="#111" stroke-width="0.9"/>
<text x="46.70" y="305.62" font-size="7.0" text-anchor="end" font-weight="bold" fill="#111" letter-spacing="0.1" stroke="#111" stroke-width="0.112">0.0</text>
<line x1="59.75" y1="303.10" x2="59.75" y2="305.50" stroke="#111" stroke-width="0.9"/>
<text x="59.75" y="312.94" font-size="7.6" text-anchor="middle" font-weight="bold" fill="#111"  stroke="#111" stroke-width="0.122">C</text>
<line x1="74.40" y1="303.10" x2="74.40" y2="305.50" stroke="#111" stroke-width="0.9"/>
<text x="74.40" y="312.94" font-size="7.6" text-anchor="middle" font-weight="bold" fill="#111"  stroke="#111" stroke-width="0.122">0.5</text>
<line x1="88.95" y1="303.10" x2="88.95" y2="305.50" stroke="#111" stroke-width="0.9"/>
<text x="88.95" y="312.94" font-size="7.6" text-anchor="middle" font-weight="bold" fill="#111"  stroke="#111" stroke-width="0.122">5</text>
<line x1="103.60" y1="303.10" x2="103.60" y2="305.50" stroke="#111" stroke-width="0.9"/>
<text x="103.60" y="312.94" font-size="7.6" text-anchor="middle" font-weight="bold" fill="#111"  stroke="#111" stroke-width="0.122">25</text>
<text x="82.00" y="325.22" font-size="5.9" text-anchor="middle" font-weight="bold" fill="#111" stroke="#111" stroke-width="0.12">RO3306  <tspan font-size="5.90">(µM)</tspan></text>
<text transform="translate(32.75 269.20) rotate(-90)" font-size="7.35" text-anchor="middle" font-weight="bold" fill="#111" letter-spacing="0.05">Relative Caspase-3 level</text>
<text x="179.00" y="224.30" font-size="8.65" text-anchor="middle" font-weight="bold" fill="#111"  stroke="#111" stroke-width="0.138">SKOV3</text>
<rect x="151.25" y="277.79" width="9.00" height="25.31" fill="#080808" stroke="#0a0a0a" stroke-width="1.05" />
<line x1="170.25" y1="278.37" x2="170.25" y2="277.34" stroke="#4a4a4a" stroke-width="0.7"/>
<line x1="167.95" y1="277.34" x2="172.55" y2="277.34" stroke="#4a4a4a" stroke-width="0.75"/>
<rect x="165.65" y="278.82" width="9.20" height="24.28" fill="#a2a2a5" stroke="#0a0a0a" stroke-width="1.05" />
<line x1="184.75" y1="260.85" x2="184.75" y2="256.47" stroke="#4a4a4a" stroke-width="0.7"/>
<line x1="182.45" y1="256.47" x2="187.05" y2="256.47" stroke="#4a4a4a" stroke-width="0.75"/>
<rect x="180.35" y="261.30" width="8.80" height="41.80" fill="#818181" stroke="#0a0a0a" stroke-width="1.05" />
<text x="184.75" y="256.87" font-size="8.8" text-anchor="middle" font-weight="bold" fill="#161616" letter-spacing="0.2" stroke="#161616" stroke-width="0.25">**</text>
<line x1="199.35" y1="247.20" x2="199.35" y2="241.28" stroke="#4a4a4a" stroke-width="0.7"/>
<line x1="197.05" y1="241.28" x2="201.65" y2="241.28" stroke="#4a4a4a" stroke-width="0.75"/>
<rect x="194.95" y="247.65" width="8.80" height="55.45" fill="#d8d8d8" stroke="#0a0a0a" stroke-width="1.05" />
<text x="199.35" y="241.68" font-size="8.8" text-anchor="middle" font-weight="bold" fill="#161616" letter-spacing="0.2" stroke="#161616" stroke-width="0.25">**</text>
<line x1="146.60" y1="238.20" x2="146.60" y2="303.60" stroke="#111" stroke-width="1.05"/>
<line x1="146.40" y1="303.30" x2="210.00" y2="303.30" stroke="#111" stroke-width="1.1"/>
<line x1="143.80" y1="238.70" x2="146.60" y2="238.70" stroke="#111" stroke-width="0.9"/>
<text x="142.40" y="241.22" font-size="7.0" text-anchor="end" font-weight="bold" fill="#111" letter-spacing="0.1" stroke="#111" stroke-width="0.112">2.5</text>
<line x1="143.80" y1="251.58" x2="146.60" y2="251.58" stroke="#111" stroke-width="0.9"/>
<text x="142.40" y="254.10" font-size="7.0" text-anchor="end" font-weight="bold" fill="#111" letter-spacing="0.1" stroke="#111" stroke-width="0.112">2.0</text>
<line x1="143.80" y1="264.46" x2="146.60" y2="264.46" stroke="#111" stroke-width="0.9"/>
<text x="142.40" y="266.98" font-size="7.0" text-anchor="end" font-weight="bold" fill="#111" letter-spacing="0.1" stroke="#111" stroke-width="0.112">1.5</text>
<line x1="143.80" y1="277.34" x2="146.60" y2="277.34" stroke="#111" stroke-width="0.9"/>
<text x="142.40" y="279.86" font-size="7.0" text-anchor="end" font-weight="bold" fill="#111" letter-spacing="0.1" stroke="#111" stroke-width="0.112">1.0</text>
<line x1="143.80" y1="290.22" x2="146.60" y2="290.22" stroke="#111" stroke-width="0.9"/>
<text x="142.40" y="292.74" font-size="7.0" text-anchor="end" font-weight="bold" fill="#111" letter-spacing="0.1" stroke="#111" stroke-width="0.112">0.5</text>
<line x1="143.80" y1="303.10" x2="146.60" y2="303.10" stroke="#111" stroke-width="0.9"/>
<text x="142.40" y="305.62" font-size="7.0" text-anchor="end" font-weight="bold" fill="#111" letter-spacing="0.1" stroke="#111" stroke-width="0.112">0.0</text>
<line x1="155.75" y1="303.10" x2="155.75" y2="305.50" stroke="#111" stroke-width="0.9"/>
<text x="155.75" y="312.94" font-size="7.6" text-anchor="middle" font-weight="bold" fill="#111"  stroke="#111" stroke-width="0.122">C</text>
<line x1="170.25" y1="303.10" x2="170.25" y2="305.50" stroke="#111" stroke-width="0.9"/>
<text x="170.25" y="312.94" font-size="7.6" text-anchor="middle" font-weight="bold" fill="#111"  stroke="#111" stroke-width="0.122">0.5</text>
<line x1="184.75" y1="303.10" x2="184.75" y2="305.50" stroke="#111" stroke-width="0.9"/>
<text x="184.75" y="312.94" font-size="7.6" text-anchor="middle" font-weight="bold" fill="#111"  stroke="#111" stroke-width="0.122">5</text>
<line x1="199.35" y1="303.10" x2="199.35" y2="305.50" stroke="#111" stroke-width="0.9"/>
<text x="199.35" y="312.94" font-size="7.6" text-anchor="middle" font-weight="bold" fill="#111"  stroke="#111" stroke-width="0.122">25</text>
<text x="177.40" y="325.22" font-size="5.9" text-anchor="middle" font-weight="bold" fill="#111" stroke="#111" stroke-width="0.12">RO3306  <tspan font-size="5.90">(µM)</tspan></text>
<text transform="translate(129.45 270.00) rotate(-90)" font-size="7.35" text-anchor="middle" font-weight="bold" fill="#111" letter-spacing="0.05">Relative Caspase-3 level</text>
<text x="289.50" y="223.80" font-size="8.7" text-anchor="middle" font-weight="bold" fill="#111"  stroke="#111" stroke-width="0.139">OVCAR5</text>
<rect x="262.15" y="264.64" width="9.20" height="39.86" fill="#080808" stroke="#0a0a0a" stroke-width="1.05" />
<line x1="281.40" y1="263.38" x2="281.40" y2="261.37" stroke="#4a4a4a" stroke-width="0.7"/>
<line x1="279.10" y1="261.37" x2="283.70" y2="261.37" stroke="#4a4a4a" stroke-width="0.75"/>
<rect x="276.75" y="263.83" width="9.30" height="40.67" fill="#a2a2a5" stroke="#0a0a0a" stroke-width="1.05" />
<line x1="295.95" y1="259.35" x2="295.95" y2="255.72" stroke="#4a4a4a" stroke-width="0.7"/>
<line x1="293.65" y1="255.72" x2="298.25" y2="255.72" stroke="#4a4a4a" stroke-width="0.75"/>
<rect x="291.45" y="259.80" width="9.00" height="44.70" fill="#818181" stroke="#0a0a0a" stroke-width="1.05" />
<text x="295.95" y="256.12" font-size="8.8" text-anchor="middle" font-weight="bold" fill="#161616" letter-spacing="0.2" stroke="#161616" stroke-width="0.25">*</text>
<line x1="310.75" y1="250.88" x2="310.75" y2="242.42" stroke="#4a4a4a" stroke-width="0.7"/>
<line x1="308.45" y1="242.42" x2="313.05" y2="242.42" stroke="#4a4a4a" stroke-width="0.75"/>
<rect x="306.15" y="251.33" width="9.20" height="53.17" fill="#d8d8d8" stroke="#0a0a0a" stroke-width="1.05" />
<text x="310.75" y="242.82" font-size="8.8" text-anchor="middle" font-weight="bold" fill="#161616" letter-spacing="0.2" stroke="#161616" stroke-width="0.25">*</text>
<line x1="258.10" y1="239.50" x2="258.10" y2="305.00" stroke="#111" stroke-width="1.05"/>
<line x1="257.90" y1="304.70" x2="321.70" y2="304.70" stroke="#111" stroke-width="1.1"/>
<line x1="255.30" y1="240.00" x2="258.10" y2="240.00" stroke="#111" stroke-width="0.9"/>
<text x="253.90" y="242.59" font-size="7.2" text-anchor="end" font-weight="bold" fill="#111" letter-spacing="0.1" stroke="#111" stroke-width="0.115">1.6</text>
<line x1="255.30" y1="256.12" x2="258.10" y2="256.12" stroke="#111" stroke-width="0.9"/>
<text x="253.90" y="258.72" font-size="7.2" text-anchor="end" font-weight="bold" fill="#111" letter-spacing="0.1" stroke="#111" stroke-width="0.115">1.2</text>
<line x1="255.30" y1="272.25" x2="258.10" y2="272.25" stroke="#111" stroke-width="0.9"/>
<text x="253.90" y="274.84" font-size="7.2" text-anchor="end" font-weight="bold" fill="#111" letter-spacing="0.1" stroke="#111" stroke-width="0.115">0.8</text>
<line x1="255.30" y1="288.38" x2="258.10" y2="288.38" stroke="#111" stroke-width="0.9"/>
<text x="253.90" y="290.97" font-size="7.2" text-anchor="end" font-weight="bold" fill="#111" letter-spacing="0.1" stroke="#111" stroke-width="0.115">0.4</text>
<line x1="255.30" y1="304.50" x2="258.10" y2="304.50" stroke="#111" stroke-width="0.9"/>
<text x="253.90" y="307.09" font-size="7.2" text-anchor="end" font-weight="bold" fill="#111" letter-spacing="0.1" stroke="#111" stroke-width="0.115">0.0</text>
<line x1="266.75" y1="304.50" x2="266.75" y2="306.90" stroke="#111" stroke-width="0.9"/>
<text x="266.75" y="314.54" font-size="7.6" text-anchor="middle" font-weight="bold" fill="#111"  stroke="#111" stroke-width="0.122">C</text>
<line x1="281.40" y1="304.50" x2="281.40" y2="306.90" stroke="#111" stroke-width="0.9"/>
<text x="281.40" y="314.54" font-size="7.6" text-anchor="middle" font-weight="bold" fill="#111"  stroke="#111" stroke-width="0.122">0.5</text>
<line x1="295.95" y1="304.50" x2="295.95" y2="306.90" stroke="#111" stroke-width="0.9"/>
<text x="295.95" y="314.54" font-size="7.6" text-anchor="middle" font-weight="bold" fill="#111"  stroke="#111" stroke-width="0.122">5</text>
<line x1="310.75" y1="304.50" x2="310.75" y2="306.90" stroke="#111" stroke-width="0.9"/>
<text x="310.75" y="314.54" font-size="7.6" text-anchor="middle" font-weight="bold" fill="#111"  stroke="#111" stroke-width="0.122">25</text>
<text x="289.00" y="325.72" font-size="5.9" text-anchor="middle" font-weight="bold" fill="#111" stroke="#111" stroke-width="0.12">RO3306  <tspan font-size="5.90">(µM)</tspan></text>
<text transform="translate(241.35 270.40) rotate(-90)" font-size="7.35" text-anchor="middle" font-weight="bold" fill="#111" letter-spacing="0.05">Relative Caspase-8 level</text>
<text x="387.80" y="223.80" font-size="8.9" text-anchor="middle" font-weight="bold" fill="#111"  stroke="#111" stroke-width="0.142">SKOV3</text>
<rect x="359.55" y="264.64" width="9.00" height="39.86" fill="#080808" stroke="#0a0a0a" stroke-width="1.05" />
<line x1="378.35" y1="261.37" x2="378.35" y2="258.95" stroke="#4a4a4a" stroke-width="0.7"/>
<line x1="376.05" y1="258.95" x2="380.65" y2="258.95" stroke="#4a4a4a" stroke-width="0.75"/>
<rect x="373.95" y="261.82" width="8.80" height="42.68" fill="#a2a2a5" stroke="#0a0a0a" stroke-width="1.05" />
<line x1="393.05" y1="256.53" x2="393.05" y2="253.71" stroke="#4a4a4a" stroke-width="0.7"/>
<line x1="390.75" y1="253.71" x2="395.35" y2="253.71" stroke="#4a4a4a" stroke-width="0.75"/>
<rect x="388.65" y="256.98" width="8.80" height="47.52" fill="#818181" stroke="#0a0a0a" stroke-width="1.05" />
<text x="393.05" y="254.11" font-size="8.8" text-anchor="middle" font-weight="bold" fill="#161616" letter-spacing="0.2" stroke="#161616" stroke-width="0.25">**</text>
<line x1="407.75" y1="252.09" x2="407.75" y2="249.27" stroke="#4a4a4a" stroke-width="0.7"/>
<line x1="405.45" y1="249.27" x2="410.05" y2="249.27" stroke="#4a4a4a" stroke-width="0.75"/>
<rect x="403.35" y="252.54" width="8.80" height="51.96" fill="#d8d8d8" stroke="#0a0a0a" stroke-width="1.05" />
<text x="407.75" y="249.67" font-size="8.8" text-anchor="middle" font-weight="bold" fill="#161616" letter-spacing="0.2" stroke="#161616" stroke-width="0.25">**</text>
<line x1="354.50" y1="239.50" x2="354.50" y2="305.00" stroke="#111" stroke-width="1.05"/>
<line x1="354.30" y1="304.70" x2="418.30" y2="304.70" stroke="#111" stroke-width="1.1"/>
<line x1="351.70" y1="240.00" x2="354.50" y2="240.00" stroke="#111" stroke-width="0.9"/>
<text x="350.30" y="242.41" font-size="6.7" text-anchor="end" font-weight="bold" fill="#111" letter-spacing="-0.3" stroke="#111" stroke-width="0.107">1.6</text>
<line x1="351.70" y1="256.12" x2="354.50" y2="256.12" stroke="#111" stroke-width="0.9"/>
<text x="350.30" y="258.54" font-size="6.7" text-anchor="end" font-weight="bold" fill="#111" letter-spacing="-0.3" stroke="#111" stroke-width="0.107">1.2</text>
<line x1="351.70" y1="272.25" x2="354.50" y2="272.25" stroke="#111" stroke-width="0.9"/>
<text x="350.30" y="274.66" font-size="6.7" text-anchor="end" font-weight="bold" fill="#111" letter-spacing="-0.3" stroke="#111" stroke-width="0.107">0.8</text>
<line x1="351.70" y1="288.38" x2="354.50" y2="288.38" stroke="#111" stroke-width="0.9"/>
<text x="350.30" y="290.79" font-size="6.7" text-anchor="end" font-weight="bold" fill="#111" letter-spacing="-0.3" stroke="#111" stroke-width="0.107">0.4</text>
<line x1="351.70" y1="304.50" x2="354.50" y2="304.50" stroke="#111" stroke-width="0.9"/>
<text x="350.30" y="306.91" font-size="6.7" text-anchor="end" font-weight="bold" fill="#111" letter-spacing="-0.3" stroke="#111" stroke-width="0.107">0.0</text>
<line x1="364.05" y1="304.50" x2="364.05" y2="306.90" stroke="#111" stroke-width="0.9"/>
<text x="364.05" y="314.54" font-size="7.6" text-anchor="middle" font-weight="bold" fill="#111"  stroke="#111" stroke-width="0.122">C</text>
<line x1="378.35" y1="304.50" x2="378.35" y2="306.90" stroke="#111" stroke-width="0.9"/>
<text x="378.35" y="314.54" font-size="7.6" text-anchor="middle" font-weight="bold" fill="#111"  stroke="#111" stroke-width="0.122">0.5</text>
<line x1="393.05" y1="304.50" x2="393.05" y2="306.90" stroke="#111" stroke-width="0.9"/>
<text x="393.05" y="314.54" font-size="7.6" text-anchor="middle" font-weight="bold" fill="#111"  stroke="#111" stroke-width="0.122">5</text>
<line x1="407.75" y1="304.50" x2="407.75" y2="306.90" stroke="#111" stroke-width="0.9"/>
<text x="407.75" y="314.54" font-size="7.6" text-anchor="middle" font-weight="bold" fill="#111"  stroke="#111" stroke-width="0.122">25</text>
<text x="386.00" y="326.22" font-size="5.9" text-anchor="middle" font-weight="bold" fill="#111" stroke="#111" stroke-width="0.12">RO3306  <tspan font-size="5.90">(µM)</tspan></text>
<text transform="translate(337.85 270.40) rotate(-90)" font-size="7.35" text-anchor="middle" font-weight="bold" fill="#111" letter-spacing="0.05">Relative Caspase-8 level</text>
<text x="81.10" y="372.40" font-size="8.7" text-anchor="middle" font-weight="bold" fill="#111"  stroke="#111" stroke-width="0.139">OVCAR5</text>
<rect x="54.55" y="415.25" width="9.00" height="42.75" fill="#080808" stroke="#0a0a0a" stroke-width="1.05" />
<line x1="73.75" y1="415.66" x2="73.75" y2="410.48" stroke="#4a4a4a" stroke-width="0.7"/>
<line x1="71.45" y1="410.48" x2="76.05" y2="410.48" stroke="#4a4a4a" stroke-width="0.75"/>
<rect x="69.25" y="416.11" width="9.00" height="41.89" fill="#a2a2a5" stroke="#0a0a0a" stroke-width="1.05" />
<line x1="88.40" y1="406.16" x2="88.40" y2="405.08" stroke="#4a4a4a" stroke-width="0.7"/>
<line x1="86.10" y1="405.08" x2="90.70" y2="405.08" stroke="#4a4a4a" stroke-width="0.75"/>
<rect x="83.95" y="406.61" width="8.90" height="51.39" fill="#818181" stroke="#0a0a0a" stroke-width="1.05" />
<text x="88.40" y="405.48" font-size="8.8" text-anchor="middle" font-weight="bold" fill="#161616" letter-spacing="0.2" stroke="#161616" stroke-width="0.25">**</text>
<line x1="103.05" y1="403.14" x2="103.05" y2="400.54" stroke="#4a4a4a" stroke-width="0.7"/>
<line x1="100.75" y1="400.54" x2="105.35" y2="400.54" stroke="#4a4a4a" stroke-width="0.75"/>
<rect x="98.55" y="403.59" width="9.00" height="54.41" fill="#d8d8d8" stroke="#0a0a0a" stroke-width="1.05" />
<text x="103.05" y="400.94" font-size="8.8" text-anchor="middle" font-weight="bold" fill="#161616" letter-spacing="0.2" stroke="#161616" stroke-width="0.25">**</text>
<line x1="50.40" y1="392.70" x2="50.40" y2="458.50" stroke="#111" stroke-width="1.05"/>
<line x1="50.20" y1="458.20" x2="112.00" y2="458.20" stroke="#111" stroke-width="1.1"/>
<line x1="47.60" y1="393.20" x2="50.40" y2="393.20" stroke="#111" stroke-width="0.9"/>
<text x="46.20" y="395.72" font-size="7.0" text-anchor="end" font-weight="bold" fill="#111" letter-spacing="0.1" stroke="#111" stroke-width="0.112">1.5</text>
<line x1="47.60" y1="414.80" x2="50.40" y2="414.80" stroke="#111" stroke-width="0.9"/>
<text x="46.20" y="417.32" font-size="7.0" text-anchor="end" font-weight="bold" fill="#111" letter-spacing="0.1" stroke="#111" stroke-width="0.112">1.0</text>
<line x1="47.60" y1="436.40" x2="50.40" y2="436.40" stroke="#111" stroke-width="0.9"/>
<text x="46.20" y="438.92" font-size="7.0" text-anchor="end" font-weight="bold" fill="#111" letter-spacing="0.1" stroke="#111" stroke-width="0.112">0.5</text>
<line x1="47.60" y1="458.00" x2="50.40" y2="458.00" stroke="#111" stroke-width="0.9"/>
<text x="46.20" y="460.52" font-size="7.0" text-anchor="end" font-weight="bold" fill="#111" letter-spacing="0.1" stroke="#111" stroke-width="0.112">0.0</text>
<line x1="59.05" y1="458.00" x2="59.05" y2="460.40" stroke="#111" stroke-width="0.9"/>
<text x="59.05" y="469.04" font-size="7.6" text-anchor="middle" font-weight="bold" fill="#111"  stroke="#111" stroke-width="0.122">C</text>
<line x1="73.75" y1="458.00" x2="73.75" y2="460.40" stroke="#111" stroke-width="0.9"/>
<text x="73.75" y="469.04" font-size="7.6" text-anchor="middle" font-weight="bold" fill="#111"  stroke="#111" stroke-width="0.122">0.5</text>
<line x1="88.40" y1="458.00" x2="88.40" y2="460.40" stroke="#111" stroke-width="0.9"/>
<text x="88.40" y="469.04" font-size="7.6" text-anchor="middle" font-weight="bold" fill="#111"  stroke="#111" stroke-width="0.122">5</text>
<line x1="103.05" y1="458.00" x2="103.05" y2="460.40" stroke="#111" stroke-width="0.9"/>
<text x="103.05" y="469.04" font-size="7.6" text-anchor="middle" font-weight="bold" fill="#111"  stroke="#111" stroke-width="0.122">25</text>
<text x="81.20" y="480.52" font-size="5.9" text-anchor="middle" font-weight="bold" fill="#111" stroke="#111" stroke-width="0.12">RO3306  <tspan font-size="5.90">(µM)</tspan></text>
<text transform="translate(31.95 424.00) rotate(-90)" font-size="7.35" text-anchor="middle" font-weight="bold" fill="#111" letter-spacing="0.05">Relative Caspase-9 level</text>
<text x="179.00" y="372.40" font-size="8.65" text-anchor="middle" font-weight="bold" fill="#111"  stroke="#111" stroke-width="0.138">SKOV3</text>
<rect x="151.35" y="414.18" width="8.70" height="42.82" fill="#080808" stroke="#0a0a0a" stroke-width="1.05" />
<line x1="170.30" y1="416.33" x2="170.30" y2="414.17" stroke="#4a4a4a" stroke-width="0.7"/>
<line x1="168.00" y1="414.17" x2="172.60" y2="414.17" stroke="#4a4a4a" stroke-width="0.75"/>
<rect x="165.95" y="416.78" width="8.70" height="40.22" fill="#a2a2a5" stroke="#0a0a0a" stroke-width="1.05" />
<line x1="184.80" y1="405.08" x2="184.80" y2="402.05" stroke="#4a4a4a" stroke-width="0.7"/>
<line x1="182.50" y1="402.05" x2="187.10" y2="402.05" stroke="#4a4a4a" stroke-width="0.75"/>
<rect x="180.25" y="405.53" width="9.10" height="51.47" fill="#818181" stroke="#0a0a0a" stroke-width="1.05" />
<text x="184.80" y="402.45" font-size="8.8" text-anchor="middle" font-weight="bold" fill="#161616" letter-spacing="0.2" stroke="#161616" stroke-width="0.25">*</text>
<line x1="199.70" y1="398.59" x2="199.70" y2="395.99" stroke="#4a4a4a" stroke-width="0.7"/>
<line x1="197.40" y1="395.99" x2="202.00" y2="395.99" stroke="#4a4a4a" stroke-width="0.75"/>
<rect x="195.35" y="399.04" width="8.70" height="57.96" fill="#d8d8d8" stroke="#0a0a0a" stroke-width="1.05" />
<text x="199.70" y="396.39" font-size="8.8" text-anchor="middle" font-weight="bold" fill="#161616" letter-spacing="0.2" stroke="#161616" stroke-width="0.25">*</text>
<line x1="147.20" y1="391.60" x2="147.20" y2="457.50" stroke="#111" stroke-width="1.05"/>
<line x1="147.00" y1="457.20" x2="210.30" y2="457.20" stroke="#111" stroke-width="1.1"/>
<line x1="144.40" y1="392.10" x2="147.20" y2="392.10" stroke="#111" stroke-width="0.9"/>
<text x="143.00" y="394.40" font-size="6.4" text-anchor="end" font-weight="bold" fill="#111" letter-spacing="0.1" stroke="#111" stroke-width="0.102">1.5</text>
<line x1="144.40" y1="413.73" x2="147.20" y2="413.73" stroke="#111" stroke-width="0.9"/>
<text x="143.00" y="416.04" font-size="6.4" text-anchor="end" font-weight="bold" fill="#111" letter-spacing="0.1" stroke="#111" stroke-width="0.102">1.0</text>
<line x1="144.40" y1="435.37" x2="147.20" y2="435.37" stroke="#111" stroke-width="0.9"/>
<text x="143.00" y="437.67" font-size="6.4" text-anchor="end" font-weight="bold" fill="#111" letter-spacing="0.1" stroke="#111" stroke-width="0.102">0.5</text>
<line x1="144.40" y1="457.00" x2="147.20" y2="457.00" stroke="#111" stroke-width="0.9"/>
<text x="143.00" y="459.30" font-size="6.4" text-anchor="end" font-weight="bold" fill="#111" letter-spacing="0.1" stroke="#111" stroke-width="0.102">0.0</text>
<line x1="155.70" y1="457.00" x2="155.70" y2="459.40" stroke="#111" stroke-width="0.9"/>
<text x="155.70" y="467.06" font-size="7.4" text-anchor="middle" font-weight="bold" fill="#111"  stroke="#111" stroke-width="0.118">C</text>
<line x1="170.30" y1="457.00" x2="170.30" y2="459.40" stroke="#111" stroke-width="0.9"/>
<text x="170.30" y="467.06" font-size="7.4" text-anchor="middle" font-weight="bold" fill="#111"  stroke="#111" stroke-width="0.118">0.5</text>
<line x1="184.80" y1="457.00" x2="184.80" y2="459.40" stroke="#111" stroke-width="0.9"/>
<text x="184.80" y="467.06" font-size="7.4" text-anchor="middle" font-weight="bold" fill="#111"  stroke="#111" stroke-width="0.118">5</text>
<line x1="199.70" y1="457.00" x2="199.70" y2="459.40" stroke="#111" stroke-width="0.9"/>
<text x="199.70" y="467.06" font-size="7.4" text-anchor="middle" font-weight="bold" fill="#111"  stroke="#111" stroke-width="0.118">25</text>
<text x="178.60" y="479.47" font-size="6.3" text-anchor="middle" font-weight="bold" fill="#111" stroke="#111" stroke-width="0.12">RO3306  <tspan font-size="5.98">(µM)</tspan></text>
<text transform="translate(131.41 423.00) rotate(-90)" font-size="6.7" text-anchor="middle" font-weight="bold" fill="#111" letter-spacing="0.05">Relative Caspase-9 level</text>
<text x="284.30" y="358.20" font-size="9.75" text-anchor="middle" font-weight="bold" fill="#111"  stroke="#111" stroke-width="0.156">OVCAR5</text>
<text x="399.30" y="357.30" font-size="9.75" text-anchor="middle" font-weight="bold" fill="#111"  stroke="#111" stroke-width="0.156">SKOV3</text>
<text x="212.20" y="369.50" font-size="8.9" text-anchor="start" font-weight="bold" fill="#111"  stroke="#111" stroke-width="0.142">RO3306</text>
<text x="255.60" y="369.50" font-size="8.9" text-anchor="middle" font-weight="bold" fill="#111"  stroke="#111" stroke-width="0.142">C</text>
<text x="271.80" y="369.50" font-size="8.9" text-anchor="middle" font-weight="bold" fill="#111"  stroke="#111" stroke-width="0.142">0.5</text>
<text x="288.80" y="369.50" font-size="8.9" text-anchor="middle" font-weight="bold" fill="#111"  stroke="#111" stroke-width="0.142">5</text>
<text x="303.40" y="369.50" font-size="8.9" text-anchor="middle" font-weight="bold" fill="#111"  stroke="#111" stroke-width="0.142">25</text>
<text x="371.00" y="369.70" font-size="8.8" text-anchor="middle" font-weight="bold" fill="#111"  stroke="#111" stroke-width="0.141">C</text>
<text x="385.40" y="369.70" font-size="8.8" text-anchor="middle" font-weight="bold" fill="#111"  stroke="#111" stroke-width="0.141">0.5</text>
<text x="401.80" y="369.70" font-size="8.8" text-anchor="middle" font-weight="bold" fill="#111"  stroke="#111" stroke-width="0.141">5</text>
<text x="416.70" y="369.70" font-size="8.8" text-anchor="middle" font-weight="bold" fill="#111"  stroke="#111" stroke-width="0.141">25</text>
<text x="424.40" y="369.70" font-size="8.8" text-anchor="start" font-weight="bold" fill="#111"  stroke="#111" stroke-width="0.141">(µM)</text>
<text x="339.30" y="382.90" font-size="9.0" text-anchor="middle" font-weight="bold" fill="#111"  stroke="#111" stroke-width="0.144">Mcl-1</text>
<text x="339.10" y="402.00" font-size="9.0" text-anchor="middle" font-weight="bold" fill="#111"  stroke="#111" stroke-width="0.144">Bcl-2</text>
<text x="337.80" y="421.60" font-size="9.0" text-anchor="middle" font-weight="bold" fill="#111"  stroke="#111" stroke-width="0.144">Bax</text>
<text x="338.90" y="435.50" font-size="9.0" text-anchor="middle" font-weight="bold" fill="#111"  stroke="#111" stroke-width="0.144">Cleaved</text>
<text x="338.60" y="445.40" font-size="9.0" text-anchor="middle" font-weight="bold" fill="#111"  stroke="#111" stroke-width="0.144">PARP</text>
<text x="340.20" y="459.80" font-size="9.0" text-anchor="middle" font-weight="bold" fill="#111"  stroke="#111" stroke-width="0.144">β-Actin</text>
<clipPath id="cpo1"><rect x="247.40" y="373.60" width="63.80" height="14.00"/></clipPath>
<g clip-path="url(#cpo1)">
<rect x="247.40" y="373.60" width="63.80" height="14.00" fill="#e6e6e6" stroke="none" stroke-width="0.7" />
<rect x="247.40" y="373.60" width="63.80" height="14.00" filter="url(#nz)" opacity="0.048"/>
<g filter="url(#bl)">
<rect x="251.60" y="378.50" width="13.60" height="3.20" rx="1.52" fill="#0c0c0c" fill-opacity="1.0"/>
<rect x="267.20" y="378.85" width="12.00" height="2.70" rx="1.28" fill="#0c0c0c" fill-opacity="0.97"/>
<rect x="281.20" y="379.40" width="12.40" height="2.00" rx="0.95" fill="#0c0c0c" fill-opacity="0.82" transform="rotate(-4 287.40 380.40)"/>
<rect x="297.40" y="378.10" width="10.40" height="3.40" rx="1.61" fill="#0c0c0c" fill-opacity="0.16"/>
</g></g>
<rect x="247.40" y="373.60" width="63.80" height="14.00" fill="none" stroke="#1a1a1a" stroke-width="0.9" />
<clipPath id="cpo2"><rect x="247.40" y="392.10" width="63.80" height="14.70"/></clipPath>
<g clip-path="url(#cpo2)">
<rect x="247.40" y="392.10" width="63.80" height="14.70" fill="#c0c0c0" stroke="none" stroke-width="0.7" />
<rect x="247.40" y="392.10" width="63.80" height="14.70" fill="url(#gd1)"/>
<rect x="247.40" y="392.10" width="63.80" height="14.70" filter="url(#nz)" opacity="0.12"/>
<g filter="url(#bl)">
<rect x="248.60" y="397.45" width="11.20" height="2.90" rx="1.38" fill="#0c0c0c" fill-opacity="0.66"/>
<rect x="262.60" y="397.60" width="12.00" height="3.20" rx="1.52" fill="#0c0c0c" fill-opacity="0.74"/>
<rect x="277.40" y="399.20" width="12.40" height="2.00" rx="0.95" fill="#0c0c0c" fill-opacity="0.34"/>
<rect x="294.20" y="399.70" width="13.60" height="2.00" rx="0.95" fill="#0c0c0c" fill-opacity="0.36"/>
</g></g>
<rect x="247.40" y="392.10" width="63.80" height="14.70" fill="none" stroke="#1a1a1a" stroke-width="0.9" />
<clipPath id="cpo3"><rect x="247.40" y="410.80" width="63.80" height="15.50"/></clipPath>
<g clip-path="url(#cpo3)">
<rect x="247.40" y="410.80" width="63.80" height="15.50" fill="#d6d6d6" stroke="none" stroke-width="0.7" />
<rect x="247.40" y="410.80" width="63.80" height="15.50" filter="url(#nz)" opacity="0.3"/>
<g filter="url(#bl)">
<rect x="248.80" y="418.10" width="11.20" height="2.00" rx="0.95" fill="#0c0c0c" fill-opacity="0.8"/>
<rect x="261.80" y="417.25" width="12.80" height="3.10" rx="1.47" fill="#0c0c0c" fill-opacity="0.95"/>
<rect x="277.40" y="417.55" width="14.40" height="4.50" rx="2.14" fill="#0c0c0c" fill-opacity="1.0"/>
<rect x="292.60" y="417.70" width="16.00" height="4.80" rx="2.28" fill="#0c0c0c" fill-opacity="1.0"/>
<rect x="248.00" y="418.90" width="60.00" height="1.40" rx="0.66" fill="#0c0c0c" fill-opacity="0.55"/>
</g></g>
<rect x="247.40" y="410.80" width="63.80" height="15.50" fill="none" stroke="#1a1a1a" stroke-width="0.9" />
<clipPath id="cpo4"><rect x="247.40" y="431.00" width="63.80" height="15.30"/></clipPath>
<g clip-path="url(#cpo4)">
<rect x="247.40" y="431.00" width="63.80" height="15.30" fill="#b0b0b0" stroke="none" stroke-width="0.7" />
<rect x="247.40" y="431.00" width="63.80" height="15.30" filter="url(#nz)" opacity="0.12"/>
<g filter="url(#bl)">
<rect x="247.80" y="432.80" width="15.60" height="3.80" rx="1.80" fill="#0c0c0c" fill-opacity="0.97"/>
<rect x="264.80" y="433.40" width="13.60" height="3.40" rx="1.61" fill="#0c0c0c" fill-opacity="0.95"/>
<rect x="280.00" y="433.40" width="14.00" height="4.60" rx="2.18" fill="#0c0c0c" fill-opacity="1.0"/>
<rect x="295.40" y="434.30" width="13.20" height="3.20" rx="1.52" fill="#0c0c0c" fill-opacity="0.95"/>
<rect x="248.60" y="440.40" width="12.40" height="2.00" rx="0.95" fill="#0c0c0c" fill-opacity="0.26"/>
<rect x="265.00" y="440.80" width="12.00" height="2.00" rx="0.95" fill="#0c0c0c" fill-opacity="0.26"/>
<rect x="281.20" y="441.80" width="11.20" height="2.20" rx="1.04" fill="#0c0c0c" fill-opacity="0.5"/>
<rect x="295.40" y="441.80" width="12.40" height="2.20" rx="1.04" fill="#0c0c0c" fill-opacity="0.55"/>
<rect x="248.00" y="431.00" width="62.00" height="2.40" rx="1.14" fill="#0c0c0c" fill-opacity="0.35"/>
</g></g>
<rect x="247.40" y="431.00" width="63.80" height="15.30" fill="none" stroke="#1a1a1a" stroke-width="0.9" />
<clipPath id="cpo5"><rect x="247.40" y="449.30" width="63.80" height="15.60"/></clipPath>
<g clip-path="url(#cpo5)">
<rect x="247.40" y="449.30" width="63.80" height="15.60" fill="#e0e0e0" stroke="none" stroke-width="0.7" />
<rect x="247.40" y="449.30" width="63.80" height="15.60" filter="url(#nz)" opacity="0.048"/>
<g filter="url(#bl)">
<rect x="249.80" y="454.50" width="14.80" height="5.40" rx="2.56" fill="#0c0c0c" fill-opacity="1.0"/>
<rect x="265.30" y="455.30" width="14.40" height="4.80" rx="2.28" fill="#0c0c0c" fill-opacity="1.0"/>
<rect x="280.00" y="455.50" width="14.00" height="4.60" rx="2.18" fill="#0c0c0c" fill-opacity="1.0"/>
<rect x="295.20" y="454.70" width="15.60" height="5.40" rx="2.56" fill="#0c0c0c" fill-opacity="1.0"/>
<rect x="252.00" y="455.90" width="56.00" height="3.40" rx="1.61" fill="#0c0c0c" fill-opacity="1.0"/>
</g></g>
<rect x="247.40" y="449.30" width="63.80" height="15.60" fill="none" stroke="#1a1a1a" stroke-width="0.9" />
<clipPath id="cps1"><rect x="362.60" y="373.40" width="63.40" height="14.90"/></clipPath>
<g clip-path="url(#cps1)">
<rect x="362.60" y="373.40" width="63.40" height="14.90" fill="#e3e3e3" stroke="none" stroke-width="0.7" />
<rect x="362.60" y="373.40" width="63.40" height="14.90" filter="url(#nz)" opacity="0.04"/>
<g filter="url(#bl)">
<rect x="362.70" y="379.30" width="16.40" height="4.00" rx="1.90" fill="#0c0c0c" fill-opacity="1.0"/>
<rect x="380.40" y="379.60" width="13.60" height="2.80" rx="1.33" fill="#0c0c0c" fill-opacity="0.96"/>
<rect x="396.00" y="379.80" width="12.00" height="2.20" rx="1.04" fill="#0c0c0c" fill-opacity="0.88"/>
<rect x="411.80" y="380.60" width="10.80" height="2.00" rx="0.95" fill="#0c0c0c" fill-opacity="0.1"/>
<rect x="424.70" y="380.40" width="1.80" height="2.40" rx="0.85" fill="#0c0c0c" fill-opacity="0.8"/>
</g></g>
<rect x="362.60" y="373.40" width="63.40" height="14.90" fill="none" stroke="#1a1a1a" stroke-width="0.9" />
<clipPath id="cps2"><rect x="362.60" y="392.10" width="63.40" height="14.90"/></clipPath>
<g clip-path="url(#cps2)">
<rect x="362.60" y="392.10" width="63.40" height="14.90" fill="#b6b6b6" stroke="none" stroke-width="0.7" />
<rect x="362.60" y="392.10" width="63.40" height="14.90" filter="url(#nz)" opacity="0.16"/>
<g filter="url(#bl)">
<rect x="362.80" y="399.00" width="13.20" height="2.40" rx="1.14" fill="#0c0c0c" fill-opacity="0.62"/>
<rect x="378.00" y="399.00" width="12.00" height="2.40" rx="1.14" fill="#0c0c0c" fill-opacity="0.58"/>
<rect x="392.20" y="398.80" width="11.60" height="2.00" rx="0.95" fill="#0c0c0c" fill-opacity="0.42"/>
<rect x="407.60" y="398.60" width="12.00" height="2.00" rx="0.95" fill="#0c0c0c" fill-opacity="0.16"/>
</g></g>
<rect x="362.60" y="392.10" width="63.40" height="14.90" fill="none" stroke="#1a1a1a" stroke-width="0.9" />
<clipPath id="cps3"><rect x="362.60" y="410.80" width="63.40" height="15.70"/></clipPath>
<g clip-path="url(#cps3)">
<rect x="362.60" y="410.80" width="63.40" height="15.70" fill="#d8d8d8" stroke="none" stroke-width="0.7" />
<rect x="362.60" y="410.80" width="63.40" height="15.70" filter="url(#nz)" opacity="0.04"/>
<g filter="url(#bl)">
<rect x="363.60" y="418.00" width="14.00" height="2.00" rx="0.95" fill="#0c0c0c" fill-opacity="0.82"/>
<rect x="378.60" y="417.30" width="13.60" height="3.00" rx="1.42" fill="#0c0c0c" fill-opacity="0.96"/>
<rect x="392.60" y="417.20" width="14.00" height="3.00" rx="1.42" fill="#0c0c0c" fill-opacity="0.96"/>
<rect x="406.60" y="417.50" width="15.20" height="2.80" rx="1.33" fill="#0c0c0c" fill-opacity="0.94"/>
<rect x="364.00" y="418.20" width="58.00" height="1.40" rx="0.66" fill="#0c0c0c" fill-opacity="0.75"/>
<rect x="420.90" y="416.90" width="5.20" height="1.40" rx="0.66" fill="#0c0c0c" fill-opacity="0.7" transform="rotate(-38 423.50 417.60)"/>
</g></g>
<rect x="362.60" y="410.80" width="63.40" height="15.70" fill="none" stroke="#1a1a1a" stroke-width="0.9" />
<clipPath id="cps4"><rect x="362.60" y="430.80" width="63.40" height="15.60"/></clipPath>
<g clip-path="url(#cps4)">
<rect x="362.60" y="430.80" width="63.40" height="15.60" fill="#acacac" stroke="none" stroke-width="0.7" />
<rect x="362.60" y="430.80" width="63.40" height="15.60" filter="url(#nz)" opacity="0.14"/>
<g filter="url(#bl)">
<rect x="364.60" y="434.80" width="14.40" height="2.20" rx="1.04" fill="#0c0c0c" fill-opacity="0.8"/>
<rect x="381.60" y="434.80" width="11.60" height="2.40" rx="1.14" fill="#0c0c0c" fill-opacity="0.78"/>
<rect x="396.40" y="434.70" width="12.40" height="2.60" rx="1.23" fill="#0c0c0c" fill-opacity="0.85"/>
<rect x="410.60" y="434.10" width="13.60" height="4.20" rx="1.99" fill="#0c0c0c" fill-opacity="1.0"/>
<rect x="410.80" y="439.00" width="12.80" height="5.20" rx="2.47" fill="#0c0c0c" fill-opacity="0.2"/>
<rect x="362.00" y="430.70" width="64.00" height="3.00" rx="1.42" fill="#0c0c0c" fill-opacity="0.42"/>
<rect x="379.30" y="432.00" width="1.40" height="14.00" rx="0.66" fill="#0c0c0c" fill-opacity="-0.0"/>
</g></g>
<rect x="362.60" y="430.80" width="63.40" height="15.60" fill="none" stroke="#1a1a1a" stroke-width="0.9" />
<clipPath id="cps5"><rect x="362.60" y="449.30" width="63.40" height="16.40"/></clipPath>
<g clip-path="url(#cps5)">
<rect x="362.60" y="449.30" width="63.40" height="16.40" fill="#d4d4d4" stroke="none" stroke-width="0.7" />
<rect x="362.60" y="449.30" width="63.40" height="16.40" filter="url(#nz)" opacity="0.04"/>
<g filter="url(#bl)">
<rect x="363.80" y="457.05" width="14.00" height="2.10" rx="1.00" fill="#0c0c0c" fill-opacity="0.92"/>
<rect x="379.40" y="456.75" width="13.20" height="2.30" rx="1.09" fill="#0c0c0c" fill-opacity="0.94"/>
<rect x="394.40" y="457.05" width="13.20" height="2.10" rx="1.00" fill="#0c0c0c" fill-opacity="0.92"/>
<rect x="409.20" y="456.85" width="13.60" height="2.30" rx="1.09" fill="#0c0c0c" fill-opacity="0.94"/>
<rect x="363.00" y="457.50" width="60.00" height="1.20" rx="0.57" fill="#0c0c0c" fill-opacity="0.75"/>
</g></g>
<rect x="362.60" y="449.30" width="63.40" height="16.40" fill="none" stroke="#1a1a1a" stroke-width="0.9" />
<rect x="262.00" y="486.63" width="2.48" height="23.87" fill="#0e0e0e" stroke="#1c1c1c" stroke-width="0.5" />
<rect x="264.88" y="486.63" width="2.48" height="23.87" fill="#8e8e8e" stroke="#1c1c1c" stroke-width="0.5" />
<rect x="267.75" y="491.41" width="2.48" height="19.09" fill="#686868" stroke="#1c1c1c" stroke-width="0.5" />
<rect x="270.62" y="501.67" width="2.48" height="8.83" fill="#a9a9a9" stroke="#1c1c1c" stroke-width="0.5" />
<rect x="275.30" y="486.63" width="2.48" height="23.87" fill="#0e0e0e" stroke="#1c1c1c" stroke-width="0.5" />
<rect x="278.18" y="498.57" width="2.48" height="11.93" fill="#8e8e8e" stroke="#1c1c1c" stroke-width="0.5" />
<rect x="281.05" y="505.73" width="2.48" height="4.77" fill="#686868" stroke="#1c1c1c" stroke-width="0.5" />
<rect x="283.93" y="507.64" width="2.48" height="2.86" fill="#a9a9a9" stroke="#1c1c1c" stroke-width="0.5" />
<rect x="289.20" y="486.63" width="2.48" height="23.87" fill="#0e0e0e" stroke="#1c1c1c" stroke-width="0.5" />
<rect x="292.07" y="486.63" width="2.48" height="23.87" fill="#8e8e8e" stroke="#1c1c1c" stroke-width="0.5" />
<rect x="294.95" y="479.47" width="2.48" height="31.03" fill="#686868" stroke="#1c1c1c" stroke-width="0.5" />
<rect x="297.82" y="479.47" width="2.48" height="31.03" fill="#a9a9a9" stroke="#1c1c1c" stroke-width="0.5" />
<rect x="303.10" y="486.63" width="2.45" height="23.87" fill="#0e0e0e" stroke="#1c1c1c" stroke-width="0.5" />
<rect x="305.95" y="486.63" width="2.45" height="23.87" fill="#8e8e8e" stroke="#1c1c1c" stroke-width="0.5" />
<rect x="308.80" y="484.25" width="2.45" height="26.25" fill="#686868" stroke="#1c1c1c" stroke-width="0.5" />
<rect x="311.65" y="477.09" width="2.45" height="33.41" fill="#a9a9a9" stroke="#1c1c1c" stroke-width="0.5" />
<line x1="260.50" y1="473.50" x2="260.50" y2="510.80" stroke="#111" stroke-width="0.8"/>
<line x1="260.50" y1="510.50" x2="315.80" y2="510.50" stroke="#111" stroke-width="0.8"/>
<line x1="258.90" y1="474.70" x2="260.50" y2="474.70" stroke="#111" stroke-width="0.7"/>
<text x="258.40" y="476.60" font-size="5.5" text-anchor="end" font-weight="bold" fill="#111" >1.5</text>
<line x1="258.90" y1="486.63" x2="260.50" y2="486.63" stroke="#111" stroke-width="0.7"/>
<text x="258.40" y="488.53" font-size="5.5" text-anchor="end" font-weight="bold" fill="#111" >1.0</text>
<line x1="258.90" y1="498.57" x2="260.50" y2="498.57" stroke="#111" stroke-width="0.7"/>
<text x="258.40" y="500.47" font-size="5.5" text-anchor="end" font-weight="bold" fill="#111" >0.5</text>
<line x1="258.90" y1="510.50" x2="260.50" y2="510.50" stroke="#111" stroke-width="0.7"/>
<text x="258.40" y="512.40" font-size="5.5" text-anchor="end" font-weight="bold" fill="#111" >0.0</text>
<rect x="263.00" y="470.50" width="3.60" height="3.80" fill="#0e0e0e" stroke="#1c1c1c" stroke-width="0.55" />
<text x="269.40" y="474.30" font-size="5.4" text-anchor="start" font-weight="bold" fill="#111" >C</text>
<rect x="275.50" y="470.50" width="3.60" height="3.80" fill="#b0b0b0" stroke="#1c1c1c" stroke-width="0.55" />
<text x="280.60" y="474.30" font-size="5.4" text-anchor="start" font-weight="bold" fill="#111" >0.5</text>
<rect x="291.00" y="470.50" width="3.60" height="3.80" fill="#808080" stroke="#1c1c1c" stroke-width="0.55" />
<text x="296.70" y="474.30" font-size="5.4" text-anchor="start" font-weight="bold" fill="#111" >5</text>
<rect x="304.20" y="470.50" width="3.60" height="3.80" fill="#e6e6e6" stroke="#1c1c1c" stroke-width="0.55" />
<text x="308.90" y="474.30" font-size="5.4" text-anchor="start" font-weight="bold" fill="#111" >25</text>
<text transform="translate(242.90 490.20) rotate(-90)" font-size="5.55" text-anchor="middle" font-weight="bold" fill="#111" letter-spacing="0">Relative Protein</text>
<text transform="translate(249.00 490.20) rotate(-90)" font-size="5.55" text-anchor="middle" font-weight="bold" fill="#111" letter-spacing="0">Expression</text>
<text transform="translate(268.15 514.70) rotate(-43)" font-size="6.0" text-anchor="end" font-weight="bold" fill="#111" letter-spacing="0">Mcl-1</text>
<text transform="translate(281.45 514.70) rotate(-43)" font-size="6.0" text-anchor="end" font-weight="bold" fill="#111" letter-spacing="0">Bcl-2</text>
<text transform="translate(295.35 514.70) rotate(-43)" font-size="6.0" text-anchor="end" font-weight="bold" fill="#111" letter-spacing="0">Bax</text>
<text transform="translate(309.20 514.70) rotate(-43)" font-size="6.0" text-anchor="end" font-weight="bold" fill="#111" letter-spacing="0">Cleaved-PARP</text>
<rect x="376.60" y="487.30" width="2.55" height="24.00" fill="#0e0e0e" stroke="#1c1c1c" stroke-width="0.5" />
<rect x="379.55" y="490.90" width="2.55" height="20.40" fill="#8e8e8e" stroke="#1c1c1c" stroke-width="0.5" />
<rect x="382.50" y="493.30" width="2.55" height="18.00" fill="#686868" stroke="#1c1c1c" stroke-width="0.5" />
<rect x="385.45" y="509.38" width="2.55" height="1.92" fill="#a9a9a9" stroke="#1c1c1c" stroke-width="0.5" />
<rect x="390.20" y="487.30" width="2.60" height="24.00" fill="#0e0e0e" stroke="#1c1c1c" stroke-width="0.5" />
<rect x="393.20" y="487.30" width="2.60" height="24.00" fill="#8e8e8e" stroke="#1c1c1c" stroke-width="0.5" />
<rect x="396.20" y="502.18" width="2.60" height="9.12" fill="#686868" stroke="#1c1c1c" stroke-width="0.5" />
<rect x="399.20" y="507.70" width="2.60" height="3.60" fill="#a9a9a9" stroke="#1c1c1c" stroke-width="0.5" />
<rect x="404.20" y="487.30" width="2.48" height="24.00" fill="#0e0e0e" stroke="#1c1c1c" stroke-width="0.5" />
<rect x="407.07" y="482.50" width="2.48" height="28.80" fill="#8e8e8e" stroke="#1c1c1c" stroke-width="0.5" />
<rect x="409.95" y="482.50" width="2.48" height="28.80" fill="#686868" stroke="#1c1c1c" stroke-width="0.5" />
<rect x="412.82" y="480.10" width="2.48" height="31.20" fill="#a9a9a9" stroke="#1c1c1c" stroke-width="0.5" />
<rect x="418.20" y="487.30" width="2.50" height="24.00" fill="#0e0e0e" stroke="#1c1c1c" stroke-width="0.5" />
<rect x="421.10" y="487.30" width="2.50" height="24.00" fill="#8e8e8e" stroke="#1c1c1c" stroke-width="0.5" />
<rect x="424.00" y="487.30" width="2.50" height="24.00" fill="#686868" stroke="#1c1c1c" stroke-width="0.5" />
<rect x="426.90" y="478.42" width="2.50" height="32.88" fill="#a9a9a9" stroke="#1c1c1c" stroke-width="0.5" />
<line x1="375.10" y1="474.10" x2="375.10" y2="511.60" stroke="#111" stroke-width="0.8"/>
<line x1="375.10" y1="511.30" x2="431.10" y2="511.30" stroke="#111" stroke-width="0.8"/>
<line x1="373.50" y1="475.30" x2="375.10" y2="475.30" stroke="#111" stroke-width="0.7"/>
<text x="373.00" y="477.20" font-size="5.5" text-anchor="end" font-weight="bold" fill="#111" >1.5</text>
<line x1="373.50" y1="487.30" x2="375.10" y2="487.30" stroke="#111" stroke-width="0.7"/>
<text x="373.00" y="489.20" font-size="5.5" text-anchor="end" font-weight="bold" fill="#111" >1.0</text>
<line x1="373.50" y1="499.30" x2="375.10" y2="499.30" stroke="#111" stroke-width="0.7"/>
<text x="373.00" y="501.20" font-size="5.5" text-anchor="end" font-weight="bold" fill="#111" >0.5</text>
<line x1="373.50" y1="511.30" x2="375.10" y2="511.30" stroke="#111" stroke-width="0.7"/>
<text x="373.00" y="513.20" font-size="5.5" text-anchor="end" font-weight="bold" fill="#111" >0.0</text>
<rect x="378.00" y="471.20" width="3.60" height="3.80" fill="#0e0e0e" stroke="#1c1c1c" stroke-width="0.55" />
<text x="384.20" y="475.00" font-size="5.4" text-anchor="start" font-weight="bold" fill="#111" >C</text>
<rect x="390.60" y="471.20" width="3.60" height="3.80" fill="#b0b0b0" stroke="#1c1c1c" stroke-width="0.55" />
<text x="395.80" y="475.00" font-size="5.4" text-anchor="start" font-weight="bold" fill="#111" >0.5</text>
<rect x="406.10" y="471.20" width="3.60" height="3.80" fill="#808080" stroke="#1c1c1c" stroke-width="0.55" />
<text x="411.90" y="475.00" font-size="5.4" text-anchor="start" font-weight="bold" fill="#111" >5</text>
<rect x="418.90" y="471.20" width="3.60" height="3.80" fill="#e6e6e6" stroke="#1c1c1c" stroke-width="0.55" />
<text x="423.90" y="475.00" font-size="5.4" text-anchor="start" font-weight="bold" fill="#111" >25</text>
<text transform="translate(358.40 491.00) rotate(-90)" font-size="5.55" text-anchor="middle" font-weight="bold" fill="#111" letter-spacing="0">Relative Protein</text>
<text transform="translate(364.40 491.00) rotate(-90)" font-size="5.55" text-anchor="middle" font-weight="bold" fill="#111" letter-spacing="0">Expression</text>
<text transform="translate(382.90 515.50) rotate(-43)" font-size="6.0" text-anchor="end" font-weight="bold" fill="#111" letter-spacing="0">Mcl-1</text>
<text transform="translate(396.60 515.50) rotate(-43)" font-size="6.0" text-anchor="end" font-weight="bold" fill="#111" letter-spacing="0">Bcl-2</text>
<text transform="translate(410.35 515.50) rotate(-43)" font-size="6.0" text-anchor="end" font-weight="bold" fill="#111" letter-spacing="0">Bax</text>
<text transform="translate(424.40 515.50) rotate(-43)" font-size="6.0" text-anchor="end" font-weight="bold" fill="#111" letter-spacing="0">Cleaved-PARP</text>
</svg>
</body></html>
